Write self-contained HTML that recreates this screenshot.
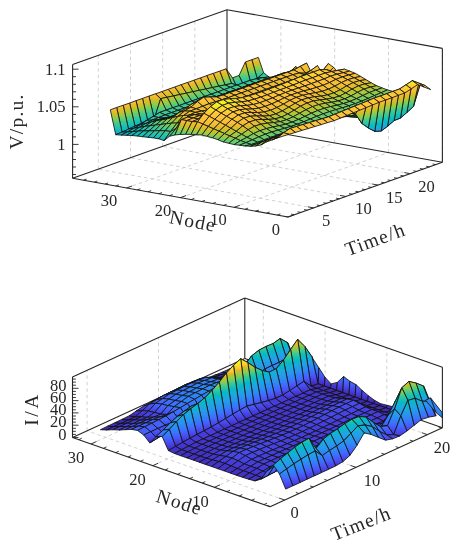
<!DOCTYPE html>
<html><head><meta charset="utf-8"><title>Surface plots</title>
<style>
html,body{margin:0;padding:0;background:#fff}
svg{display:block}
.b{stroke:#262626;stroke-width:1.1;fill:none}
.t{stroke:#262626;stroke-width:.9;fill:none}
.g{stroke:#cdcdcd;stroke-width:.9;stroke-dasharray:3.5 3;fill:none}
.s path{stroke:#111;stroke-width:.85;stroke-linejoin:round;stroke-opacity:1}
text{font-family:"Liberation Serif","Times New Roman",serif;fill:#262626}
.k{font-size:16.5px}
.l{font-size:19.5px;letter-spacing:1.2px}
</style></head><body>
<svg width="459" height="550" viewBox="0 0 459 550">
<rect width="459" height="550" fill="#fff"/>
<path class="g" d="M126.5 188L280.9 133.3"/>
<path class="g" d="M280.9 133.3L280.9 19.4"/>
<path class="g" d="M180.3 197.7L334.7 143"/>
<path class="g" d="M334.7 143L334.7 29.1"/>
<path class="g" d="M234.2 207.3L388.5 152.6"/>
<path class="g" d="M388.5 152.6L388.5 38.7"/>
<path class="g" d="M288 217L442.4 162.3"/>
<path class="g" d="M442.4 162.3L442.4 48.4"/>
<path class="g" d="M313.7 207.9L98.3 169.2"/>
<path class="g" d="M98.3 169.2L98.3 55.3"/>
<path class="g" d="M345.9 196.5L130.5 157.8"/>
<path class="g" d="M130.5 157.8L130.5 43.9"/>
<path class="g" d="M378.1 185.1L162.7 146.4"/>
<path class="g" d="M162.7 146.4L162.7 32.5"/>
<path class="g" d="M410.2 173.7L194.8 135"/>
<path class="g" d="M194.8 135L194.8 21.1"/>
<path class="b" d="M72.6 178.3L227 123.6"/>
<path class="b" d="M227 123.6L442.4 162.3"/>
<path class="b" d="M227 123.6L227 9.7"/>
<path class="b" d="M72.6 64.4L227 9.7"/>
<path class="b" d="M227 9.7L442.4 48.4"/>
<path class="b" d="M442.4 162.3L442.4 48.4"/>
<path class="b" d="M72.6 178.3L72.6 64.4"/>
<path class="b" d="M72.6 178.3L288 217"/>
<path class="b" d="M288 217L442.4 162.3"/>
<g class="s">
<defs><linearGradient id="gt" gradientUnits="userSpaceOnUse" x1="0" y1="-26.3" x2="0" y2="-90.3"><stop offset="0.0000" stop-color="#3e26a8"/><stop offset="0.0553" stop-color="#4537d5"/><stop offset="0.1107" stop-color="#484cf0"/><stop offset="0.1261" stop-color="#4852f4"/><stop offset="0.1661" stop-color="#4562fc"/><stop offset="0.1765" stop-color="#4267fd"/><stop offset="0.2020" stop-color="#3b73ff"/><stop offset="0.2180" stop-color="#337afd"/><stop offset="0.2463" stop-color="#2e87f7"/><stop offset="0.2691" stop-color="#2c90f0"/><stop offset="0.2824" stop-color="#2895ec"/><stop offset="0.2854" stop-color="#2797eb"/><stop offset="0.3279" stop-color="#1fa4e2"/><stop offset="0.3723" stop-color="#12b1d6"/><stop offset="0.3918" stop-color="#0bb6cd"/><stop offset="0.4136" stop-color="#05bac4"/><stop offset="0.4463" stop-color="#12beb9"/><stop offset="0.4900" stop-color="#29c4a6"/><stop offset="0.5243" stop-color="#37c897"/><stop offset="0.5664" stop-color="#57cb7a"/><stop offset="0.5882" stop-color="#69cc6c"/><stop offset="0.6041" stop-color="#7acc5e"/><stop offset="0.6279" stop-color="#94ca4b"/><stop offset="0.6552" stop-color="#abc739"/><stop offset="0.6835" stop-color="#c7c22a"/><stop offset="0.7121" stop-color="#dcbd29"/><stop offset="0.7391" stop-color="#f0ba30"/><stop offset="0.7471" stop-color="#f4bd33"/><stop offset="0.8308" stop-color="#fec338"/><stop offset="0.8706" stop-color="#fdc836"/><stop offset="0.8926" stop-color="#fbd430"/><stop offset="0.9221" stop-color="#f5e426"/><stop offset="0.9294" stop-color="#f5e823"/><stop offset="0.9576" stop-color="#f5f01d"/><stop offset="1.0000" stop-color="#f9fb15"/></linearGradient></defs>
<path transform="translate(0 134.3)" d="M257.2 -55.8L263.6 -61.6L258.3 -76.9L251.8 -74.6Z" fill="url(#gt)"/>
<path transform="translate(0 136.6)" d="M250.8 -53.2L257.2 -58.1L251.8 -76.9L245.4 -74.6Z" fill="url(#gt)"/>
<path transform="translate(0 138.8)" d="M244.3 -51.8L250.8 -55.5L245.4 -76.9L239 -63.3Z" fill="url(#gt)"/>
<path transform="translate(0 141.1)" d="M237.9 -51.8L244.3 -54.1L239 -65.6L232.5 -63.3Z" fill="url(#gt)"/>
<path transform="translate(0 143.4)" d="M231.5 -59.9L237.9 -54.1L232.5 -65.6L226.1 -74.6Z" fill="url(#gt)"/>
<path transform="translate(0 145.7)" d="M225 -60.8L231.5 -62.2L226.1 -76.9L219.7 -74.6Z" fill="url(#gt)"/>
<path transform="translate(0 148)" d="M218.6 -61.7L225 -63.1L219.7 -76.9L213.2 -74.6Z" fill="url(#gt)"/>
<path transform="translate(0 150.2)" d="M212.2 -62.6L218.6 -64L213.2 -76.9L206.8 -74.6Z" fill="url(#gt)"/>
<path transform="translate(0 152.5)" d="M205.7 -63.5L212.2 -64.9L206.8 -76.9L200.4 -74.6Z" fill="url(#gt)"/>
<path transform="translate(0 154.8)" d="M199.3 -64.4L205.7 -65.8L200.4 -76.9L193.9 -74.6Z" fill="url(#gt)"/>
<path transform="translate(0 157.1)" d="M192.9 -65.3L199.3 -66.7L193.9 -76.9L187.5 -74.6Z" fill="url(#gt)"/>
<path transform="translate(0 159.3)" d="M186.4 -66.2L192.9 -67.6L187.5 -76.9L181.1 -74.6Z" fill="url(#gt)"/>
<path transform="translate(0 161.6)" d="M180 -67.1L186.4 -68.5L181.1 -76.9L174.6 -74.6Z" fill="url(#gt)"/>
<path transform="translate(0 163.9)" d="M173.6 -68L180 -69.4L174.6 -76.9L168.2 -74.6Z" fill="url(#gt)"/>
<path transform="translate(0 166.2)" d="M167.1 -68.9L173.6 -70.3L168.2 -76.9L161.8 -74.6Z" fill="url(#gt)"/>
<path transform="translate(0 168.5)" d="M160.7 -69.8L167.1 -71.2L161.8 -76.9L155.3 -74.6Z" fill="url(#gt)"/>
<path transform="translate(0 170.7)" d="M154.3 -51.8L160.7 -72.1L155.3 -76.9L148.9 -74.6Z" fill="url(#gt)"/>
<path transform="translate(0 173)" d="M147.8 -51.8L154.3 -54.1L148.9 -76.9L142.5 -74.6Z" fill="url(#gt)"/>
<path transform="translate(0 175.3)" d="M141.4 -51.8L147.8 -54.1L142.5 -76.9L136 -74.6Z" fill="url(#gt)"/>
<path transform="translate(0 177.6)" d="M135 -51.4L141.4 -54.1L136 -76.9L129.6 -74.6Z" fill="url(#gt)"/>
<path transform="translate(0 179.9)" d="M128.5 -50.7L135 -53.7L129.6 -76.9L123.2 -74.6Z" fill="url(#gt)"/>
<path transform="translate(0 182.1)" d="M122.1 -50L128.5 -53L123.2 -76.9L116.7 -74.6Z" fill="url(#gt)"/>
<path transform="translate(0 184.4)" d="M115.7 -49.8L122.1 -52.3L116.7 -76.9L110.3 -74.6Z" fill="url(#gt)"/>
<path d="M262.6 77.7L269 77L263.6 72.7L257.2 78.5Z" fill="#30c69e"/>
<path transform="translate(0 137.5)" d="M256.2 -58.7L262.6 -59.8L257.2 -59.1L250.8 -54.1Z" fill="url(#gt)"/>
<path transform="translate(0 139.8)" d="M249.7 -59.3L256.2 -61L250.8 -56.4L244.3 -52.8Z" fill="url(#gt)"/>
<path transform="translate(0 142.1)" d="M243.3 -59.3L249.7 -61.6L244.3 -55L237.9 -52.8Z" fill="url(#gt)"/>
<path transform="translate(0 144.4)" d="M236.9 -59.3L243.3 -61.6L237.9 -55L231.5 -60.9Z" fill="url(#gt)"/>
<path d="M230.4 87.3L236.9 85L231.5 83.5L225 84.9Z" fill="#4aca86"/>
<path d="M224 89.6L230.4 87.3L225 84.9L218.6 86.2Z" fill="#4fcb81"/>
<path d="M217.6 91.9L224 89.6L218.6 86.2L212.2 87.6Z" fill="#55cb7c"/>
<path transform="translate(0 153.5)" d="M211.1 -59.3L217.6 -61.6L212.2 -65.9L205.7 -64.5Z" fill="url(#gt)"/>
<path transform="translate(0 155.8)" d="M204.7 -59.3L211.1 -61.6L205.7 -66.8L199.3 -65.4Z" fill="url(#gt)"/>
<path transform="translate(0 158)" d="M198.3 -59.3L204.7 -61.6L199.3 -67.7L192.9 -66.3Z" fill="url(#gt)"/>
<path transform="translate(0 160.3)" d="M191.8 -59.3L198.3 -61.6L192.9 -68.6L186.4 -67.2Z" fill="url(#gt)"/>
<path transform="translate(0 162.6)" d="M185.4 -59.3L191.8 -61.6L186.4 -69.5L180 -68.1Z" fill="url(#gt)"/>
<path transform="translate(0 164.9)" d="M179 -59.3L185.4 -61.6L180 -70.4L173.6 -69Z" fill="url(#gt)"/>
<path transform="translate(0 167.2)" d="M172.5 -59.3L179 -61.6L173.6 -71.3L167.1 -69.9Z" fill="url(#gt)"/>
<path transform="translate(0 169.4)" d="M166.1 -59.3L172.5 -61.6L167.1 -72.2L160.7 -70.8Z" fill="url(#gt)"/>
<path transform="translate(0 171.7)" d="M159.7 -59.3L166.1 -61.6L160.7 -73.1L154.3 -52.8Z" fill="url(#gt)"/>
<path transform="translate(0 174)" d="M153.2 -57.6L159.7 -61.6L154.3 -55L147.8 -52.8Z" fill="url(#gt)"/>
<path transform="translate(0 176.3)" d="M146.8 -56L153.2 -59.9L147.8 -55L141.4 -52.8Z" fill="url(#gt)"/>
<path transform="translate(0 178.5)" d="M140.4 -53.7L146.8 -58.2L141.4 -55L135 -52.4Z" fill="url(#gt)"/>
<path d="M133.9 128.3L140.4 124.8L135 126.1L128.5 129.1Z" fill="#0bbcbf"/>
<path d="M127.5 131.9L133.9 128.3L128.5 129.1L122.1 132.1Z" fill="#05bac5"/>
<path d="M121.1 135.1L127.5 131.9L122.1 132.1L115.7 134.7Z" fill="#09b8ca"/>
<path d="M268 79.1L274.4 77.5L269 77L262.6 77.7Z" fill="#2dc5a1"/>
<path d="M261.6 80.9L268 79.1L262.6 77.7L256.2 78.8Z" fill="#34c79b"/>
<path d="M255.1 83L261.6 80.9L256.2 78.8L249.7 80.5Z" fill="#38c896"/>
<path d="M248.7 85.2L255.1 83L249.7 80.5L243.3 82.8Z" fill="#3bc894"/>
<path d="M242.2 87.5L248.7 85.2L243.3 82.8L236.9 85Z" fill="#3bc894"/>
<path d="M235.8 89.8L242.2 87.5L236.9 85L230.4 87.3Z" fill="#3bc894"/>
<path d="M229.4 92.1L235.8 89.8L230.4 87.3L224 89.6Z" fill="#3bc894"/>
<path d="M222.9 94.4L229.4 92.1L224 89.6L217.6 91.9Z" fill="#3bc894"/>
<path d="M216.5 96.6L222.9 94.4L217.6 91.9L211.1 94.2Z" fill="#3bc894"/>
<path d="M210.1 98.9L216.5 96.6L211.1 94.2L204.7 96.4Z" fill="#3bc894"/>
<path d="M203.7 101.2L210.1 98.9L204.7 96.4L198.3 98.7Z" fill="#3bc894"/>
<path d="M197.2 103.5L203.7 101.2L198.3 98.7L191.8 101Z" fill="#3bc894"/>
<path d="M190.8 105.8L197.2 103.5L191.8 101L185.4 103.3Z" fill="#3bc894"/>
<path d="M184.4 108L190.8 105.8L185.4 103.3L179 105.6Z" fill="#3bc894"/>
<path d="M177.9 110.3L184.4 108L179 105.6L172.5 107.8Z" fill="#3bc894"/>
<path d="M171.5 112.6L177.9 110.3L172.5 107.8L166.1 110.1Z" fill="#3bc894"/>
<path d="M165.1 114.9L171.5 112.6L166.1 110.1L159.7 112.4Z" fill="#3bc894"/>
<path d="M158.6 117.5L165.1 114.9L159.7 112.4L153.2 116.4Z" fill="#36c898"/>
<path d="M152.2 120.1L158.6 117.5L153.2 116.4L146.8 120.3Z" fill="#2fc69f"/>
<path d="M145.8 123.5L152.2 120.1L146.8 120.3L140.4 124.8Z" fill="#26c3a8"/>
<path d="M139.3 127.4L145.8 123.5L140.4 124.8L133.9 128.3Z" fill="#19c0b3"/>
<path d="M132.9 131.5L139.3 127.4L133.9 128.3L127.5 131.9Z" fill="#0ebdbc"/>
<path d="M126.5 135.3L132.9 131.5L127.5 131.9L121.1 135.1Z" fill="#06bac4"/>
<path d="M273.4 80.2L279.8 78L274.4 77.5L268 79.1Z" fill="#2ec5a0"/>
<path d="M266.9 82.4L273.4 80.2L268 79.1L261.6 80.9Z" fill="#30c69e"/>
<path d="M260.5 84.7L266.9 82.4L261.6 80.9L255.1 83Z" fill="#31c69d"/>
<path d="M254.1 87L260.5 84.7L255.1 83L248.7 85.2Z" fill="#32c69c"/>
<path d="M247.6 89.2L254.1 87L248.7 85.2L242.2 87.5Z" fill="#32c69c"/>
<path d="M241.2 91.5L247.6 89.2L242.2 87.5L235.8 89.8Z" fill="#32c69c"/>
<path d="M234.8 93.8L241.2 91.5L235.8 89.8L229.4 92.1Z" fill="#32c69c"/>
<path d="M228.3 96.1L234.8 93.8L229.4 92.1L222.9 94.4Z" fill="#32c69c"/>
<path d="M221.9 98.4L228.3 96.1L222.9 94.4L216.5 96.6Z" fill="#32c69c"/>
<path d="M215.5 100.6L221.9 98.4L216.5 96.6L210.1 98.9Z" fill="#32c69c"/>
<path d="M209 102.9L215.5 100.6L210.1 98.9L203.7 101.2Z" fill="#32c69c"/>
<path d="M202.6 105.2L209 102.9L203.7 101.2L197.2 103.5Z" fill="#32c69c"/>
<path d="M196.2 107.5L202.6 105.2L197.2 103.5L190.8 105.8Z" fill="#32c69c"/>
<path d="M189.7 109.7L196.2 107.5L190.8 105.8L184.4 108Z" fill="#32c69c"/>
<path d="M183.3 112L189.7 109.7L184.4 108L177.9 110.3Z" fill="#32c69c"/>
<path d="M176.9 114.3L183.3 112L177.9 110.3L171.5 112.6Z" fill="#32c69c"/>
<path d="M170.4 116.6L176.9 114.3L171.5 112.6L165.1 114.9Z" fill="#32c69c"/>
<path d="M164 118.1L170.4 116.6L165.1 114.9L158.6 117.5Z" fill="#32c79c"/>
<path d="M157.6 119.7L164 118.1L158.6 117.5L152.2 120.1Z" fill="#34c79b"/>
<path d="M151.1 122.1L157.6 119.7L152.2 120.1L145.8 123.5Z" fill="#32c79c"/>
<path transform="translate(0 182.8)" d="M144.7 -56.3L151.1 -60.6L145.8 -59.3L139.3 -55.4Z" fill="url(#gt)"/>
<path d="M138.3 131.1L144.7 126.5L139.3 127.4L132.9 131.5Z" fill="#1ac0b2"/>
<path d="M131.8 135.5L138.3 131.1L132.9 131.5L126.5 135.3Z" fill="#0cbcbe"/>
<path d="M278.8 80.3L285.2 77.4L279.8 78L273.4 80.2Z" fill="#33c79c"/>
<path d="M272.3 83.1L278.8 80.3L273.4 80.2L266.9 82.4Z" fill="#31c69d"/>
<path d="M265.9 85.6L272.3 83.1L266.9 82.4L260.5 84.7Z" fill="#30c69f"/>
<path d="M259.5 87.9L265.9 85.6L260.5 84.7L254.1 87Z" fill="#2fc69f"/>
<path d="M253 90.2L259.5 87.9L254.1 87L247.6 89.2Z" fill="#2fc69f"/>
<path d="M246.6 92.5L253 90.2L247.6 89.2L241.2 91.5Z" fill="#2fc69f"/>
<path d="M240.2 94.8L246.6 92.5L241.2 91.5L234.8 93.8Z" fill="#2fc69f"/>
<path d="M233.7 97L240.2 94.8L234.8 93.8L228.3 96.1Z" fill="#2fc69f"/>
<path d="M227.3 99.3L233.7 97L228.3 96.1L221.9 98.4Z" fill="#2fc69f"/>
<path d="M220.9 101.6L227.3 99.3L221.9 98.4L215.5 100.6Z" fill="#2fc69f"/>
<path d="M214.4 103.9L220.9 101.6L215.5 100.6L209 102.9Z" fill="#2fc69f"/>
<path d="M208 106.2L214.4 103.9L209 102.9L202.6 105.2Z" fill="#2fc69f"/>
<path d="M201.6 108.4L208 106.2L202.6 105.2L196.2 107.5Z" fill="#2fc69f"/>
<path d="M195.1 110.7L201.6 108.4L196.2 107.5L189.7 109.7Z" fill="#2fc69f"/>
<path d="M188.7 113L195.1 110.7L189.7 109.7L183.3 112Z" fill="#2fc69f"/>
<path d="M182.3 115.3L188.7 113L183.3 112L176.9 114.3Z" fill="#2fc69f"/>
<path d="M175.8 117.6L182.3 115.3L176.9 114.3L170.4 116.6Z" fill="#2fc69f"/>
<path d="M169.4 118.3L175.8 117.6L170.4 116.6L164 118.1Z" fill="#33c79b"/>
<path d="M163 119L169.4 118.3L164 118.1L157.6 119.7Z" fill="#3dc991"/>
<path d="M156.5 120.8L163 119L157.6 119.7L151.1 122.1Z" fill="#45ca8a"/>
<path transform="translate(0 183.7)" d="M150.1 -58.1L156.5 -62.9L151.1 -61.6L144.7 -57.2Z" fill="url(#gt)"/>
<path transform="translate(0 186)" d="M143.7 -55.1L150.1 -60.3L144.7 -59.5L138.3 -54.9Z" fill="url(#gt)"/>
<path d="M137.2 136L143.7 130.9L138.3 131.1L131.8 135.5Z" fill="#12beb9"/>
<path transform="translate(0 139.1)" d="M284.1 -60.7L290.6 -65.4L285.2 -61.8L278.8 -58.8Z" fill="url(#gt)"/>
<path d="M277.7 82.6L284.1 78.4L278.8 80.3L272.3 83.1Z" fill="#3cc992"/>
<path d="M271.3 85.9L277.7 82.6L272.3 83.1L265.9 85.6Z" fill="#34c79a"/>
<path d="M264.8 88.1L271.3 85.9L265.9 85.6L259.5 87.9Z" fill="#32c69c"/>
<path d="M258.4 90.4L264.8 88.1L259.5 87.9L253 90.2Z" fill="#32c69c"/>
<path d="M252 92.7L258.4 90.4L253 90.2L246.6 92.5Z" fill="#32c69c"/>
<path d="M245.5 95L252 92.7L246.6 92.5L240.2 94.8Z" fill="#32c69c"/>
<path d="M239.1 97.3L245.5 95L240.2 94.8L233.7 97Z" fill="#32c69c"/>
<path d="M232.7 99.5L239.1 97.3L233.7 97L227.3 99.3Z" fill="#32c69c"/>
<path d="M226.2 101.8L232.7 99.5L227.3 99.3L220.9 101.6Z" fill="#32c69c"/>
<path d="M219.8 104.1L226.2 101.8L220.9 101.6L214.4 103.9Z" fill="#32c69c"/>
<path d="M213.4 106.4L219.8 104.1L214.4 103.9L208 106.2Z" fill="#32c69c"/>
<path d="M206.9 108.7L213.4 106.4L208 106.2L201.6 108.4Z" fill="#32c69c"/>
<path d="M200.5 110.9L206.9 108.7L201.6 108.4L195.1 110.7Z" fill="#32c69c"/>
<path d="M194.1 113.2L200.5 110.9L195.1 110.7L188.7 113Z" fill="#32c69c"/>
<path d="M187.6 115.5L194.1 113.2L188.7 113L182.3 115.3Z" fill="#32c69c"/>
<path d="M181.2 117.8L187.6 115.5L182.3 115.3L175.8 117.6Z" fill="#32c69c"/>
<path d="M174.8 118L181.2 117.8L175.8 117.6L169.4 118.3Z" fill="#38c896"/>
<path d="M168.3 118.3L174.8 118L169.4 118.3L163 119Z" fill="#4dca83"/>
<path d="M161.9 119.8L168.3 118.3L163 119L156.5 120.8Z" fill="#5bcc77"/>
<path transform="translate(0 184.7)" d="M155.5 -59.6L161.9 -64.9L156.5 -63.9L150.1 -59Z" fill="url(#gt)"/>
<path transform="translate(0 187)" d="M149 -56.1L155.5 -61.9L150.1 -61.3L143.7 -56.1Z" fill="url(#gt)"/>
<path d="M142.6 136.7L149 130.9L143.7 130.9L137.2 136Z" fill="#18c0b4"/>
<path transform="translate(0 140.1)" d="M289.5 -68L296 -73.6L290.6 -66.4L284.1 -61.7Z" fill="url(#gt)"/>
<path transform="translate(0 142.4)" d="M283.1 -65L289.5 -70.2L284.1 -64L277.7 -59.8Z" fill="url(#gt)"/>
<path transform="translate(0 144.6)" d="M276.7 -63.8L283.1 -67.3L277.7 -62.1L271.3 -58.8Z" fill="url(#gt)"/>
<path transform="translate(0 146.9)" d="M270.2 -63.8L276.7 -66.1L271.3 -61.1L264.8 -58.8Z" fill="url(#gt)"/>
<path transform="translate(0 149.2)" d="M263.8 -63.8L270.2 -66.1L264.8 -61.1L258.4 -58.8Z" fill="url(#gt)"/>
<path transform="translate(0 151.5)" d="M257.4 -63.8L263.8 -66.1L258.4 -61.1L252 -58.8Z" fill="url(#gt)"/>
<path transform="translate(0 153.8)" d="M250.9 -63.8L257.4 -66.1L252 -61.1L245.5 -58.8Z" fill="url(#gt)"/>
<path transform="translate(0 156)" d="M244.5 -63.8L250.9 -66.1L245.5 -61.1L239.1 -58.8Z" fill="url(#gt)"/>
<path transform="translate(0 158.3)" d="M238.1 -63.8L244.5 -66.1L239.1 -61.1L232.7 -58.8Z" fill="url(#gt)"/>
<path transform="translate(0 160.6)" d="M231.6 -63.8L238.1 -66.1L232.7 -61.1L226.2 -58.8Z" fill="url(#gt)"/>
<path transform="translate(0 162.9)" d="M225.2 -63.8L231.6 -66.1L226.2 -61.1L219.8 -58.8Z" fill="url(#gt)"/>
<path transform="translate(0 165.2)" d="M218.8 -63.8L225.2 -66.1L219.8 -61.1L213.4 -58.8Z" fill="url(#gt)"/>
<path transform="translate(0 167.4)" d="M212.3 -63.8L218.8 -66.1L213.4 -61.1L206.9 -58.8Z" fill="url(#gt)"/>
<path transform="translate(0 169.7)" d="M205.9 -63.8L212.3 -66.1L206.9 -61.1L200.5 -58.8Z" fill="url(#gt)"/>
<path transform="translate(0 172)" d="M199.5 -63.9L205.9 -66.1L200.5 -61.1L194.1 -58.8Z" fill="url(#gt)"/>
<path transform="translate(0 174.3)" d="M193 -64L199.5 -66.2L194.1 -61.1L187.6 -58.8Z" fill="url(#gt)"/>
<path transform="translate(0 176.5)" d="M186.6 -63.9L193 -66.3L187.6 -61.1L181.2 -58.8Z" fill="url(#gt)"/>
<path transform="translate(0 178.8)" d="M180.2 -64.5L186.6 -66.2L181.2 -61.1L174.8 -60.8Z" fill="url(#gt)"/>
<path transform="translate(0 181.1)" d="M173.7 -65.2L180.2 -66.8L174.8 -63.1L168.3 -62.8Z" fill="url(#gt)"/>
<path d="M167.3 118.8L173.7 115.9L168.3 118.3L161.9 119.8Z" fill="#7ecc5c"/>
<path transform="translate(0 185.7)" d="M160.9 -61.1L167.3 -66.8L161.9 -65.8L155.5 -60.5Z" fill="url(#gt)"/>
<path transform="translate(0 187.9)" d="M154.4 -57.2L160.9 -63.4L155.5 -62.8L149 -57.1Z" fill="url(#gt)"/>
<path transform="translate(0 190.2)" d="M148 -52.9L154.4 -59.4L149 -59.3L142.6 -53.5Z" fill="url(#gt)"/>
<path transform="translate(0 141)" d="M294.9 -68.1L301.3 -66.9L296 -74.5L289.5 -68.9Z" fill="url(#gt)"/>
<path transform="translate(0 143.3)" d="M288.5 -71.1L294.9 -70.4L289.5 -71.2L283.1 -65.9Z" fill="url(#gt)"/>
<path transform="translate(0 145.6)" d="M282 -72.1L288.5 -73.4L283.1 -68.2L276.7 -64.8Z" fill="url(#gt)"/>
<path transform="translate(0 147.9)" d="M275.6 -72.1L282 -74.4L276.7 -67.1L270.2 -64.8Z" fill="url(#gt)"/>
<path transform="translate(0 150.2)" d="M269.2 -72.1L275.6 -74.4L270.2 -67.1L263.8 -64.8Z" fill="url(#gt)"/>
<path transform="translate(0 152.4)" d="M262.7 -72.1L269.2 -74.4L263.8 -67.1L257.4 -64.8Z" fill="url(#gt)"/>
<path transform="translate(0 154.7)" d="M256.3 -72.1L262.7 -74.4L257.4 -67.1L250.9 -64.8Z" fill="url(#gt)"/>
<path transform="translate(0 157)" d="M249.9 -72.1L256.3 -74.4L250.9 -67.1L244.5 -64.8Z" fill="url(#gt)"/>
<path transform="translate(0 159.3)" d="M243.4 -72.1L249.9 -74.4L244.5 -67.1L238.1 -64.8Z" fill="url(#gt)"/>
<path transform="translate(0 161.6)" d="M237 -72.1L243.4 -74.4L238.1 -67.1L231.6 -64.8Z" fill="url(#gt)"/>
<path transform="translate(0 163.8)" d="M230.6 -72.1L237 -74.4L231.6 -67.1L225.2 -64.8Z" fill="url(#gt)"/>
<path transform="translate(0 166.1)" d="M224.1 -72.1L230.6 -74.4L225.2 -67.1L218.8 -64.8Z" fill="url(#gt)"/>
<path transform="translate(0 168.4)" d="M217.7 -72.1L224.1 -74.4L218.8 -67.1L212.3 -64.8Z" fill="url(#gt)"/>
<path transform="translate(0 170.7)" d="M211.3 -72.4L217.7 -74.4L212.3 -67.1L205.9 -64.8Z" fill="url(#gt)"/>
<path transform="translate(0 173)" d="M204.8 -73.7L211.3 -74.7L205.9 -67.1L199.5 -64.9Z" fill="url(#gt)"/>
<path transform="translate(0 175.2)" d="M198.4 -75L204.8 -76L199.5 -67.2L193 -64.9Z" fill="url(#gt)"/>
<path transform="translate(0 177.5)" d="M192 -73.7L198.4 -77.3L193 -67.2L186.6 -64.9Z" fill="url(#gt)"/>
<path transform="translate(0 179.8)" d="M185.5 -71.1L192 -76L186.6 -67.2L180.2 -65.5Z" fill="url(#gt)"/>
<path transform="translate(0 182.1)" d="M179.1 -69.7L185.5 -73.4L180.2 -67.8L173.7 -66.2Z" fill="url(#gt)"/>
<path transform="translate(0 184.4)" d="M172.7 -66.8L179.1 -71.9L173.7 -68.5L167.3 -65.5Z" fill="url(#gt)"/>
<path transform="translate(0 186.6)" d="M166.2 -62.9L172.7 -69.1L167.3 -67.8L160.9 -62.1Z" fill="url(#gt)"/>
<path transform="translate(0 188.9)" d="M159.8 -58.3L166.2 -65.2L160.9 -64.4L154.4 -58.1Z" fill="url(#gt)"/>
<path transform="translate(0 191.2)" d="M153.4 -53.3L159.8 -60.6L154.4 -60.4L148 -53.9Z" fill="url(#gt)"/>
<path transform="translate(0 142)" d="M300.3 -75.7L306.7 -79L301.3 -67.8L294.9 -69.1Z" fill="url(#gt)"/>
<path transform="translate(0 144.3)" d="M293.9 -74.4L300.3 -78L294.9 -71.4L288.5 -72.1Z" fill="url(#gt)"/>
<path d="M287.4 72.2L293.9 69.9L288.5 72.2L282 73.5Z" fill="#f5bd33"/>
<path d="M281 74.5L287.4 72.2L282 73.5L275.6 75.8Z" fill="#f5be33"/>
<path d="M274.6 76.8L281 74.5L275.6 75.8L269.2 78.1Z" fill="#f5be33"/>
<path d="M268.1 79.1L274.6 76.8L269.2 78.1L262.7 80.3Z" fill="#f5be33"/>
<path d="M261.7 81.3L268.1 79.1L262.7 80.3L256.3 82.6Z" fill="#f5be33"/>
<path d="M255.3 83.6L261.7 81.3L256.3 82.6L249.9 84.9Z" fill="#f5be33"/>
<path d="M248.8 85.9L255.3 83.6L249.9 84.9L243.4 87.2Z" fill="#f5be33"/>
<path d="M242.4 88.2L248.8 85.9L243.4 87.2L237 89.5Z" fill="#f5be33"/>
<path d="M236 90.4L242.4 88.2L237 89.5L230.6 91.7Z" fill="#f5be33"/>
<path d="M229.5 92.7L236 90.4L230.6 91.7L224.1 94Z" fill="#f5be33"/>
<path d="M223.1 95L229.5 92.7L224.1 94L217.7 96.3Z" fill="#f5be33"/>
<path d="M216.7 96.8L223.1 95L217.7 96.3L211.3 98.3Z" fill="#f5be33"/>
<path transform="translate(0 173.9)" d="M210.2 -77L216.7 -77.1L211.3 -75.6L204.8 -74.7Z" fill="url(#gt)"/>
<path transform="translate(0 176.2)" d="M203.8 -79.1L210.2 -79.2L204.8 -76.9L198.4 -75.9Z" fill="url(#gt)"/>
<path transform="translate(0 178.5)" d="M197.4 -77L203.8 -81.4L198.4 -78.2L192 -74.7Z" fill="url(#gt)"/>
<path transform="translate(0 180.8)" d="M190.9 -73.6L197.4 -79.2L192 -76.9L185.5 -72.1Z" fill="url(#gt)"/>
<path transform="translate(0 183)" d="M184.5 -72.1L190.9 -75.9L185.5 -74.4L179.1 -70.6Z" fill="url(#gt)"/>
<path transform="translate(0 185.3)" d="M178.1 -69L184.5 -74.4L179.1 -72.9L172.7 -67.8Z" fill="url(#gt)"/>
<path transform="translate(0 187.6)" d="M171.6 -64.5L178.1 -71.3L172.7 -70.1L166.2 -63.8Z" fill="url(#gt)"/>
<path transform="translate(0 189.9)" d="M165.2 -59.1L171.6 -66.8L166.2 -66.1L159.8 -59.2Z" fill="url(#gt)"/>
<path transform="translate(0 192.2)" d="M158.8 -53.3L165.2 -61.4L159.8 -61.5L153.4 -54.3Z" fill="url(#gt)"/>
<path transform="translate(0 143)" d="M305.7 -69.7L312.1 -69.1L306.7 -79.9L300.3 -76.7Z" fill="url(#gt)"/>
<path transform="translate(0 145.3)" d="M299.2 -72.3L305.7 -72L300.3 -79L293.9 -75.3Z" fill="url(#gt)"/>
<path d="M292.8 74.7L299.2 73L293.9 69.9L287.4 72.2Z" fill="#f6be34"/>
<path d="M286.4 77L292.8 74.7L287.4 72.2L281 74.5Z" fill="#f6be34"/>
<path d="M279.9 79.2L286.4 77L281 74.5L274.6 76.8Z" fill="#f6be34"/>
<path d="M273.5 81.5L279.9 79.2L274.6 76.8L268.1 79.1Z" fill="#f6be34"/>
<path d="M267.1 83.8L273.5 81.5L268.1 79.1L261.7 81.3Z" fill="#f6be34"/>
<path d="M260.6 86.1L267.1 83.8L261.7 81.3L255.3 83.6Z" fill="#f6be34"/>
<path d="M254.2 88.4L260.6 86.1L255.3 83.6L248.8 85.9Z" fill="#f6be34"/>
<path d="M247.8 90.6L254.2 88.4L248.8 85.9L242.4 88.2Z" fill="#f6be34"/>
<path d="M241.3 92.9L247.8 90.6L242.4 88.2L236 90.4Z" fill="#f6be34"/>
<path d="M234.9 95.2L241.3 92.9L236 90.4L229.5 92.7Z" fill="#f6be34"/>
<path d="M228.5 97.5L234.9 95.2L229.5 92.7L223.1 95Z" fill="#f6be34"/>
<path d="M222 99.7L228.5 97.5L223.1 95L216.7 96.8Z" fill="#f6be34"/>
<path transform="translate(0 174.9)" d="M215.6 -73.2L222 -75.2L216.7 -78L210.2 -77.9Z" fill="url(#gt)"/>
<path transform="translate(0 177.2)" d="M209.2 -73.5L215.6 -75.5L210.2 -80.2L203.8 -80Z" fill="url(#gt)"/>
<path transform="translate(0 179.4)" d="M202.7 -73.2L209.2 -75.8L203.8 -82.3L197.4 -77.9Z" fill="url(#gt)"/>
<path transform="translate(0 181.7)" d="M196.3 -72.9L202.7 -75.5L197.4 -80.2L190.9 -74.6Z" fill="url(#gt)"/>
<path d="M189.9 111.1L196.3 108.8L190.9 107.1L184.5 111Z" fill="#f4bd33"/>
<path d="M183.4 115.6L189.9 111.1L184.5 111L178.1 116.3Z" fill="#e7bb2d"/>
<path transform="translate(0 188.6)" d="M177 -65.5L183.4 -73L178.1 -72.3L171.6 -65.5Z" fill="url(#gt)"/>
<path transform="translate(0 190.8)" d="M170.6 -59.3L177 -67.8L171.6 -67.7L165.2 -60.1Z" fill="url(#gt)"/>
<path transform="translate(0 193.1)" d="M164.1 -52.5L170.6 -61.6L165.2 -62.4L158.8 -54.3Z" fill="url(#gt)"/>
<path transform="translate(0 144)" d="M311.1 -73.7L317.5 -78.3L312.1 -70.1L305.7 -70.7Z" fill="url(#gt)"/>
<path transform="translate(0 146.2)" d="M304.6 -71.4L311.1 -75.9L305.7 -73L299.2 -73.2Z" fill="url(#gt)"/>
<path d="M298.2 77.9L304.6 74.9L299.2 73L292.8 74.7Z" fill="#edba30"/>
<path d="M291.8 80.2L298.2 77.9L292.8 74.7L286.4 77Z" fill="#edbb2f"/>
<path d="M285.3 82.5L291.8 80.2L286.4 77L279.9 79.2Z" fill="#edbb2f"/>
<path d="M278.9 84.7L285.3 82.5L279.9 79.2L273.5 81.5Z" fill="#edbb2f"/>
<path d="M272.5 87L278.9 84.7L273.5 81.5L267.1 83.8Z" fill="#edbb2f"/>
<path d="M266 89.3L272.5 87L267.1 83.8L260.6 86.1Z" fill="#edbb2f"/>
<path d="M259.6 91.6L266 89.3L260.6 86.1L254.2 88.4Z" fill="#edbb2f"/>
<path d="M253.2 93.9L259.6 91.6L254.2 88.4L247.8 90.6Z" fill="#edbb2f"/>
<path d="M246.7 96.1L253.2 93.9L247.8 90.6L241.3 92.9Z" fill="#edbb2f"/>
<path d="M240.3 98.4L246.7 96.1L241.3 92.9L234.9 95.2Z" fill="#edbb2f"/>
<path d="M233.9 100.7L240.3 98.4L234.9 95.2L228.5 97.5Z" fill="#edbb2f"/>
<path d="M227.4 103L233.9 100.7L228.5 97.5L222 99.7Z" fill="#edbb2f"/>
<path d="M221 105.3L227.4 103L222 99.7L215.6 101.7Z" fill="#eeba30"/>
<path d="M214.6 107.5L221 105.3L215.6 101.7L209.2 103.7Z" fill="#f0ba30"/>
<path d="M208.1 109.8L214.6 107.5L209.2 103.7L202.7 106.2Z" fill="#f0ba30"/>
<path d="M201.7 111.1L208.1 109.8L202.7 106.2L196.3 108.8Z" fill="#f1bb31"/>
<path d="M195.3 112.4L201.7 111.1L196.3 108.8L189.9 111.1Z" fill="#f4bd33"/>
<path d="M188.8 115.3L195.3 112.4L189.9 111.1L183.4 115.6Z" fill="#f0ba31"/>
<path transform="translate(0 189.5)" d="M182.4 -68L188.8 -74.3L183.4 -74L177 -66.5Z" fill="url(#gt)"/>
<path transform="translate(0 191.8)" d="M176 -63.2L182.4 -70.2L177 -68.7L170.6 -60.3Z" fill="url(#gt)"/>
<path transform="translate(0 194.1)" d="M169.5 -57.8L176 -65.5L170.6 -62.6L164.1 -53.5Z" fill="url(#gt)"/>
<path transform="translate(0 144.9)" d="M316.4 -68.5L322.9 -70.6L317.5 -79.3L311.1 -74.6Z" fill="url(#gt)"/>
<path transform="translate(0 147.2)" d="M310 -68.9L316.4 -70.8L311.1 -76.9L304.6 -72.3Z" fill="url(#gt)"/>
<path d="M303.6 81.1L310 78.3L304.6 74.9L298.2 77.9Z" fill="#d7be29"/>
<path d="M297.1 83.4L303.6 81.1L298.2 77.9L291.8 80.2Z" fill="#d3bf29"/>
<path d="M290.7 85.7L297.1 83.4L291.8 80.2L285.3 82.5Z" fill="#d3bf29"/>
<path d="M284.3 88L290.7 85.7L285.3 82.5L278.9 84.7Z" fill="#d3bf29"/>
<path d="M277.8 90.3L284.3 88L278.9 84.7L272.5 87Z" fill="#d3bf29"/>
<path d="M271.4 92.5L277.8 90.3L272.5 87L266 89.3Z" fill="#d3bf29"/>
<path d="M265 94.8L271.4 92.5L266 89.3L259.6 91.6Z" fill="#d3bf29"/>
<path d="M258.5 97.1L265 94.8L259.6 91.6L253.2 93.9Z" fill="#d3bf29"/>
<path d="M252.1 99.4L258.5 97.1L253.2 93.9L246.7 96.1Z" fill="#d3bf29"/>
<path d="M245.7 101.6L252.1 99.4L246.7 96.1L240.3 98.4Z" fill="#d3bf29"/>
<path d="M239.2 103.9L245.7 101.6L240.3 98.4L233.9 100.7Z" fill="#d3bf29"/>
<path d="M232.8 106.2L239.2 103.9L233.9 100.7L227.4 103Z" fill="#d3bf29"/>
<path d="M226.4 108.5L232.8 106.2L227.4 103L221 105.3Z" fill="#d3bf29"/>
<path d="M219.9 110.8L226.4 108.5L221 105.3L214.6 107.5Z" fill="#d3bf29"/>
<path d="M213.5 113L219.9 110.8L214.6 107.5L208.1 109.8Z" fill="#d3bf29"/>
<path d="M207.1 113.6L213.5 113L208.1 109.8L201.7 111.1Z" fill="#dbbd29"/>
<path d="M200.6 114.1L207.1 113.6L201.7 111.1L195.3 112.4Z" fill="#ebbb2f"/>
<path d="M194.2 114.7L200.6 114.1L195.3 112.4L188.8 115.3Z" fill="#f4bd33"/>
<path transform="translate(0 190.5)" d="M187.8 -73.4L194.2 -75.8L188.8 -75.2L182.4 -68.9Z" fill="url(#gt)"/>
<path transform="translate(0 192.8)" d="M181.3 -73.2L187.8 -75.7L182.4 -71.2L176 -64.1Z" fill="url(#gt)"/>
<path transform="translate(0 195.1)" d="M174.9 -60.1L181.3 -75.4L176 -66.4L169.5 -58.8Z" fill="url(#gt)"/>
<path transform="translate(0 145.9)" d="M321.8 -74.2L328.3 -82.4L322.9 -71.6L316.4 -69.4Z" fill="url(#gt)"/>
<path transform="translate(0 148.2)" d="M315.4 -69L321.8 -76.5L316.4 -71.7L310 -69.9Z" fill="url(#gt)"/>
<path d="M309 83.6L315.4 79.2L310 78.3L303.6 81.1Z" fill="#c5c22b"/>
<path d="M302.5 85.9L309 83.6L303.6 81.1L297.1 83.4Z" fill="#bac431"/>
<path d="M296.1 88.2L302.5 85.9L297.1 83.4L290.7 85.7Z" fill="#bac431"/>
<path d="M289.7 90.4L296.1 88.2L290.7 85.7L284.3 88Z" fill="#bac431"/>
<path d="M283.2 92.7L289.7 90.4L284.3 88L277.8 90.3Z" fill="#bac431"/>
<path d="M276.8 95L283.2 92.7L277.8 90.3L271.4 92.5Z" fill="#bac431"/>
<path d="M270.4 97.3L276.8 95L271.4 92.5L265 94.8Z" fill="#bac431"/>
<path d="M263.9 99.6L270.4 97.3L265 94.8L258.5 97.1Z" fill="#bac431"/>
<path d="M257.5 101.8L263.9 99.6L258.5 97.1L252.1 99.4Z" fill="#bac431"/>
<path d="M251.1 104.1L257.5 101.8L252.1 99.4L245.7 101.6Z" fill="#bac431"/>
<path d="M244.6 106.4L251.1 104.1L245.7 101.6L239.2 103.9Z" fill="#bac431"/>
<path d="M238.2 108.7L244.6 106.4L239.2 103.9L232.8 106.2Z" fill="#bac431"/>
<path d="M231.8 111L238.2 108.7L232.8 106.2L226.4 108.5Z" fill="#bac431"/>
<path d="M225.3 113.2L231.8 111L226.4 108.5L219.9 110.8Z" fill="#bac431"/>
<path d="M218.9 115.5L225.3 113.2L219.9 110.8L213.5 113Z" fill="#bac431"/>
<path d="M212.5 115.5L218.9 115.5L213.5 113L207.1 113.6Z" fill="#c9c12a"/>
<path d="M206 115.6L212.5 115.5L207.1 113.6L200.6 114.1Z" fill="#e0bc2a"/>
<path d="M199.6 115.6L206 115.6L200.6 114.1L194.2 114.7Z" fill="#f4bd33"/>
<path d="M193.2 118L199.6 115.6L194.2 114.7L187.8 117.1Z" fill="#f6be34"/>
<path d="M186.7 120.6L193.2 118L187.8 117.1L181.3 119.6Z" fill="#f5be33"/>
<path transform="translate(0 196)" d="M180.3 -61.6L186.7 -75.4L181.3 -76.4L174.9 -61Z" fill="url(#gt)"/>
<path transform="translate(0 146.9)" d="M327.2 -73.2L333.7 -79.5L328.3 -83.3L321.8 -75.1Z" fill="url(#gt)"/>
<path transform="translate(0 149.1)" d="M320.8 -70.1L327.2 -75.5L321.8 -77.4L315.4 -69.9Z" fill="url(#gt)"/>
<path d="M314.4 83.1L320.8 79.1L315.4 79.2L309 83.6Z" fill="#c8c12a"/>
<path d="M307.9 85.4L314.4 83.1L309 83.6L302.5 85.9Z" fill="#bac431"/>
<path d="M301.5 87.7L307.9 85.4L302.5 85.9L296.1 88.2Z" fill="#bac431"/>
<path d="M295.1 89.9L301.5 87.7L296.1 88.2L289.7 90.4Z" fill="#bac431"/>
<path d="M288.6 92.2L295.1 89.9L289.7 90.4L283.2 92.7Z" fill="#bac431"/>
<path d="M282.2 94.5L288.6 92.2L283.2 92.7L276.8 95Z" fill="#bac431"/>
<path d="M275.8 96.7L282.2 94.5L276.8 95L270.4 97.3Z" fill="#bac431"/>
<path d="M269.3 99L275.8 96.7L270.4 97.3L263.9 99.6Z" fill="#bbc431"/>
<path d="M262.9 101.3L269.3 99L263.9 99.6L257.5 101.8Z" fill="#bbc431"/>
<path d="M256.5 103.6L262.9 101.3L257.5 101.8L251.1 104.1Z" fill="#bac431"/>
<path d="M250 105.9L256.5 103.6L251.1 104.1L244.6 106.4Z" fill="#bac431"/>
<path d="M243.6 108.2L250 105.9L244.6 106.4L238.2 108.7Z" fill="#bac431"/>
<path d="M237.2 110.4L243.6 108.2L238.2 108.7L231.8 111Z" fill="#bac431"/>
<path d="M230.7 112.7L237.2 110.4L231.8 111L225.3 113.2Z" fill="#bac431"/>
<path d="M224.3 115L230.7 112.7L225.3 113.2L218.9 115.5Z" fill="#bac431"/>
<path d="M217.9 115.5L224.3 115L218.9 115.5L212.5 115.5Z" fill="#c9c12a"/>
<path d="M211.4 116L217.9 115.5L212.5 115.5L206 115.6Z" fill="#e0bc2a"/>
<path d="M205 116.6L211.4 116L206 115.6L199.6 115.6Z" fill="#f4bd33"/>
<path d="M198.6 119L205 116.6L199.6 115.6L193.2 118Z" fill="#f6be34"/>
<path d="M192.1 121.6L198.6 119L193.2 118L186.7 120.6Z" fill="#f5be33"/>
<path transform="translate(0 197)" d="M185.7 -62.7L192.1 -75.4L186.7 -76.4L180.3 -62.5Z" fill="url(#gt)"/>
<path transform="translate(0 147.8)" d="M332.6 -76.2L339 -73.6L333.7 -80.5L327.2 -74.2Z" fill="url(#gt)"/>
<path transform="translate(0 150.1)" d="M326.2 -80.5L332.6 -78.5L327.2 -76.4L320.8 -71Z" fill="url(#gt)"/>
<path transform="translate(0 152.4)" d="M319.7 -82.6L326.2 -82.8L320.8 -73.3L314.4 -69.3Z" fill="url(#gt)"/>
<path transform="translate(0 154.7)" d="M313.3 -82.6L319.7 -84.9L314.4 -71.6L307.9 -69.3Z" fill="url(#gt)"/>
<path transform="translate(0 156.9)" d="M306.9 -82.5L313.3 -84.9L307.9 -71.6L301.5 -69.3Z" fill="url(#gt)"/>
<path transform="translate(0 159.2)" d="M300.4 -82.6L306.9 -84.8L301.5 -71.6L295.1 -69.3Z" fill="url(#gt)"/>
<path transform="translate(0 161.5)" d="M294 -82.2L300.4 -84.8L295.1 -71.6L288.6 -69.3Z" fill="url(#gt)"/>
<path transform="translate(0 163.8)" d="M287.6 -81.9L294 -84.5L288.6 -71.6L282.2 -69.3Z" fill="url(#gt)"/>
<path transform="translate(0 166.1)" d="M281.1 -81.5L287.6 -84.1L282.2 -71.6L275.8 -69.3Z" fill="url(#gt)"/>
<path transform="translate(0 168.3)" d="M274.7 -81.4L281.1 -83.8L275.8 -71.6L269.3 -69.3Z" fill="url(#gt)"/>
<path transform="translate(0 170.6)" d="M268.3 -81.3L274.7 -83.7L269.3 -71.6L262.9 -69.3Z" fill="url(#gt)"/>
<path transform="translate(0 172.9)" d="M261.8 -81.1L268.3 -83.6L262.9 -71.6L256.5 -69.3Z" fill="url(#gt)"/>
<path transform="translate(0 175.2)" d="M255.4 -81.3L261.8 -83.4L256.5 -71.6L250 -69.3Z" fill="url(#gt)"/>
<path transform="translate(0 177.4)" d="M249 -81.6L255.4 -83.6L250 -71.6L243.6 -69.3Z" fill="url(#gt)"/>
<path transform="translate(0 179.7)" d="M242.5 -82.2L249 -83.9L243.6 -71.6L237.2 -69.3Z" fill="url(#gt)"/>
<path transform="translate(0 182)" d="M236.1 -83.5L242.5 -84.4L237.2 -71.6L230.7 -69.3Z" fill="url(#gt)"/>
<path transform="translate(0 184.3)" d="M229.7 -85.5L236.1 -85.7L230.7 -71.6L224.3 -69.3Z" fill="url(#gt)"/>
<path transform="translate(0 186.6)" d="M223.2 -87L229.7 -87.8L224.3 -71.6L217.9 -71.1Z" fill="url(#gt)"/>
<path transform="translate(0 188.8)" d="M216.8 -87L223.2 -89.3L217.9 -73.4L211.4 -72.8Z" fill="url(#gt)"/>
<path transform="translate(0 191.1)" d="M210.4 -84.5L216.8 -89.3L211.4 -75.1L205 -74.5Z" fill="url(#gt)"/>
<path transform="translate(0 193.4)" d="M203.9 -80.1L210.4 -86.8L205 -76.8L198.6 -74.4Z" fill="url(#gt)"/>
<path transform="translate(0 195.7)" d="M197.5 -74L203.9 -82.4L198.6 -76.7L192.1 -74.1Z" fill="url(#gt)"/>
<path transform="translate(0 198)" d="M191.1 -63.6L197.5 -76.2L192.1 -76.4L185.7 -63.7Z" fill="url(#gt)"/>
<path transform="translate(0 148.8)" d="M338 -78.5L344.4 -79.6L339 -74.6L332.6 -77.1Z" fill="url(#gt)"/>
<path transform="translate(0 151.1)" d="M331.6 -79.4L338 -80.8L332.6 -79.4L326.2 -81.5Z" fill="url(#gt)"/>
<path d="M325.1 73L331.6 71.6L326.2 69.6L319.7 69.7Z" fill="#fdcb34"/>
<path d="M318.7 75.4L325.1 73L319.7 69.7L313.3 72.1Z" fill="#fcd132"/>
<path d="M312.3 77.8L318.7 75.4L313.3 72.1L306.9 74.4Z" fill="#fcd032"/>
<path d="M305.8 80L312.3 77.8L306.9 74.4L300.4 76.7Z" fill="#fcd032"/>
<path d="M299.4 82.5L305.8 80L300.4 76.7L294 79.3Z" fill="#fccf33"/>
<path d="M293 85L299.4 82.5L294 79.3L287.6 81.9Z" fill="#fccd34"/>
<path d="M286.5 87.5L293 85L287.6 81.9L281.1 84.5Z" fill="#fdcb35"/>
<path d="M280.1 89.8L286.5 87.5L281.1 84.5L274.7 86.9Z" fill="#fdc935"/>
<path d="M273.7 92.3L280.1 89.8L274.7 86.9L268.3 89.3Z" fill="#fdc836"/>
<path d="M267.2 94.8L273.7 92.3L268.3 89.3L261.8 91.8Z" fill="#fdc836"/>
<path d="M260.8 97.1L267.2 94.8L261.8 91.8L255.4 93.8Z" fill="#fdc836"/>
<path d="M254.4 99.2L260.8 97.1L255.4 93.8L249 95.8Z" fill="#fdc836"/>
<path d="M247.9 100.9L254.4 99.2L249 95.8L242.5 97.6Z" fill="#fdcb35"/>
<path d="M241.5 101.9L247.9 100.9L242.5 97.6L236.1 98.5Z" fill="#fbd231"/>
<path transform="translate(0 185.3)" d="M235.1 -83L241.5 -83.3L236.1 -86.7L229.7 -86.5Z" fill="url(#gt)"/>
<path transform="translate(0 187.5)" d="M228.6 -84.4L235.1 -85.2L229.7 -88.7L223.2 -88Z" fill="url(#gt)"/>
<path d="M222.2 105.4L228.6 103.2L223.2 99.6L216.8 101.8Z" fill="#f5ef1e"/>
<path transform="translate(0 192.1)" d="M215.8 -82.1L222.2 -86.7L216.8 -90.3L210.4 -85.4Z" fill="url(#gt)"/>
<path transform="translate(0 194.4)" d="M209.3 -78.1L215.8 -84.4L210.4 -87.7L203.9 -81.1Z" fill="url(#gt)"/>
<path transform="translate(0 196.7)" d="M202.9 -72.6L209.3 -80.4L203.9 -83.4L197.5 -74.9Z" fill="url(#gt)"/>
<path transform="translate(0 198.9)" d="M196.5 -64.2L202.9 -74.8L197.5 -77.2L191.1 -64.6Z" fill="url(#gt)"/>
<path d="M343.4 72.7L349.8 71.1L344.4 69.1L338 70.3Z" fill="#fdc338"/>
<path d="M336.9 74.2L343.4 72.7L338 70.3L331.6 71.6Z" fill="#fec438"/>
<path d="M330.5 76.2L336.9 74.2L331.6 71.6L325.1 73Z" fill="#fec537"/>
<path d="M324.1 78.9L330.5 76.2L325.1 73L318.7 75.4Z" fill="#fec637"/>
<path d="M317.6 81.4L324.1 78.9L318.7 75.4L312.3 77.8Z" fill="#fec537"/>
<path d="M311.2 83.6L317.6 81.4L312.3 77.8L305.8 80Z" fill="#fec537"/>
<path d="M304.8 85.9L311.2 83.6L305.8 80L299.4 82.5Z" fill="#fec537"/>
<path d="M298.3 88L304.8 85.9L299.4 82.5L293 85Z" fill="#fec537"/>
<path d="M291.9 90.2L298.3 88L293 85L286.5 87.5Z" fill="#fec537"/>
<path d="M285.5 92.5L291.9 90.2L286.5 87.5L280.1 89.8Z" fill="#fec537"/>
<path d="M279 95.1L285.5 92.5L280.1 89.8L273.7 92.3Z" fill="#fec537"/>
<path d="M272.6 97.9L279 95.1L273.7 92.3L267.2 94.8Z" fill="#fec438"/>
<path d="M266.2 100.4L272.6 97.9L267.2 94.8L260.8 97.1Z" fill="#fec338"/>
<path d="M259.7 102.7L266.2 100.4L260.8 97.1L254.4 99.2Z" fill="#fec438"/>
<path d="M253.3 104.5L259.7 102.7L254.4 99.2L247.9 100.9Z" fill="#fec438"/>
<path d="M246.9 105.4L253.3 104.5L247.9 100.9L241.5 101.9Z" fill="#fec637"/>
<path transform="translate(0 186.2)" d="M240.4 -80.5L246.9 -80.8L241.5 -84.3L235.1 -83.9Z" fill="url(#gt)"/>
<path transform="translate(0 188.5)" d="M234 -81.9L240.4 -82.8L235.1 -86.2L228.6 -85.3Z" fill="url(#gt)"/>
<path d="M227.6 108.8L234 106.6L228.6 103.2L222.2 105.4Z" fill="#f7e029"/>
<path transform="translate(0 193.1)" d="M221.1 -79.8L227.6 -84.3L222.2 -87.6L215.8 -83.1Z" fill="url(#gt)"/>
<path transform="translate(0 195.3)" d="M214.7 -76L221.1 -82.1L215.8 -85.3L209.3 -79Z" fill="url(#gt)"/>
<path transform="translate(0 197.6)" d="M208.3 -71.2L214.7 -78.3L209.3 -81.3L202.9 -73.5Z" fill="url(#gt)"/>
<path transform="translate(0 199.9)" d="M201.8 -64.9L208.3 -73.4L202.9 -75.8L196.5 -65.2Z" fill="url(#gt)"/>
<path d="M348.8 75L355.2 73.3L349.8 71.1L343.4 72.7Z" fill="#fbc136"/>
<path d="M342.3 76.9L348.8 75L343.4 72.7L336.9 74.2Z" fill="#fcc237"/>
<path d="M335.9 79.4L342.3 76.9L336.9 74.2L330.5 76.2Z" fill="#fdc237"/>
<path d="M329.5 82.5L335.9 79.4L330.5 76.2L324.1 78.9Z" fill="#fcc237"/>
<path d="M323 85.3L329.5 82.5L324.1 78.9L317.6 81.4Z" fill="#fbc136"/>
<path d="M316.6 87.4L323 85.3L317.6 81.4L311.2 83.6Z" fill="#fbc136"/>
<path d="M310.2 89.3L316.6 87.4L311.2 83.6L304.8 85.9Z" fill="#fbc136"/>
<path d="M303.7 90.9L310.2 89.3L304.8 85.9L298.3 88Z" fill="#fcc237"/>
<path d="M297.3 92.8L303.7 90.9L298.3 88L291.9 90.2Z" fill="#fcc237"/>
<path d="M290.9 95L297.3 92.8L291.9 90.2L285.5 92.5Z" fill="#fdc237"/>
<path d="M284.4 97.8L290.9 95L285.5 92.5L279 95.1Z" fill="#fcc237"/>
<path d="M278 101L284.4 97.8L279 95.1L272.6 97.9Z" fill="#fbc136"/>
<path d="M271.6 103.9L278 101L272.6 97.9L266.2 100.4Z" fill="#fac136"/>
<path d="M265.1 106.4L271.6 103.9L266.2 100.4L259.7 102.7Z" fill="#f9c036"/>
<path d="M258.7 108.2L265.1 106.4L259.7 102.7L253.3 104.5Z" fill="#fac036"/>
<path transform="translate(0 184.9)" d="M252.3 -75.9L258.7 -76.7L253.3 -80.5L246.9 -79.5Z" fill="url(#gt)"/>
<path transform="translate(0 187.2)" d="M245.8 -78.1L252.3 -78.2L246.9 -81.8L240.4 -81.4Z" fill="url(#gt)"/>
<path d="M239.4 109.8L245.8 109.1L240.4 105.7L234 106.6Z" fill="#fdc836"/>
<path d="M233 111.9L239.4 109.8L234 106.6L227.6 108.8Z" fill="#fdcc34"/>
<path transform="translate(0 194)" d="M226.5 -77.7L233 -82.1L227.6 -85.2L221.1 -80.8Z" fill="url(#gt)"/>
<path transform="translate(0 196.3)" d="M220.1 -74L226.5 -80L221.1 -83.1L214.7 -77Z" fill="url(#gt)"/>
<path transform="translate(0 198.6)" d="M213.7 -69.8L220.1 -76.3L214.7 -79.3L208.3 -72.1Z" fill="url(#gt)"/>
<path transform="translate(0 200.9)" d="M207.2 -64.6L213.7 -72L208.3 -74.4L201.8 -65.8Z" fill="url(#gt)"/>
<path d="M354.1 77.8L360.6 76.4L355.2 73.3L348.8 75Z" fill="#f8bf35"/>
<path d="M347.7 79.7L354.1 77.8L348.8 75L342.3 76.9Z" fill="#f9c035"/>
<path d="M341.3 82.6L347.7 79.7L342.3 76.9L335.9 79.4Z" fill="#f9c035"/>
<path d="M334.8 86.2L341.3 82.6L335.9 79.4L329.5 82.5Z" fill="#f7bf34"/>
<path d="M328.4 89.2L334.8 86.2L329.5 82.5L323 85.3Z" fill="#f5be33"/>
<path d="M322 91.3L328.4 89.2L323 85.3L316.6 87.4Z" fill="#f5bd33"/>
<path d="M315.5 92.7L322 91.3L316.6 87.4L310.2 89.3Z" fill="#f6be34"/>
<path d="M309.1 93.8L315.5 92.7L310.2 89.3L303.7 90.9Z" fill="#f7bf34"/>
<path d="M302.7 95.3L309.1 93.8L303.7 90.9L297.3 92.8Z" fill="#f9c035"/>
<path d="M296.2 97.4L302.7 95.3L297.3 92.8L290.9 95Z" fill="#fac036"/>
<path d="M289.8 100.4L296.2 97.4L290.9 95L284.4 97.8Z" fill="#f9c035"/>
<path d="M283.4 104.1L289.8 100.4L284.4 97.8L278 101Z" fill="#f7bf34"/>
<path d="M276.9 107.5L283.4 104.1L278 101L271.6 103.9Z" fill="#f5be33"/>
<path d="M270.5 110.3L276.9 107.5L271.6 103.9L265.1 106.4Z" fill="#f4bd33"/>
<path d="M264.1 112L270.5 110.3L265.1 106.4L258.7 108.2Z" fill="#f4bd33"/>
<path transform="translate(0 185.9)" d="M257.6 -73.3L264.1 -73.8L258.7 -77.7L252.3 -76.9Z" fill="url(#gt)"/>
<path transform="translate(0 188.2)" d="M251.2 -75.7L257.6 -75.6L252.3 -79.2L245.8 -79.1Z" fill="url(#gt)"/>
<path transform="translate(0 190.4)" d="M244.8 -77.5L251.2 -78L245.8 -81.3L239.4 -80.7Z" fill="url(#gt)"/>
<path d="M238.3 114.9L244.8 112.9L239.4 109.8L233 111.9Z" fill="#fec537"/>
<path transform="translate(0 195)" d="M231.9 -75.7L238.3 -80L233 -83.1L226.5 -78.7Z" fill="url(#gt)"/>
<path transform="translate(0 197.3)" d="M225.5 -72L231.9 -78L226.5 -81L220.1 -75Z" fill="url(#gt)"/>
<path transform="translate(0 199.6)" d="M219 -68.4L225.5 -74.3L220.1 -77.3L213.7 -70.7Z" fill="url(#gt)"/>
<path transform="translate(0 201.8)" d="M212.6 -63.9L219 -70.6L213.7 -73L207.2 -65.5Z" fill="url(#gt)"/>
<path d="M359.5 80.7L366 79.6L360.6 76.4L354.1 77.8Z" fill="#f3bc32"/>
<path d="M353.1 82.6L359.5 80.7L354.1 77.8L347.7 79.7Z" fill="#f5bd33"/>
<path d="M346.7 85.9L353.1 82.6L347.7 79.7L341.3 82.6Z" fill="#f4bd33"/>
<path transform="translate(0 159.5)" d="M340.2 -69.7L346.7 -73.6L341.3 -76.9L334.8 -73.3Z" fill="url(#gt)"/>
<path d="M333.8 92.9L340.2 89.8L334.8 86.2L328.4 89.2Z" fill="#e0bc2a"/>
<path d="M327.4 94.9L333.8 92.9L328.4 89.2L322 91.3Z" fill="#ddbd29"/>
<path d="M320.9 96.1L327.4 94.9L322 91.3L315.5 92.7Z" fill="#e4bc2c"/>
<path d="M314.5 96.8L320.9 96.1L315.5 92.7L309.1 93.8Z" fill="#f1bb31"/>
<path d="M308.1 97.9L314.5 96.8L309.1 93.8L302.7 95.3Z" fill="#f5be33"/>
<path d="M301.6 99.9L308.1 97.9L302.7 95.3L296.2 97.4Z" fill="#f6be34"/>
<path d="M295.2 103.2L301.6 99.9L296.2 97.4L289.8 100.4Z" fill="#f6be34"/>
<path d="M288.8 107.1L295.2 103.2L289.8 100.4L283.4 104.1Z" fill="#f3bc32"/>
<path d="M282.3 110.9L288.8 107.1L283.4 104.1L276.9 107.5Z" fill="#e5bc2c"/>
<path d="M275.9 113.9L282.3 110.9L276.9 107.5L270.5 110.3Z" fill="#d9be29"/>
<path d="M269.5 115.7L275.9 113.9L270.5 110.3L264.1 112Z" fill="#d9be29"/>
<path transform="translate(0 186.8)" d="M263 -70.8L269.5 -71.2L264.1 -74.8L257.6 -74.3Z" fill="url(#gt)"/>
<path transform="translate(0 189.1)" d="M256.6 -73.3L263 -73L257.6 -76.5L251.2 -76.7Z" fill="url(#gt)"/>
<path transform="translate(0 191.4)" d="M250.2 -75.2L256.6 -75.6L251.2 -79L244.8 -78.5Z" fill="url(#gt)"/>
<path d="M243.7 118.2L250.2 116.2L244.8 112.9L238.3 114.9Z" fill="#fcc237"/>
<path transform="translate(0 196)" d="M237.3 -73.5L243.7 -77.8L238.3 -81L231.9 -76.7Z" fill="url(#gt)"/>
<path transform="translate(0 198.2)" d="M230.9 -69.9L237.3 -75.8L231.9 -79L225.5 -72.9Z" fill="url(#gt)"/>
<path transform="translate(0 200.5)" d="M224.4 -67L230.9 -72.2L225.5 -75.2L219 -69.3Z" fill="url(#gt)"/>
<path transform="translate(0 202.8)" d="M218 -63.1L224.4 -69.3L219 -71.6L212.6 -64.9Z" fill="url(#gt)"/>
<path d="M364.9 83.9L371.3 82.8L366 79.6L359.5 80.7Z" fill="#dcbd29"/>
<path d="M358.5 85.8L364.9 83.9L359.5 80.7L353.1 82.6Z" fill="#e5bc2c"/>
<path d="M352 89.1L358.5 85.8L353.1 82.6L346.7 85.9Z" fill="#e2bc2b"/>
<path transform="translate(0 160.5)" d="M345.6 -67.4L352 -71.4L346.7 -74.6L340.2 -70.7Z" fill="url(#gt)"/>
<path d="M339.2 96.2L345.6 93L340.2 89.8L333.8 92.9Z" fill="#c3c32c"/>
<path d="M332.7 98.1L339.2 96.2L333.8 92.9L327.4 94.9Z" fill="#bec32f"/>
<path d="M326.3 99.2L332.7 98.1L327.4 94.9L320.9 96.1Z" fill="#c9c12a"/>
<path d="M319.9 99.9L326.3 99.2L320.9 96.1L314.5 96.8Z" fill="#d9be29"/>
<path d="M313.4 101L319.9 99.9L314.5 96.8L308.1 97.9Z" fill="#e8bb2e"/>
<path d="M307 103L313.4 101L308.1 97.9L301.6 99.9Z" fill="#f0ba31"/>
<path d="M300.6 106.2L307 103L301.6 99.9L295.2 103.2Z" fill="#edbb2f"/>
<path d="M294.1 110.2L300.6 106.2L295.2 103.2L288.8 107.1Z" fill="#debd29"/>
<path d="M287.7 114L294.1 110.2L288.8 107.1L282.3 110.9Z" fill="#cbc12a"/>
<path d="M281.3 117.1L287.7 114L282.3 110.9L275.9 113.9Z" fill="#bbc430"/>
<path d="M274.8 118.9L281.3 117.1L275.9 113.9L269.5 115.7Z" fill="#b9c431"/>
<path transform="translate(0 187.8)" d="M268.4 -68.4L274.8 -68.9L269.5 -72.1L263 -71.7Z" fill="url(#gt)"/>
<path transform="translate(0 190.1)" d="M262 -70.7L268.4 -70.7L263 -74L256.6 -74.3Z" fill="url(#gt)"/>
<path transform="translate(0 192.4)" d="M255.5 -72.4L262 -73L256.6 -76.5L250.2 -76.1Z" fill="url(#gt)"/>
<path d="M249.1 122L255.5 120L250.2 116.2L243.7 118.2Z" fill="#f6be34"/>
<path transform="translate(0 196.9)" d="M242.7 -71L249.1 -75L243.7 -78.7L237.3 -74.5Z" fill="url(#gt)"/>
<path transform="translate(0 199.2)" d="M236.2 -67.9L242.7 -73.3L237.3 -76.8L230.9 -70.9Z" fill="url(#gt)"/>
<path transform="translate(0 201.5)" d="M229.8 -65.6L236.2 -70.2L230.9 -73.2L224.4 -67.9Z" fill="url(#gt)"/>
<path transform="translate(0 203.8)" d="M223.4 -61.8L229.8 -67.9L224.4 -70.2L218 -64Z" fill="url(#gt)"/>
<path d="M370.3 87.1L376.7 85.7L371.3 82.8L364.9 83.9Z" fill="#c2c32d"/>
<path d="M363.9 89.1L370.3 87.1L364.9 83.9L358.5 85.8Z" fill="#cbc12a"/>
<path d="M357.4 92.3L363.9 89.1L358.5 85.8L352 89.1Z" fill="#c7c22a"/>
<path d="M351 95.9L357.4 92.3L352 89.1L345.6 93Z" fill="#b5c534"/>
<path d="M344.6 98.9L351 95.9L345.6 93L339.2 96.2Z" fill="#a4c83e"/>
<path d="M338.1 100.9L344.6 98.9L339.2 96.2L332.7 98.1Z" fill="#a1c841"/>
<path d="M331.7 102.3L338.1 100.9L332.7 98.1L326.3 99.2Z" fill="#aac73a"/>
<path d="M325.3 103.2L331.7 102.3L326.3 99.2L319.9 99.9Z" fill="#bdc42f"/>
<path d="M318.8 104.6L325.3 103.2L319.9 99.9L313.4 101Z" fill="#cec02a"/>
<path d="M312.4 106.6L318.8 104.6L313.4 101L307 103Z" fill="#d5be29"/>
<path d="M306 109.7L312.4 106.6L307 103L300.6 106.2Z" fill="#d2bf29"/>
<path d="M299.5 113.3L306 109.7L300.6 106.2L294.1 110.2Z" fill="#c4c22c"/>
<path d="M293.1 116.8L299.5 113.3L294.1 110.2L287.7 114Z" fill="#adc638"/>
<path d="M286.7 119.7L293.1 116.8L287.7 114L281.3 117.1Z" fill="#9fc942"/>
<path d="M280.2 121.6L286.7 119.7L281.3 117.1L274.8 118.9Z" fill="#9dc944"/>
<path d="M273.8 122.6L280.2 121.6L274.8 118.9L268.4 119.4Z" fill="#aac73a"/>
<path transform="translate(0 191.1)" d="M267.4 -67.9L273.8 -68.5L268.4 -71.6L262 -71.6Z" fill="url(#gt)"/>
<path transform="translate(0 193.3)" d="M260.9 -69.1L267.4 -70.2L262 -73.9L255.5 -73.4Z" fill="url(#gt)"/>
<path d="M254.5 126.2L260.9 124.2L255.5 120L249.1 122Z" fill="#e4bc2c"/>
<path transform="translate(0 197.9)" d="M248.1 -68.2L254.5 -71.7L249.1 -75.9L242.7 -72Z" fill="url(#gt)"/>
<path transform="translate(0 200.2)" d="M241.6 -65.9L248.1 -70.5L242.7 -74.3L236.2 -68.9Z" fill="url(#gt)"/>
<path d="M235.2 138.3L241.6 134.3L236.2 131.3L229.8 135.9Z" fill="#a2c840"/>
<path transform="translate(0 204.7)" d="M228.8 -61.4L235.2 -66.5L229.8 -68.8L223.4 -62.8Z" fill="url(#gt)"/>
<path d="M375.7 90.1L382.1 87.9L376.7 85.7L370.3 87.1Z" fill="#a7c73d"/>
<path d="M369.2 92.5L375.7 90.1L370.3 87.1L363.9 89.1Z" fill="#aac73a"/>
<path d="M362.8 95.5L369.2 92.5L363.9 89.1L357.4 92.3Z" fill="#a5c83e"/>
<path d="M356.4 98.7L362.8 95.5L357.4 92.3L351 95.9Z" fill="#98ca48"/>
<path d="M349.9 101.4L356.4 98.7L351 95.9L344.6 98.9Z" fill="#8bcb52"/>
<path d="M343.5 103.5L349.9 101.4L344.6 98.9L338.1 100.9Z" fill="#88cb54"/>
<path d="M337.1 105.2L343.5 103.5L338.1 100.9L331.7 102.3Z" fill="#90ca4e"/>
<path d="M330.6 106.6L337.1 105.2L331.7 102.3L325.3 103.2Z" fill="#9dc944"/>
<path d="M324.2 108.3L330.6 106.6L325.3 103.2L318.8 104.6Z" fill="#aac73a"/>
<path d="M317.8 110.5L324.2 108.3L318.8 104.6L312.4 106.6Z" fill="#b1c636"/>
<path d="M311.4 113.2L317.8 110.5L312.4 106.6L306 109.7Z" fill="#adc638"/>
<path d="M304.9 116.4L311.4 113.2L306 109.7L299.5 113.3Z" fill="#a2c840"/>
<path d="M298.5 119.4L304.9 116.4L299.5 113.3L293.1 116.8Z" fill="#93ca4c"/>
<path d="M292.1 122.1L298.5 119.4L293.1 116.8L286.7 119.7Z" fill="#86cb55"/>
<path d="M285.6 124.2L292.1 122.1L286.7 119.7L280.2 121.6Z" fill="#85cb57"/>
<path d="M279.2 125.7L285.6 124.2L280.2 121.6L273.8 122.6Z" fill="#90cb4f"/>
<path transform="translate(0 192)" d="M272.8 -65L279.2 -66.3L273.8 -69.4L267.4 -68.9Z" fill="url(#gt)"/>
<path transform="translate(0 194.3)" d="M266.3 -65.7L272.8 -67.3L267.4 -71.1L260.9 -70.1Z" fill="url(#gt)"/>
<path d="M259.9 130.7L266.3 128.6L260.9 124.2L254.5 126.2Z" fill="#b9c431"/>
<path transform="translate(0 198.9)" d="M253.4 -65.2L259.9 -68.2L254.5 -72.6L248.1 -69.2Z" fill="url(#gt)"/>
<path transform="translate(0 201.1)" d="M247 -63.8L253.4 -67.5L248.1 -71.4L241.6 -66.8Z" fill="url(#gt)"/>
<path d="M240.6 140.6L247 137.3L241.6 134.3L235.2 138.3Z" fill="#88cb54"/>
<path d="M234.2 144.6L240.6 140.6L235.2 138.3L228.8 143.3Z" fill="#69cc6c"/>
<path d="M381.1 92.7L387.5 89.9L382.1 87.9L375.7 90.1Z" fill="#92ca4c"/>
<path d="M374.6 95.5L381.1 92.7L375.7 90.1L369.2 92.5Z" fill="#8ecb50"/>
<path d="M368.2 98.4L374.6 95.5L369.2 92.5L362.8 95.5Z" fill="#85cb56"/>
<path d="M361.8 101.1L368.2 98.4L362.8 95.5L356.4 98.7Z" fill="#7acc5f"/>
<path d="M355.3 103.6L361.8 101.1L356.4 98.7L349.9 101.4Z" fill="#71cc65"/>
<path d="M348.9 105.8L355.3 103.6L349.9 101.4L343.5 103.5Z" fill="#70cc67"/>
<path d="M342.5 107.8L348.9 105.8L343.5 103.5L337.1 105.2Z" fill="#75cc63"/>
<path d="M336 109.6L342.5 107.8L337.1 105.2L330.6 106.6Z" fill="#7ecc5c"/>
<path d="M329.6 111.6L336 109.6L330.6 106.6L324.2 108.3Z" fill="#87cb55"/>
<path d="M323.2 113.8L329.6 111.6L324.2 108.3L317.8 110.5Z" fill="#8ccb51"/>
<path d="M316.7 116.3L323.2 113.8L317.8 110.5L311.4 113.2Z" fill="#8acb53"/>
<path d="M310.3 119L316.7 116.3L311.4 113.2L304.9 116.4Z" fill="#81cc59"/>
<path d="M303.9 121.7L310.3 119L304.9 116.4L298.5 119.4Z" fill="#76cc61"/>
<path d="M297.4 124.2L303.9 121.7L298.5 119.4L292.1 122.1Z" fill="#6ecc68"/>
<path d="M291 126.4L297.4 124.2L292.1 122.1L285.6 124.2Z" fill="#6dcc69"/>
<path d="M284.6 128.3L291 126.4L285.6 124.2L279.2 125.7Z" fill="#74cc64"/>
<path d="M278.1 130.1L284.6 128.3L279.2 125.7L272.8 127Z" fill="#7fcc5b"/>
<path d="M271.7 132L278.1 130.1L272.8 127L266.3 128.6Z" fill="#89cb53"/>
<path d="M265.3 134.2L271.7 132L266.3 128.6L259.9 130.7Z" fill="#8fcb4f"/>
<path d="M258.8 136.8L265.3 134.2L259.9 130.7L253.4 133.6Z" fill="#8ccb51"/>
<path d="M252.4 139.8L258.8 136.8L253.4 133.6L247 137.3Z" fill="#7fcc5b"/>
<path d="M246 142.6L252.4 139.8L247 137.3L240.6 140.6Z" fill="#6fcc67"/>
<path d="M239.5 145.2L246 142.6L240.6 140.6L234.2 144.6Z" fill="#62cc72"/>
<path d="M386.5 96.4L392.9 91.4L387.5 89.9L381.1 92.7Z" fill="#79cc5f"/>
<path transform="translate(0 159.8)" d="M380 -58.9L386.5 -63.4L381.1 -67.1L374.6 -64.3Z" fill="url(#gt)"/>
<path transform="translate(0 162.1)" d="M373.6 -57.8L380 -61.2L374.6 -66.6L368.2 -63.7Z" fill="url(#gt)"/>
<path transform="translate(0 164.3)" d="M367.2 -57.4L373.6 -60.1L368.2 -65.9L361.8 -63.2Z" fill="url(#gt)"/>
<path transform="translate(0 166.6)" d="M360.7 -57.1L367.2 -59.6L361.8 -65.5L355.3 -63Z" fill="url(#gt)"/>
<path transform="translate(0 168.9)" d="M354.3 -56.9L360.7 -59.3L355.3 -65.3L348.9 -63.1Z" fill="url(#gt)"/>
<path transform="translate(0 171.2)" d="M347.9 -57.6L354.3 -59.2L348.9 -65.4L342.5 -63.4Z" fill="url(#gt)"/>
<path transform="translate(0 173.4)" d="M341.4 -58.7L347.9 -59.9L342.5 -65.7L336 -63.8Z" fill="url(#gt)"/>
<path transform="translate(0 175.7)" d="M335 -59.7L341.4 -61L336 -66.1L329.6 -64.1Z" fill="url(#gt)"/>
<path d="M328.6 117.4L335 116L329.6 111.6L323.2 113.8Z" fill="#60cc73"/>
<path d="M322.1 119.3L328.6 117.4L323.2 113.8L316.7 116.3Z" fill="#64cc70"/>
<path d="M315.7 121.7L322.1 119.3L316.7 116.3L310.3 119Z" fill="#62cc71"/>
<path d="M309.3 124.2L315.7 121.7L310.3 119L303.9 121.7Z" fill="#5ecc74"/>
<path d="M302.8 126.6L309.3 124.2L303.9 121.7L297.4 124.2Z" fill="#5ccc77"/>
<path d="M296.4 128.8L302.8 126.6L297.4 124.2L291 126.4Z" fill="#5bcc77"/>
<path d="M290 131L296.4 128.8L291 126.4L284.6 128.3Z" fill="#5dcc75"/>
<path d="M283.5 133L290 131L284.6 128.3L278.1 130.1Z" fill="#61cc72"/>
<path d="M277.1 135.2L283.5 133L278.1 130.1L271.7 132Z" fill="#65cc6f"/>
<path d="M270.7 137.4L277.1 135.2L271.7 132L265.3 134.2Z" fill="#67cc6e"/>
<path d="M264.2 139.8L270.7 137.4L265.3 134.2L258.8 136.8Z" fill="#66cc6e"/>
<path d="M257.8 142.3L264.2 139.8L258.8 136.8L252.4 139.8Z" fill="#62cc72"/>
<path d="M251.4 144.5L257.8 142.3L252.4 139.8L246 142.6Z" fill="#5dcc75"/>
<path d="M244.9 145.9L251.4 144.5L246 142.6L239.5 145.2Z" fill="#5dcc75"/>
<path transform="translate(0 158.5)" d="M391.8 -59.9L398.3 -65.4L392.9 -67L386.5 -62.1Z" fill="url(#gt)"/>
<path d="M385.4 103.5L391.8 98.6L386.5 96.4L380 100.9Z" fill="#44c98c"/>
<path d="M379 106.7L385.4 103.5L380 100.9L373.6 104.3Z" fill="#33c79c"/>
<path d="M372.5 109.6L379 106.7L373.6 104.3L367.2 107Z" fill="#2ec5a1"/>
<path d="M366.1 112.3L372.5 109.6L367.2 107L360.7 109.6Z" fill="#2bc4a4"/>
<path d="M359.7 115L366.1 112.3L360.7 109.6L354.3 112Z" fill="#29c4a6"/>
<path d="M353.2 116.1L359.7 115L354.3 112L347.9 113.6Z" fill="#2bc4a4"/>
<path d="M346.8 116.5L353.2 116.1L347.9 113.6L341.4 114.8Z" fill="#33c79c"/>
<path d="M340.4 117L346.8 116.5L341.4 114.8L335 116Z" fill="#40c98f"/>
<path d="M333.9 117.5L340.4 117L335 116L328.6 117.4Z" fill="#50cb80"/>
<path d="M327.5 118.9L333.9 117.5L328.6 117.4L322.1 119.3Z" fill="#5dcc76"/>
<path d="M321.1 121.2L327.5 118.9L322.1 119.3L315.7 121.7Z" fill="#60cc73"/>
<path d="M314.6 123.5L321.1 121.2L315.7 121.7L309.3 124.2Z" fill="#5ecc75"/>
<path d="M308.2 125.9L314.6 123.5L309.3 124.2L302.8 126.6Z" fill="#5dcc75"/>
<path d="M301.8 128.1L308.2 125.9L302.8 126.6L296.4 128.8Z" fill="#5dcc76"/>
<path d="M295.3 130.4L301.8 128.1L296.4 128.8L290 131Z" fill="#5ecc75"/>
<path d="M288.9 132.6L295.3 130.4L290 131L283.5 133Z" fill="#5fcc74"/>
<path d="M282.5 134.8L288.9 132.6L283.5 133L277.1 135.2Z" fill="#60cc73"/>
<path d="M276 137.1L282.5 134.8L277.1 135.2L270.7 137.4Z" fill="#61cc72"/>
<path d="M269.6 139.4L276 137.1L270.7 137.4L264.2 139.8Z" fill="#61cc72"/>
<path d="M263.2 141.7L269.6 139.4L264.2 139.8L257.8 142.3Z" fill="#60cc73"/>
<path d="M256.7 144L263.2 141.7L257.8 142.3L251.4 144.5Z" fill="#5fcc74"/>
<path d="M250.3 146.3L256.7 144L251.4 144.5L244.9 145.9Z" fill="#62cc72"/>
<path d="M397.2 99.7L403.7 94.2L398.3 93.1L391.8 98.6Z" fill="#5dcc75"/>
<path d="M390.8 104.7L397.2 99.7L391.8 98.6L385.4 103.5Z" fill="#3ac895"/>
<path d="M384.4 107.7L390.8 104.7L385.4 103.5L379 106.7Z" fill="#2dc5a1"/>
<path d="M377.9 110.8L384.4 107.7L379 106.7L372.5 109.6Z" fill="#28c4a6"/>
<path d="M371.5 113.7L377.9 110.8L372.5 109.6L366.1 112.3Z" fill="#23c2ab"/>
<path d="M365.1 116.6L371.5 113.7L366.1 112.3L359.7 115Z" fill="#1fc1ae"/>
<path d="M358.6 117.2L365.1 116.6L359.7 115L353.2 116.1Z" fill="#22c2ab"/>
<path d="M352.2 116.8L358.6 117.2L353.2 116.1L346.8 116.5Z" fill="#30c69f"/>
<path d="M345.8 116.3L352.2 116.8L346.8 116.5L340.4 117Z" fill="#45c98b"/>
<path transform="translate(0 179.9)" d="M339.3 -64L345.8 -63.6L340.4 -63L333.9 -62.5Z" fill="url(#gt)"/>
<path d="M332.9 116.9L339.3 115.9L333.9 117.5L327.5 118.9Z" fill="#7acc5f"/>
<path d="M326.5 119.2L332.9 116.9L327.5 118.9L321.1 121.2Z" fill="#83cb58"/>
<path d="M320 121.5L326.5 119.2L321.1 121.2L314.6 123.5Z" fill="#82cb58"/>
<path d="M313.6 123.8L320 121.5L314.6 123.5L308.2 125.9Z" fill="#82cb59"/>
<path d="M307.2 126L313.6 123.8L308.2 125.9L301.8 128.1Z" fill="#82cb59"/>
<path d="M300.7 128.3L307.2 126L301.8 128.1L295.3 130.4Z" fill="#82cb59"/>
<path d="M294.3 130.6L300.7 128.3L295.3 130.4L288.9 132.6Z" fill="#83cb58"/>
<path d="M287.9 132.8L294.3 130.6L288.9 132.6L282.5 134.8Z" fill="#83cb58"/>
<path d="M281.4 135.1L287.9 132.8L282.5 134.8L276 137.1Z" fill="#83cb58"/>
<path d="M275 137.4L281.4 135.1L276 137.1L269.6 139.4Z" fill="#83cb58"/>
<path d="M268.6 139.7L275 137.4L269.6 139.4L263.2 141.7Z" fill="#83cb58"/>
<path d="M262.1 142L268.6 139.7L263.2 141.7L256.7 144Z" fill="#83cb58"/>
<path d="M255.7 146L262.1 142L256.7 144L250.3 146.3Z" fill="#7bcc5e"/>
<path transform="translate(0 160.4)" d="M402.6 -62.8L409 -71.2L403.7 -66.2L397.2 -60.7Z" fill="url(#gt)"/>
<path transform="translate(0 162.7)" d="M396.2 -57.9L402.6 -65.1L397.2 -62.9L390.8 -58Z" fill="url(#gt)"/>
<path d="M389.7 108.7L396.2 104.7L390.8 104.7L384.4 107.7Z" fill="#2ec5a0"/>
<path d="M383.3 112L389.7 108.7L384.4 107.7L377.9 110.8Z" fill="#27c3a7"/>
<path d="M376.9 115.1L383.3 112L377.9 110.8L371.5 113.7Z" fill="#20c2ad"/>
<path d="M370.4 118.3L376.9 115.1L371.5 113.7L365.1 116.6Z" fill="#1ac0b2"/>
<path d="M364 118.3L370.4 118.3L365.1 116.6L358.6 117.2Z" fill="#1fc1ae"/>
<path d="M357.6 117L364 118.3L358.6 117.2L352.2 116.8Z" fill="#32c69c"/>
<path transform="translate(0 178.6)" d="M351.1 -63L357.6 -61.7L352.2 -61.9L345.8 -62.3Z" fill="url(#gt)"/>
<path transform="translate(0 180.9)" d="M344.7 -66.6L351.1 -65.3L345.8 -64.6L339.3 -65Z" fill="url(#gt)"/>
<path transform="translate(0 183.2)" d="M338.3 -68.3L344.7 -68.8L339.3 -67.3L332.9 -66.3Z" fill="url(#gt)"/>
<path d="M331.8 117.1L338.3 114.8L332.9 116.9L326.5 119.2Z" fill="#afc637"/>
<path d="M325.4 119.4L331.8 117.1L326.5 119.2L320 121.5Z" fill="#afc637"/>
<path d="M319 121.7L325.4 119.4L320 121.5L313.6 123.8Z" fill="#afc637"/>
<path d="M312.5 124L319 121.7L313.6 123.8L307.2 126Z" fill="#afc637"/>
<path d="M306.1 126.2L312.5 124L307.2 126L300.7 128.3Z" fill="#afc637"/>
<path d="M299.7 128.5L306.1 126.2L300.7 128.3L294.3 130.6Z" fill="#afc637"/>
<path d="M293.2 130.8L299.7 128.5L294.3 130.6L287.9 132.8Z" fill="#afc637"/>
<path d="M286.8 133.1L293.2 130.8L287.9 132.8L281.4 135.1Z" fill="#afc637"/>
<path d="M280.4 135.4L286.8 133.1L281.4 135.1L275 137.4Z" fill="#afc637"/>
<path d="M273.9 137.6L280.4 135.4L275 137.4L268.6 139.7Z" fill="#afc637"/>
<path d="M267.5 139.9L273.9 137.6L268.6 139.7L262.1 142Z" fill="#afc637"/>
<path transform="translate(0 210.5)" d="M261.1 -65.6L267.5 -70.6L262.1 -68.6L255.7 -64.6Z" fill="url(#gt)"/>
<path transform="translate(0 161.4)" d="M408 -65.1L414.4 -75.5L409 -72.1L402.6 -63.8Z" fill="url(#gt)"/>
<path transform="translate(0 163.6)" d="M401.6 -58.6L408 -67.4L402.6 -66.1L396.2 -58.9Z" fill="url(#gt)"/>
<path d="M395.1 109.7L401.6 105.1L396.2 104.7L389.7 108.7Z" fill="#31c69e"/>
<path d="M388.7 113.3L395.1 109.7L389.7 108.7L383.3 112Z" fill="#26c3a8"/>
<path d="M382.3 116.6L388.7 113.3L383.3 112L376.9 115.1Z" fill="#1dc1b0"/>
<path d="M375.8 119.9L382.3 116.6L376.9 115.1L370.4 118.3Z" fill="#15bfb6"/>
<path d="M369.4 119.4L375.8 119.9L370.4 118.3L364 118.3Z" fill="#1cc1b1"/>
<path transform="translate(0 177.3)" d="M363 -60.2L369.4 -58L364 -59L357.6 -60.4Z" fill="url(#gt)"/>
<path transform="translate(0 179.6)" d="M356.5 -64.6L363 -62.4L357.6 -62.6L351.1 -63.9Z" fill="url(#gt)"/>
<path transform="translate(0 181.9)" d="M350.1 -69.1L356.5 -66.9L351.1 -66.2L344.7 -67.5Z" fill="url(#gt)"/>
<path transform="translate(0 184.2)" d="M343.7 -71.4L350.1 -71.4L344.7 -69.8L338.3 -69.3Z" fill="url(#gt)"/>
<path d="M337.2 115.1L343.7 112.8L338.3 114.8L331.8 117.1Z" fill="#d8be29"/>
<path d="M330.8 117.4L337.2 115.1L331.8 117.1L325.4 119.4Z" fill="#d8be29"/>
<path d="M324.4 119.6L330.8 117.4L325.4 119.4L319 121.7Z" fill="#d8be29"/>
<path d="M317.9 121.9L324.4 119.6L319 121.7L312.5 124Z" fill="#d7be29"/>
<path d="M311.5 124.2L317.9 121.9L312.5 124L306.1 126.2Z" fill="#d8be29"/>
<path d="M305.1 126.5L311.5 124.2L306.1 126.2L299.7 128.5Z" fill="#d8be29"/>
<path d="M298.6 128.8L305.1 126.5L299.7 128.5L293.2 130.8Z" fill="#d8be29"/>
<path d="M292.2 131L298.6 128.8L293.2 130.8L286.8 133.1Z" fill="#d8be29"/>
<path d="M285.8 133.3L292.2 131L286.8 133.1L280.4 135.4Z" fill="#d8be29"/>
<path d="M279.3 135.6L285.8 133.3L280.4 135.4L273.9 137.6Z" fill="#d8be29"/>
<path d="M272.9 137.9L279.3 135.6L273.9 137.6L267.5 139.9Z" fill="#d8be29"/>
<path transform="translate(0 211.5)" d="M266.5 -69.6L272.9 -73.6L267.5 -71.6L261.1 -66.6Z" fill="url(#gt)"/>
<path transform="translate(0 162.3)" d="M413.4 -55.8L419.8 -76.8L414.4 -76.5L408 -66.1Z" fill="url(#gt)"/>
<path transform="translate(0 164.6)" d="M406.9 -52.2L413.4 -58.1L408 -68.3L401.6 -59.6Z" fill="url(#gt)"/>
<path transform="translate(0 166.9)" d="M400.5 -48.9L406.9 -54.5L401.6 -61.8L395.1 -57.2Z" fill="url(#gt)"/>
<path transform="translate(0 169.2)" d="M394.1 -48.6L400.5 -51.1L395.1 -59.5L388.7 -55.9Z" fill="url(#gt)"/>
<path transform="translate(0 171.4)" d="M387.6 -45.2L394.1 -50.9L388.7 -58.2L382.3 -54.9Z" fill="url(#gt)"/>
<path transform="translate(0 173.7)" d="M381.2 -42.7L387.6 -47.5L382.3 -57.1L375.8 -53.8Z" fill="url(#gt)"/>
<path transform="translate(0 176)" d="M374.8 -44.7L381.2 -45L375.8 -56.1L369.4 -56.6Z" fill="url(#gt)"/>
<path transform="translate(0 178.3)" d="M368.3 -50.3L374.8 -47L369.4 -58.9L363 -61.1Z" fill="url(#gt)"/>
<path transform="translate(0 180.6)" d="M361.9 -57.1L368.3 -52.6L363 -63.4L356.5 -65.6Z" fill="url(#gt)"/>
<path transform="translate(0 182.8)" d="M355.5 -68.9L361.9 -59.4L356.5 -67.9L350.1 -70.1Z" fill="url(#gt)"/>
<path transform="translate(0 185.1)" d="M349 -75.8L355.5 -71.2L350.1 -72.4L343.7 -72.3Z" fill="url(#gt)"/>
<path transform="translate(0 187.4)" d="M342.6 -75.6L349 -78.1L343.7 -74.6L337.2 -72.3Z" fill="url(#gt)"/>
<path transform="translate(0 189.7)" d="M336.2 -75.4L342.6 -77.9L337.2 -74.6L330.8 -72.3Z" fill="url(#gt)"/>
<path transform="translate(0 192)" d="M329.7 -75.2L336.2 -77.7L330.8 -74.6L324.4 -72.3Z" fill="url(#gt)"/>
<path transform="translate(0 194.2)" d="M323.3 -75.1L329.7 -77.5L324.4 -74.6L317.9 -72.3Z" fill="url(#gt)"/>
<path d="M316.9 121.6L323.3 119.2L317.9 121.9L311.5 124.2Z" fill="#f5bd33"/>
<path d="M310.4 124.1L316.9 121.6L311.5 124.2L305.1 126.5Z" fill="#f5bd33"/>
<path d="M304 126.5L310.4 124.1L305.1 126.5L298.6 128.8Z" fill="#f5bd33"/>
<path d="M297.6 129L304 126.5L298.6 128.8L292.2 131Z" fill="#f4bd33"/>
<path d="M291.1 131.7L297.6 129L292.2 131L285.8 133.3Z" fill="#f4bd33"/>
<path d="M284.7 134.5L291.1 131.7L285.8 133.3L279.3 135.6Z" fill="#f4bd33"/>
<path d="M278.3 137.2L284.7 134.5L279.3 135.6L272.9 137.9Z" fill="#f2bc32"/>
<path d="M271.8 140L278.3 137.2L272.9 137.9L266.5 141.9Z" fill="#ebbb2f"/>
<path transform="translate(0 163.3)" d="M418.8 -80.2L425.2 -77.8L419.8 -77.8L413.4 -56.8Z" fill="url(#gt)"/>
<path transform="translate(0 165.6)" d="M412.3 -84.9L418.8 -82.5L413.4 -59.1L406.9 -53.2Z" fill="url(#gt)"/>
<path transform="translate(0 167.9)" d="M405.9 -83L412.3 -87.2L406.9 -55.4L400.5 -49.8Z" fill="url(#gt)"/>
<path transform="translate(0 170.1)" d="M399.5 -81.1L405.9 -85.3L400.5 -52.1L394.1 -49.6Z" fill="url(#gt)"/>
<path transform="translate(0 172.4)" d="M393 -81.1L399.5 -83.4L394.1 -51.8L387.6 -46.1Z" fill="url(#gt)"/>
<path transform="translate(0 174.7)" d="M386.6 -81L393 -83.4L387.6 -48.4L381.2 -43.7Z" fill="url(#gt)"/>
<path transform="translate(0 177)" d="M380.2 -81L386.6 -83.3L381.2 -45.9L374.8 -45.7Z" fill="url(#gt)"/>
<path transform="translate(0 179.3)" d="M373.7 -80.9L380.2 -83.2L374.8 -48L368.3 -51.3Z" fill="url(#gt)"/>
<path transform="translate(0 181.5)" d="M367.3 -80.6L373.7 -83.2L368.3 -53.6L361.9 -58.1Z" fill="url(#gt)"/>
<path transform="translate(0 183.8)" d="M360.9 -80.2L367.3 -82.8L361.9 -60.4L355.5 -69.9Z" fill="url(#gt)"/>
<path transform="translate(0 186.1)" d="M354.4 -79.9L360.9 -82.5L355.5 -72.2L349 -76.7Z" fill="url(#gt)"/>
<path transform="translate(0 188.4)" d="M348 -79.5L354.4 -82.2L349 -79L342.6 -76.6Z" fill="url(#gt)"/>
<path transform="translate(0 190.7)" d="M341.6 -79.2L348 -81.8L342.6 -78.8L336.2 -76.4Z" fill="url(#gt)"/>
<path transform="translate(0 192.9)" d="M335.1 -78.8L341.6 -81.5L336.2 -78.7L329.7 -76.2Z" fill="url(#gt)"/>
<path d="M328.7 116.7L335.1 114.1L329.7 116.7L323.3 119.2Z" fill="#fcc237"/>
<path transform="translate(0 197.5)" d="M322.3 -78.8L328.7 -80.8L323.3 -78.3L316.9 -75.9Z" fill="url(#gt)"/>
<path transform="translate(0 199.8)" d="M315.8 -79.2L322.3 -81.1L316.9 -78.1L310.4 -75.7Z" fill="url(#gt)"/>
<path transform="translate(0 202)" d="M309.4 -79.5L315.8 -81.4L310.4 -78L304 -75.5Z" fill="url(#gt)"/>
<path transform="translate(0 204.3)" d="M303 -79.8L309.4 -81.8L304 -77.8L297.6 -75.3Z" fill="url(#gt)"/>
<path transform="translate(0 206.6)" d="M296.5 -80.1L303 -82.1L297.6 -77.6L291.1 -74.9Z" fill="url(#gt)"/>
<path transform="translate(0 208.9)" d="M290.1 -80.5L296.5 -82.4L291.1 -77.1L284.7 -74.4Z" fill="url(#gt)"/>
<path transform="translate(0 211.2)" d="M283.7 -78.5L290.1 -82.8L284.7 -76.7L278.3 -73.9Z" fill="url(#gt)"/>
<path transform="translate(0 213.4)" d="M277.2 -75.5L283.7 -80.8L278.3 -76.2L271.8 -73.4Z" fill="url(#gt)"/>
<path transform="translate(0 164.3)" d="M424.1 -77.2L430.6 -74.8L425.2 -78.7L418.8 -81.2Z" fill="url(#gt)"/>
<path transform="translate(0 166.5)" d="M417.7 -81.9L424.1 -79.5L418.8 -83.4L412.3 -85.9Z" fill="url(#gt)"/>
<path transform="translate(0 168.8)" d="M411.3 -80L417.7 -84.2L412.3 -88.1L405.9 -84Z" fill="url(#gt)"/>
<path transform="translate(0 171.1)" d="M404.8 -78.1L411.3 -82.3L405.9 -86.3L399.5 -82.1Z" fill="url(#gt)"/>
<path d="M398.4 95.3L404.8 93L399.5 89L393 91.3Z" fill="#fec736"/>
<path d="M392 97.7L398.4 95.3L393 91.3L386.6 93.7Z" fill="#fec737"/>
<path d="M385.5 100L392 97.7L386.6 93.7L380.2 96Z" fill="#fec637"/>
<path d="M379.1 102.3L385.5 100L380.2 96L373.7 98.3Z" fill="#fec637"/>
<path d="M372.7 104.9L379.1 102.3L373.7 98.3L367.3 101Z" fill="#fec637"/>
<path d="M366.2 107.6L372.7 104.9L367.3 101L360.9 103.6Z" fill="#fec537"/>
<path d="M359.8 110.2L366.2 107.6L360.9 103.6L354.4 106.2Z" fill="#fec537"/>
<path d="M353.4 112.8L359.8 110.2L354.4 106.2L348 108.8Z" fill="#fec438"/>
<path d="M346.9 115.4L353.4 112.8L348 108.8L341.6 111.5Z" fill="#fec338"/>
<path d="M340.5 118.1L346.9 115.4L341.6 111.5L335.1 114.1Z" fill="#fec338"/>
<path d="M334.1 120.7L340.5 118.1L335.1 114.1L328.7 116.7Z" fill="#fdc237"/>
<path d="M327.6 122.6L334.1 120.7L328.7 116.7L322.3 118.7Z" fill="#fdc237"/>
<path d="M321.2 124.6L327.6 122.6L322.3 118.7L315.8 120.6Z" fill="#fec338"/>
<path d="M314.8 126.5L321.2 124.6L315.8 120.6L309.4 122.6Z" fill="#fec338"/>
<path d="M308.3 128.5L314.8 126.5L309.4 122.6L303 124.5Z" fill="#fec438"/>
<path d="M301.9 130.4L308.3 128.5L303 124.5L296.5 126.5Z" fill="#fec537"/>
<path d="M295.5 132.4L301.9 130.4L296.5 126.5L290.1 128.4Z" fill="#fec537"/>
<path d="M289 134.3L295.5 132.4L290.1 128.4L283.7 132.7Z" fill="#fec537"/>
<path d="M282.6 136.3L289 134.3L283.7 132.7L277.2 138Z" fill="#fec338"/>
</g>
<path class="t" d="M126.5 188L132.1 186"/>
<path class="t" d="M180.3 197.7L186 195.6"/>
<path class="t" d="M234.2 207.3L239.8 205.3"/>
<path class="t" d="M288 217L293.7 215"/>
<path class="t" d="M277.2 215.1L280.4 213.9"/>
<path class="t" d="M266.5 213.1L269.7 212"/>
<path class="t" d="M255.7 211.2L258.9 210.1"/>
<path class="t" d="M244.9 209.3L248.1 208.1"/>
<path class="t" d="M223.4 205.4L226.6 204.3"/>
<path class="t" d="M212.6 203.5L215.8 202.3"/>
<path class="t" d="M201.8 201.5L205 200.4"/>
<path class="t" d="M191.1 199.6L194.3 198.4"/>
<path class="t" d="M169.5 195.7L172.7 194.6"/>
<path class="t" d="M158.8 193.8L162 192.6"/>
<path class="t" d="M148 191.8L151.2 190.7"/>
<path class="t" d="M137.2 189.9L140.4 188.8"/>
<path class="t" d="M115.7 186L118.9 184.9"/>
<path class="t" d="M104.9 184.1L108.1 183"/>
<path class="t" d="M94.1 182.2L97.3 181"/>
<path class="t" d="M83.4 180.2L86.6 179.1"/>
<path class="t" d="M313.7 207.9L307.8 206.8"/>
<path class="t" d="M345.9 196.5L340 195.4"/>
<path class="t" d="M378.1 185.1L372.2 184"/>
<path class="t" d="M410.2 173.7L404.3 172.6"/>
<path class="t" d="M288 217L284.7 216.4"/>
<path class="t" d="M294.4 214.7L291.1 214.1"/>
<path class="t" d="M300.9 212.4L297.5 211.8"/>
<path class="t" d="M307.3 210.2L304 209.6"/>
<path class="t" d="M320.2 205.6L316.8 205"/>
<path class="t" d="M326.6 203.3L323.3 202.7"/>
<path class="t" d="M333 201L329.7 200.4"/>
<path class="t" d="M339.5 198.8L336.1 198.2"/>
<path class="t" d="M352.3 194.2L349 193.6"/>
<path class="t" d="M358.8 191.9L355.4 191.3"/>
<path class="t" d="M365.2 189.7L361.9 189"/>
<path class="t" d="M371.6 187.4L368.3 186.8"/>
<path class="t" d="M384.5 182.8L381.2 182.2"/>
<path class="t" d="M390.9 180.5L387.6 179.9"/>
<path class="t" d="M397.4 178.3L394 177.7"/>
<path class="t" d="M403.8 176L400.5 175.4"/>
<path class="t" d="M416.7 171.4L413.3 170.8"/>
<path class="t" d="M423.1 169.1L419.8 168.5"/>
<path class="t" d="M429.5 166.9L426.2 166.3"/>
<path class="t" d="M436 164.6L432.6 164"/>
<path class="t" d="M72.6 144.4L78.6 144.4"/>
<path class="t" d="M72.6 106.8L78.6 106.8"/>
<path class="t" d="M72.6 69.2L78.6 69.2"/>
<path class="t" d="M72.6 174.5L76 174.5"/>
<path class="t" d="M72.6 167L76 167"/>
<path class="t" d="M72.6 159.5L76 159.5"/>
<path class="t" d="M72.6 152L76 152"/>
<path class="t" d="M72.6 136.9L76 136.9"/>
<path class="t" d="M72.6 129.4L76 129.4"/>
<path class="t" d="M72.6 121.9L76 121.9"/>
<path class="t" d="M72.6 114.4L76 114.4"/>
<path class="t" d="M72.6 99.3L76 99.3"/>
<path class="t" d="M72.6 91.8L76 91.8"/>
<path class="t" d="M72.6 84.3L76 84.3"/>
<path class="t" d="M72.6 76.7L76 76.7"/>
<path class="g" d="M91 444L263.3 365"/>
<path class="g" d="M263.3 365L263.3 304.4"/>
<path class="g" d="M152.8 465.7L325.1 386.7"/>
<path class="g" d="M325.1 386.7L325.1 326.1"/>
<path class="g" d="M214.5 487.3L386.8 408.3"/>
<path class="g" d="M386.8 408.3L386.8 347.7"/>
<path class="g" d="M284.7 500.1L87.1 430.8"/>
<path class="g" d="M87.1 430.8L87.1 370.2"/>
<path class="g" d="M356.1 467.4L158.5 398.1"/>
<path class="g" d="M158.5 398.1L158.5 337.5"/>
<path class="g" d="M427.4 434.7L229.8 365.4"/>
<path class="g" d="M229.8 365.4L229.8 304.8"/>
<path class="b" d="M72.5 437.5L244.8 358.5"/>
<path class="b" d="M244.8 358.5L442.4 427.8"/>
<path class="b" d="M244.8 358.5L244.8 297.9"/>
<path class="b" d="M72.5 376.9L244.8 297.9"/>
<path class="b" d="M244.8 297.9L442.4 367.2"/>
<path class="b" d="M442.4 427.8L442.4 367.2"/>
<path class="b" d="M72.5 437.5L72.5 376.9"/>
<path class="b" d="M72.5 437.5L270.1 506.8"/>
<path class="b" d="M270.1 506.8L442.4 427.8"/>
<g class="s">
<defs><linearGradient id="gb" gradientUnits="userSpaceOnUse" x1="0" y1="0" x2="0" y2="-56.6"><stop offset="0.0000" stop-color="#3e26a8"/><stop offset="0.0707" stop-color="#4537d5"/><stop offset="0.1415" stop-color="#484cf0"/><stop offset="0.1611" stop-color="#4852f4"/><stop offset="0.2121" stop-color="#4562fc"/><stop offset="0.2608" stop-color="#3b73ff"/><stop offset="0.2829" stop-color="#337afd"/><stop offset="0.3043" stop-color="#3081f9"/><stop offset="0.3257" stop-color="#2e87f7"/><stop offset="0.3637" stop-color="#2c90f0"/><stop offset="0.3904" stop-color="#2797eb"/><stop offset="0.4538" stop-color="#1fa4e2"/><stop offset="0.5198" stop-color="#12b1d6"/><stop offset="0.5217" stop-color="#11b1d5"/><stop offset="0.5652" stop-color="#05bac4"/><stop offset="0.5978" stop-color="#12beb9"/><stop offset="0.6196" stop-color="#1dc1af"/><stop offset="0.6377" stop-color="#29c4a6"/><stop offset="0.6661" stop-color="#37c897"/><stop offset="0.6739" stop-color="#3ec991"/><stop offset="0.7008" stop-color="#57cb7a"/><stop offset="0.7366" stop-color="#7acc5e"/><stop offset="0.7634" stop-color="#94ca4b"/><stop offset="0.7941" stop-color="#abc739"/><stop offset="0.8261" stop-color="#c7c22a"/><stop offset="0.8424" stop-color="#dcbd29"/><stop offset="0.8578" stop-color="#f0ba30"/><stop offset="0.8746" stop-color="#fec338"/><stop offset="0.8804" stop-color="#fdc836"/><stop offset="0.9080" stop-color="#fbd430"/><stop offset="0.9448" stop-color="#f5e426"/><stop offset="0.9724" stop-color="#f5f01d"/><stop offset="1.0000" stop-color="#f9fb15"/></linearGradient></defs>
<path d="M256.4 360.2L257.1 359.9L251 359.3L250.3 359.6Z" fill="#422fc1"/>
<path d="M249.3 363.3L256.4 360.2L250.3 359.6L243.1 362.8Z" fill="#422fc1"/>
<path d="M242.2 366.4L249.3 363.3L243.1 362.8L236 366Z" fill="#4230c3"/>
<path d="M235 369.5L242.2 366.4L236 366L228.9 369.2Z" fill="#4230c4"/>
<path d="M227.9 372.6L235 369.5L228.9 369.2L221.7 372.4Z" fill="#4331c6"/>
<path d="M220.8 374.9L227.9 372.6L221.7 372.4L214.6 375.2Z" fill="#4333ca"/>
<path d="M213.6 377.2L220.8 374.9L214.6 375.2L207.5 378Z" fill="#4435d2"/>
<path transform="translate(0 383.3)" d="M206.5 -5.2L213.6 -6.1L207.5 -5.3L200.3 -3.2Z" fill="url(#gb)"/>
<path transform="translate(0 386.6)" d="M199.4 -7.6L206.5 -8.5L200.3 -6.4L193.2 -4.3Z" fill="url(#gb)"/>
<path transform="translate(0 389.9)" d="M192.2 -8L199.4 -10.9L193.2 -7.5L186.1 -4.4Z" fill="url(#gb)"/>
<path transform="translate(0 393.2)" d="M185.1 -8.4L192.2 -11.3L186.1 -7.7L178.9 -4.6Z" fill="url(#gb)"/>
<path transform="translate(0 396.4)" d="M178 -8.1L185.1 -11.6L178.9 -7.9L171.8 -4.5Z" fill="url(#gb)"/>
<path transform="translate(0 399.7)" d="M170.8 -7.9L178 -11.4L171.8 -7.8L164.6 -4.4Z" fill="url(#gb)"/>
<path transform="translate(0 403)" d="M163.7 -7.6L170.8 -11.1L164.6 -7.7L157.5 -4.3Z" fill="url(#gb)"/>
<path transform="translate(0 406.2)" d="M156.6 -6.5L163.7 -10.9L157.5 -7.5L150.4 -3.8Z" fill="url(#gb)"/>
<path transform="translate(0 409.5)" d="M149.4 -5.4L156.6 -9.8L150.4 -7L143.2 -3.2Z" fill="url(#gb)"/>
<path transform="translate(0 412.8)" d="M142.3 -2.1L149.4 -8.7L143.2 -6.5L136.1 -1.7Z" fill="url(#gb)"/>
<path transform="translate(0 416.1)" d="M135.1 1L142.3 -5.4L136.1 -5L129 -0.1Z" fill="url(#gb)"/>
<path d="M128 420.2L135.1 417L129 415.9L121.8 419.4Z" fill="#402bb6"/>
<path d="M120.9 423.5L128 420.2L121.8 419.4L114.7 422.8Z" fill="#402bb5"/>
<path d="M113.7 426.7L120.9 423.5L114.7 422.8L107.6 426.2Z" fill="#402bb4"/>
<path d="M106.6 430L113.7 426.7L107.6 426.2L100.4 429.7Z" fill="#3f2ab3"/>
<path d="M262.6 361.3L263.3 361L257.1 359.9L256.4 360.2Z" fill="#4435cf"/>
<path d="M255.5 364.3L262.6 361.3L256.4 360.2L249.3 363.3Z" fill="#4435d1"/>
<path d="M248.3 367.3L255.5 364.3L249.3 363.3L242.2 366.4Z" fill="#4536d3"/>
<path d="M241.2 370.3L248.3 367.3L242.2 366.4L235 369.5Z" fill="#4537d5"/>
<path d="M234.1 373.4L241.2 370.3L235 369.5L227.9 372.6Z" fill="#4538d7"/>
<path d="M226.9 375.4L234.1 373.4L227.9 372.6L220.8 374.9Z" fill="#463bdb"/>
<path d="M219.8 377.4L226.9 375.4L220.8 374.9L213.6 377.2Z" fill="#4641e2"/>
<path transform="translate(0 385.5)" d="M212.7 -8.1L219.8 -8.1L213.6 -8.3L206.5 -7.4Z" fill="url(#gb)"/>
<path transform="translate(0 388.8)" d="M205.5 -11.4L212.7 -11.4L206.5 -10.7L199.4 -9.8Z" fill="url(#gb)"/>
<path transform="translate(0 392)" d="M198.4 -11.9L205.5 -14.7L199.4 -13.1L192.2 -10.2Z" fill="url(#gb)"/>
<path transform="translate(0 395.3)" d="M191.3 -12.4L198.4 -15.2L192.2 -13.4L185.1 -10.5Z" fill="url(#gb)"/>
<path transform="translate(0 398.6)" d="M184.1 -12.1L191.3 -15.7L185.1 -13.8L178 -10.3Z" fill="url(#gb)"/>
<path transform="translate(0 401.9)" d="M177 -11.7L184.1 -15.4L178 -13.5L170.8 -10Z" fill="url(#gb)"/>
<path transform="translate(0 405.1)" d="M169.9 -11.4L177 -15L170.8 -13.3L163.7 -9.8Z" fill="url(#gb)"/>
<path transform="translate(0 408.4)" d="M162.7 -9.9L169.9 -14.7L163.7 -13.1L156.6 -8.7Z" fill="url(#gb)"/>
<path transform="translate(0 411.7)" d="M155.6 -8.4L162.7 -13.2L156.6 -11.9L149.4 -7.6Z" fill="url(#gb)"/>
<path transform="translate(0 414.9)" d="M148.5 -3.8L155.6 -11.7L149.4 -10.8L142.3 -4.2Z" fill="url(#gb)"/>
<path transform="translate(0 418.2)" d="M141.3 -1.3L148.5 -7.1L142.3 -7.5L135.1 -1.2Z" fill="url(#gb)"/>
<path d="M134.2 419.9L141.3 416.9L135.1 417L128 420.2Z" fill="#4332ca"/>
<path d="M127.1 423.2L134.2 419.9L128 420.2L120.9 423.5Z" fill="#4333cb"/>
<path d="M119.9 426.4L127.1 423.2L120.9 423.5L113.7 426.7Z" fill="#4333cb"/>
<path d="M112.8 429.7L119.9 426.4L113.7 426.7L106.6 430Z" fill="#4333cb"/>
<path d="M268.8 362.9L269.5 362.6L263.3 361L262.6 361.3Z" fill="#4538d7"/>
<path d="M261.7 365.9L268.8 362.9L262.6 361.3L255.5 364.3Z" fill="#4539d8"/>
<path d="M254.5 368.9L261.7 365.9L255.5 364.3L248.3 367.3Z" fill="#453ada"/>
<path d="M247.4 371.9L254.5 368.9L248.3 367.3L241.2 370.3Z" fill="#463cdb"/>
<path d="M240.2 374.9L247.4 371.9L241.2 370.3L234.1 373.4Z" fill="#463ddd"/>
<path d="M233.1 376.8L240.2 374.9L234.1 373.4L226.9 375.4Z" fill="#4641e2"/>
<path d="M226 378.6L233.1 376.8L226.9 375.4L219.8 377.4Z" fill="#4749eb"/>
<path transform="translate(0 387.7)" d="M218.8 -9.5L226 -9L219.8 -10.3L212.7 -10.3Z" fill="url(#gb)"/>
<path transform="translate(0 390.9)" d="M211.7 -13.1L218.8 -12.7L212.7 -13.6L205.5 -13.6Z" fill="url(#gb)"/>
<path d="M204.6 380.5L211.7 377.8L205.5 377.4L198.4 380.1Z" fill="#3876fe"/>
<path d="M197.4 383.2L204.6 380.5L198.4 380.1L191.3 382.9Z" fill="#3579fd"/>
<path d="M190.3 386.9L197.4 383.2L191.3 382.9L184.1 386.5Z" fill="#347afd"/>
<path d="M183.2 390.5L190.3 386.9L184.1 386.5L177 390.1Z" fill="#3677fd"/>
<path d="M176 394.2L183.2 390.5L177 390.1L169.9 393.7Z" fill="#3875fe"/>
<path d="M168.9 399.1L176 394.2L169.9 393.7L162.7 398.5Z" fill="#3d6ffe"/>
<path d="M161.8 404.1L168.9 399.1L162.7 398.5L155.6 403.3Z" fill="#4366fd"/>
<path transform="translate(0 417.1)" d="M154.6 -4.6L161.8 -13L155.6 -13.8L148.5 -6Z" fill="url(#gb)"/>
<path d="M147.5 417.3L154.6 412.5L148.5 411.1L141.3 416.9Z" fill="#4641e2"/>
<path d="M140.4 420.2L147.5 417.3L141.3 416.9L134.2 419.9Z" fill="#463cdc"/>
<path d="M133.2 423.5L140.4 420.2L134.2 419.9L127.1 423.2Z" fill="#463ddd"/>
<path d="M126.1 426.8L133.2 423.5L127.1 423.2L119.9 426.4Z" fill="#463ddd"/>
<path d="M119 430L126.1 426.8L119.9 426.4L112.8 429.7Z" fill="#463ddd"/>
<path transform="translate(0 368.4)" d="M275 -8.2L275.7 -8.3L269.5 -5.8L268.8 -5.5Z" fill="url(#gb)"/>
<path transform="translate(0 370.2)" d="M267.8 -8.9L275 -10L268.8 -7.3L261.7 -4.3Z" fill="url(#gb)"/>
<path transform="translate(0 373.5)" d="M260.7 -8.4L267.8 -12.2L261.7 -7.6L254.5 -4.6Z" fill="url(#gb)"/>
<path transform="translate(0 376.8)" d="M253.6 -8.5L260.7 -11.6L254.5 -7.8L247.4 -4.8Z" fill="url(#gb)"/>
<path transform="translate(0 380)" d="M246.4 -8.3L253.6 -11.7L247.4 -8.1L240.2 -5.1Z" fill="url(#gb)"/>
<path transform="translate(0 383.3)" d="M239.3 -7.6L246.4 -11.6L240.2 -8.4L233.1 -6.5Z" fill="url(#gb)"/>
<path d="M232.2 380.3L239.3 375.7L233.1 376.8L226 378.6Z" fill="#4850f3"/>
<path transform="translate(0 389.8)" d="M225 -10.1L232.2 -9.5L226 -11.2L218.8 -11.6Z" fill="url(#gb)"/>
<path transform="translate(0 393.1)" d="M217.9 -14L225 -13.4L218.8 -14.9L211.7 -15.3Z" fill="url(#gb)"/>
<path d="M210.8 381.8L217.9 379.1L211.7 377.8L204.6 380.5Z" fill="#327efb"/>
<path d="M203.6 384.5L210.8 381.8L204.6 380.5L197.4 383.2Z" fill="#3081fa"/>
<path d="M196.5 388.1L203.6 384.5L197.4 383.2L190.3 386.9Z" fill="#3081f9"/>
<path d="M189.3 391.8L196.5 388.1L190.3 386.9L183.2 390.5Z" fill="#317ffa"/>
<path d="M182.2 395.5L189.3 391.8L183.2 390.5L176 394.2Z" fill="#327dfb"/>
<path d="M175.1 400.5L182.2 395.5L176 394.2L168.9 399.1Z" fill="#3777fe"/>
<path d="M167.9 405.6L175.1 400.5L168.9 399.1L161.8 404.1Z" fill="#3f6cfe"/>
<path transform="translate(0 419.3)" d="M160.8 -5L167.9 -13.7L161.8 -15.2L154.6 -6.8Z" fill="url(#gb)"/>
<path d="M153.7 417.1L160.8 414.2L154.6 412.5L147.5 417.3Z" fill="#4748eb"/>
<path d="M146.5 419.9L153.7 417.1L147.5 417.3L140.4 420.2Z" fill="#4748ea"/>
<path d="M139.4 423.2L146.5 419.9L140.4 420.2L133.2 423.5Z" fill="#4749eb"/>
<path d="M132.3 426.5L139.4 423.2L133.2 423.5L126.1 426.8Z" fill="#4749eb"/>
<path d="M125.1 429.7L132.3 426.5L126.1 426.8L119 430Z" fill="#4749eb"/>
<path transform="translate(0 370.6)" d="M281.1 -18.3L281.8 -18.2L275.7 -10.5L275 -10.4Z" fill="url(#gb)"/>
<path transform="translate(0 372.4)" d="M274 -21.3L281.1 -20.1L275 -12.2L267.8 -11.1Z" fill="url(#gb)"/>
<path transform="translate(0 375.6)" d="M266.9 -20.2L274 -24.6L267.8 -14.3L260.7 -10.5Z" fill="url(#gb)"/>
<path transform="translate(0 378.9)" d="M259.7 -20.4L266.9 -23.4L260.7 -13.8L253.6 -10.6Z" fill="url(#gb)"/>
<path transform="translate(0 382.2)" d="M252.6 -20.1L259.7 -23.7L253.6 -13.9L246.4 -10.5Z" fill="url(#gb)"/>
<path transform="translate(0 385.5)" d="M245.5 -18.6L252.6 -23.4L246.4 -13.8L239.3 -9.8Z" fill="url(#gb)"/>
<path transform="translate(0 388.7)" d="M238.3 -14.8L245.5 -21.9L239.3 -13.1L232.2 -8.4Z" fill="url(#gb)"/>
<path transform="translate(0 392)" d="M231.2 -12.5L238.3 -18.1L232.2 -11.7L225 -12.3Z" fill="url(#gb)"/>
<path transform="translate(0 395.3)" d="M224.1 -15.4L231.2 -15.8L225 -15.5L217.9 -16.2Z" fill="url(#gb)"/>
<path d="M216.9 382.5L224.1 379.9L217.9 379.1L210.8 381.8Z" fill="#2f84f8"/>
<path d="M209.8 385.2L216.9 382.5L210.8 381.8L203.6 384.5Z" fill="#2e86f7"/>
<path d="M202.7 388.9L209.8 385.2L203.6 384.5L196.5 388.1Z" fill="#2e87f7"/>
<path d="M195.5 392.6L202.7 388.9L196.5 388.1L189.3 391.8Z" fill="#2e85f8"/>
<path d="M188.4 396.3L195.5 392.6L189.3 391.8L182.2 395.5Z" fill="#2f83f9"/>
<path d="M181.3 401.5L188.4 396.3L182.2 395.5L175.1 400.5Z" fill="#327dfb"/>
<path d="M174.1 406.7L181.3 401.5L175.1 400.5L167.9 405.6Z" fill="#3c72ff"/>
<path transform="translate(0 421.4)" d="M167 -6.9L174.1 -14.8L167.9 -15.8L160.8 -7.2Z" fill="url(#gb)"/>
<path d="M159.8 417L167 414.5L160.8 414.2L153.7 417.1Z" fill="#4852f4"/>
<path d="M152.7 419.6L159.8 417L153.7 417.1L146.5 419.9Z" fill="#4755f6"/>
<path d="M145.6 422.9L152.7 419.6L146.5 419.9L139.4 423.2Z" fill="#4756f6"/>
<path d="M138.4 426.2L145.6 422.9L139.4 423.2L132.3 426.5Z" fill="#4756f6"/>
<path d="M131.3 429.4L138.4 426.2L132.3 426.5L125.1 429.7Z" fill="#4756f6"/>
<path transform="translate(0 372.7)" d="M287.3 -30.2L288 -29.8L281.8 -20.3L281.1 -20.4Z" fill="url(#gb)"/>
<path transform="translate(0 374.5)" d="M280.2 -36L287.3 -32L281.1 -22.2L274 -23.5Z" fill="url(#gb)"/>
<path transform="translate(0 377.8)" d="M273 -34.2L280.2 -39.3L274 -26.7L266.9 -22.3Z" fill="url(#gb)"/>
<path transform="translate(0 381.1)" d="M265.9 -34.6L273 -37.5L266.9 -25.6L259.7 -22.6Z" fill="url(#gb)"/>
<path transform="translate(0 384.4)" d="M258.8 -34.1L265.9 -37.8L259.7 -25.8L252.6 -22.3Z" fill="url(#gb)"/>
<path transform="translate(0 387.6)" d="M251.6 -31.7L258.8 -37.4L252.6 -25.5L245.5 -20.8Z" fill="url(#gb)"/>
<path transform="translate(0 390.9)" d="M244.5 -25.6L251.6 -35L245.5 -24.1L238.3 -17Z" fill="url(#gb)"/>
<path transform="translate(0 394.2)" d="M237.4 -21.9L244.5 -28.9L238.3 -20.3L231.2 -14.7Z" fill="url(#gb)"/>
<path transform="translate(0 397.4)" d="M230.2 -18.2L237.4 -25.2L231.2 -18L224.1 -17.5Z" fill="url(#gb)"/>
<path d="M223.1 383.1L230.2 379.2L224.1 379.9L216.9 382.5Z" fill="#2d8cf3"/>
<path d="M216 387L223.1 383.1L216.9 382.5L209.8 385.2Z" fill="#2d8cf3"/>
<path d="M208.8 391.1L216 387L209.8 385.2L202.7 388.9Z" fill="#2d8af4"/>
<path d="M201.7 395.2L208.8 391.1L202.7 388.9L195.5 392.6Z" fill="#2d88f6"/>
<path d="M194.6 399.3L201.7 395.2L195.5 392.6L188.4 396.3Z" fill="#2f85f8"/>
<path d="M187.4 403.5L194.6 399.3L188.4 396.3L181.3 401.5Z" fill="#3180fa"/>
<path d="M180.3 407.7L187.4 403.5L181.3 401.5L174.1 406.7Z" fill="#3677fe"/>
<path transform="translate(0 423.6)" d="M173.2 -11.7L180.3 -15.9L174.1 -16.9L167 -9.1Z" fill="url(#gb)"/>
<path transform="translate(0 426.9)" d="M166 -10.8L173.2 -15L167 -12.4L159.8 -9.9Z" fill="url(#gb)"/>
<path d="M158.9 419.6L166 416.1L159.8 417L152.7 419.6Z" fill="#4563fc"/>
<path d="M151.8 423.2L158.9 419.6L152.7 419.6L145.6 422.9Z" fill="#4563fc"/>
<path d="M144.6 426.8L151.8 423.2L145.6 422.9L138.4 426.2Z" fill="#4562fc"/>
<path d="M137.5 430.4L144.6 426.8L138.4 426.2L131.3 429.4Z" fill="#4561fc"/>
<path transform="translate(0 374.9)" d="M293.5 -16.1L294.2 -16L288 -32L287.3 -32.4Z" fill="url(#gb)"/>
<path transform="translate(0 376.7)" d="M286.4 -18.6L293.5 -17.9L287.3 -34.2L280.2 -38.2Z" fill="url(#gb)"/>
<path transform="translate(0 380)" d="M279.2 -17.6L286.4 -21.9L280.2 -41.5L273 -36.4Z" fill="url(#gb)"/>
<path transform="translate(0 383.2)" d="M272.1 -17.8L279.2 -20.9L273 -39.6L265.9 -36.7Z" fill="url(#gb)"/>
<path transform="translate(0 386.5)" d="M264.9 -17.5L272.1 -21.1L265.9 -40L258.8 -36.3Z" fill="url(#gb)"/>
<path transform="translate(0 389.8)" d="M257.8 -16.2L264.9 -20.8L258.8 -39.5L251.6 -33.9Z" fill="url(#gb)"/>
<path transform="translate(0 393.1)" d="M250.7 -12.8L257.8 -19.5L251.6 -37.2L244.5 -27.7Z" fill="url(#gb)"/>
<path transform="translate(0 396.3)" d="M243.5 -10.8L250.7 -16.1L244.5 -31L237.4 -24.1Z" fill="url(#gb)"/>
<path transform="translate(0 399.6)" d="M236.4 -8.8L243.5 -14.1L237.4 -27.3L230.2 -20.4Z" fill="url(#gb)"/>
<path transform="translate(0 402.9)" d="M229.3 -8.4L236.4 -12.1L230.2 -23.6L223.1 -19.7Z" fill="url(#gb)"/>
<path transform="translate(0 406.1)" d="M222.1 -8.1L229.3 -11.7L223.1 -23L216 -19.1Z" fill="url(#gb)"/>
<path transform="translate(0 409.4)" d="M215 -7.7L222.1 -11.4L216 -22.4L208.8 -18.3Z" fill="url(#gb)"/>
<path transform="translate(0 412.7)" d="M207.9 -7.2L215 -10.9L208.8 -21.6L201.7 -17.5Z" fill="url(#gb)"/>
<path transform="translate(0 416)" d="M200.7 -6.8L207.9 -10.5L201.7 -20.8L194.6 -16.7Z" fill="url(#gb)"/>
<path transform="translate(0 419.2)" d="M193.6 -6.2L200.7 -10L194.6 -19.9L187.4 -15.8Z" fill="url(#gb)"/>
<path transform="translate(0 422.5)" d="M186.5 -5.7L193.6 -9.5L187.4 -19L180.3 -14.8Z" fill="url(#gb)"/>
<path transform="translate(0 425.8)" d="M179.3 -5.9L186.5 -9L180.3 -18.1L173.2 -13.9Z" fill="url(#gb)"/>
<path transform="translate(0 429)" d="M172.2 -6.6L179.3 -9.1L173.2 -17.2L166 -13Z" fill="url(#gb)"/>
<path transform="translate(0 432.3)" d="M165.1 -7.1L172.2 -9.8L166 -16.3L158.9 -12.7Z" fill="url(#gb)"/>
<path d="M157.9 428.5L165.1 425.2L158.9 419.6L151.8 423.2Z" fill="#465ffb"/>
<path d="M150.8 431.7L157.9 428.5L151.8 423.2L144.6 426.8Z" fill="#465ffa"/>
<path d="M143.7 435L150.8 431.7L144.6 426.8L137.5 430.4Z" fill="#465efa"/>
<path transform="translate(0 377.1)" d="M299.7 -6L300.4 -5.8L294.2 -18.2L293.5 -18.2Z" fill="url(#gb)"/>
<path transform="translate(0 378.9)" d="M292.5 -8.3L299.7 -7.8L293.5 -20L286.4 -20.8Z" fill="url(#gb)"/>
<path transform="translate(0 382.1)" d="M285.4 -11.2L292.5 -11.6L286.4 -24L279.2 -19.7Z" fill="url(#gb)"/>
<path transform="translate(0 385.4)" d="M278.3 -9.3L285.4 -14.5L279.2 -23L272.1 -19.9Z" fill="url(#gb)"/>
<path transform="translate(0 388.7)" d="M271.1 -7.3L278.3 -12.6L272.1 -23.2L264.9 -19.7Z" fill="url(#gb)"/>
<path transform="translate(0 392)" d="M264 -5.8L271.1 -10.5L264.9 -23L257.8 -18.4Z" fill="url(#gb)"/>
<path transform="translate(0 395.2)" d="M256.9 -5.7L264 -9.1L257.8 -21.7L250.7 -15Z" fill="url(#gb)"/>
<path transform="translate(0 398.5)" d="M249.7 -7.1L256.9 -9L250.7 -18.3L243.5 -13Z" fill="url(#gb)"/>
<path transform="translate(0 401.8)" d="M242.6 -8.9L249.7 -10.4L243.5 -16.3L236.4 -11Z" fill="url(#gb)"/>
<path d="M235.5 393.9L242.6 392.8L236.4 390.8L229.3 394.4Z" fill="#4563fc"/>
<path transform="translate(0 408.3)" d="M228.3 -13.1L235.5 -14.4L229.3 -13.9L222.1 -10.3Z" fill="url(#gb)"/>
<path transform="translate(0 411.6)" d="M221.2 -12.2L228.3 -16.4L222.1 -13.5L215 -9.8Z" fill="url(#gb)"/>
<path transform="translate(0 414.9)" d="M214 -11L221.2 -15.5L215 -13.1L207.9 -9.4Z" fill="url(#gb)"/>
<path transform="translate(0 418.1)" d="M206.9 -9.4L214 -14.2L207.9 -12.6L200.7 -8.9Z" fill="url(#gb)"/>
<path d="M199.8 413.4L206.9 408.7L200.7 409.2L193.6 413Z" fill="#4759f8"/>
<path d="M192.6 417.9L199.8 413.4L193.6 413L186.5 416.8Z" fill="#4754f5"/>
<path d="M185.5 421.8L192.6 417.9L186.5 416.8L179.3 419.9Z" fill="#4851f3"/>
<path d="M178.4 425.7L185.5 421.8L179.3 419.9L172.2 422.5Z" fill="#4850f3"/>
<path d="M171.2 429.6L178.4 425.7L172.2 422.5L165.1 425.2Z" fill="#4850f3"/>
<path d="M164.1 433.9L171.2 429.6L165.1 425.2L157.9 428.5Z" fill="#484ff1"/>
<path transform="translate(0 441)" d="M157 -2.5L164.1 -7.1L157.9 -12.6L150.8 -9.3Z" fill="url(#gb)"/>
<path transform="translate(0 444.3)" d="M149.8 -1.4L157 -5.8L150.8 -12.6L143.7 -9.3Z" fill="url(#gb)"/>
<path transform="translate(0 379.2)" d="M305.8 -11.7L306.5 -11.1L300.4 -8L299.7 -8.2Z" fill="url(#gb)"/>
<path transform="translate(0 381)" d="M298.7 -17L305.8 -13.5L299.7 -10L292.5 -10.5Z" fill="url(#gb)"/>
<path transform="translate(0 384.3)" d="M291.6 -22.2L298.7 -20.2L292.5 -13.7L285.4 -13.4Z" fill="url(#gb)"/>
<path transform="translate(0 387.6)" d="M284.4 -18.8L291.6 -25.5L285.4 -16.7L278.3 -11.5Z" fill="url(#gb)"/>
<path transform="translate(0 390.8)" d="M277.3 -15.1L284.4 -22.1L278.3 -14.8L271.1 -9.4Z" fill="url(#gb)"/>
<path transform="translate(0 394.1)" d="M270.2 -12.5L277.3 -18.4L271.1 -12.7L264 -7.9Z" fill="url(#gb)"/>
<path transform="translate(0 397.4)" d="M263 -12.4L270.2 -15.7L264 -11.2L256.9 -7.9Z" fill="url(#gb)"/>
<path transform="translate(0 400.7)" d="M255.9 -14.8L263 -15.6L256.9 -11.2L249.7 -9.3Z" fill="url(#gb)"/>
<path transform="translate(0 403.9)" d="M248.8 -18.1L255.9 -18.1L249.7 -12.5L242.6 -11.1Z" fill="url(#gb)"/>
<path transform="translate(0 407.2)" d="M241.6 -22.1L248.8 -21.4L242.6 -14.4L235.5 -13.3Z" fill="url(#gb)"/>
<path transform="translate(0 410.5)" d="M234.5 -25.6L241.6 -25.3L235.5 -16.6L228.3 -15.3Z" fill="url(#gb)"/>
<path transform="translate(0 413.7)" d="M227.4 -24L234.5 -28.9L228.3 -18.6L221.2 -14.4Z" fill="url(#gb)"/>
<path transform="translate(0 417)" d="M220.2 -21.7L227.4 -27.3L221.2 -17.7L214 -13.1Z" fill="url(#gb)"/>
<path transform="translate(0 420.3)" d="M213.1 -18.9L220.2 -25L214 -16.4L206.9 -11.5Z" fill="url(#gb)"/>
<path transform="translate(0 423.6)" d="M206 -20.8L213.1 -22.2L206.9 -14.8L199.8 -10.1Z" fill="url(#gb)"/>
<path transform="translate(0 426.8)" d="M198.8 -22.2L206 -24.1L199.8 -13.4L192.6 -9Z" fill="url(#gb)"/>
<path transform="translate(0 430.1)" d="M191.7 -24.1L198.8 -25.5L192.6 -12.3L185.5 -8.3Z" fill="url(#gb)"/>
<path transform="translate(0 433.4)" d="M184.5 -22.4L191.7 -27.4L185.5 -11.6L178.4 -7.7Z" fill="url(#gb)"/>
<path transform="translate(0 436.6)" d="M177.4 -20.3L184.5 -25.7L178.4 -11L171.2 -7Z" fill="url(#gb)"/>
<path transform="translate(0 439.9)" d="M170.3 -17.1L177.4 -23.6L171.2 -10.3L164.1 -6Z" fill="url(#gb)"/>
<path transform="translate(0 443.2)" d="M163.1 -13.2L170.3 -20.4L164.1 -9.2L157 -4.7Z" fill="url(#gb)"/>
<path transform="translate(0 446.5)" d="M156 -9.8L163.1 -16.5L157 -8L149.8 -3.6Z" fill="url(#gb)"/>
<path transform="translate(0 381.4)" d="M312 -24.6L312.7 -23.1L306.5 -13.2L305.8 -13.8Z" fill="url(#gb)"/>
<path transform="translate(0 383.2)" d="M304.9 -36.7L312 -26.4L305.8 -15.6L298.7 -19.1Z" fill="url(#gb)"/>
<path transform="translate(0 386.5)" d="M297.7 -47.1L304.9 -39.9L298.7 -22.4L291.6 -24.4Z" fill="url(#gb)"/>
<path transform="translate(0 389.7)" d="M290.6 -40.3L297.7 -50.4L291.6 -27.6L284.4 -21Z" fill="url(#gb)"/>
<path transform="translate(0 393)" d="M283.5 -33L290.6 -43.6L284.4 -24.3L277.3 -17.3Z" fill="url(#gb)"/>
<path transform="translate(0 396.3)" d="M276.3 -27.6L283.5 -36.2L277.3 -20.6L270.2 -14.6Z" fill="url(#gb)"/>
<path transform="translate(0 399.6)" d="M269.2 -27.4L276.3 -30.9L270.2 -17.9L263 -14.5Z" fill="url(#gb)"/>
<path transform="translate(0 402.8)" d="M262.1 -32.3L269.2 -30.7L263 -17.8L255.9 -17Z" fill="url(#gb)"/>
<path transform="translate(0 406.1)" d="M254.9 -38.9L262.1 -35.6L255.9 -20.3L248.8 -20.2Z" fill="url(#gb)"/>
<path transform="translate(0 409.4)" d="M247.8 -46.8L254.9 -42.2L248.8 -23.5L241.6 -24.2Z" fill="url(#gb)"/>
<path transform="translate(0 412.6)" d="M240.7 -53.9L247.8 -50.1L241.6 -27.5L234.5 -27.7Z" fill="url(#gb)"/>
<path transform="translate(0 415.9)" d="M233.5 -50.7L240.7 -57.2L234.5 -31L227.4 -26.2Z" fill="url(#gb)"/>
<path transform="translate(0 419.2)" d="M226.4 -46.1L233.5 -54L227.4 -29.4L220.2 -23.9Z" fill="url(#gb)"/>
<path transform="translate(0 422.5)" d="M219.3 -40.5L226.4 -49.4L220.2 -27.1L213.1 -21Z" fill="url(#gb)"/>
<path transform="translate(0 425.7)" d="M212.1 -35.4L219.3 -43.7L213.1 -24.3L206 -23Z" fill="url(#gb)"/>
<path transform="translate(0 429)" d="M205 -31.3L212.1 -38.7L206 -26.2L198.8 -24.4Z" fill="url(#gb)"/>
<path transform="translate(0 432.3)" d="M197.9 -28.9L205 -34.6L198.8 -27.7L191.7 -26.3Z" fill="url(#gb)"/>
<path transform="translate(0 435.5)" d="M190.7 -26.8L197.9 -32.1L191.7 -29.6L184.5 -24.5Z" fill="url(#gb)"/>
<path transform="translate(0 438.8)" d="M183.6 -24.4L190.7 -30.1L184.5 -27.8L177.4 -22.5Z" fill="url(#gb)"/>
<path transform="translate(0 442.1)" d="M176.5 -20.6L183.6 -27.6L177.4 -25.7L170.3 -19.3Z" fill="url(#gb)"/>
<path transform="translate(0 445.4)" d="M169.3 -16L176.5 -23.9L170.3 -22.5L163.1 -15.4Z" fill="url(#gb)"/>
<path transform="translate(0 448.6)" d="M162.2 -12L169.3 -19.3L163.1 -18.6L156 -12Z" fill="url(#gb)"/>
<path transform="translate(0 383.6)" d="M318.2 0.2L318.9 -15.7L312.7 -25.2L312 -26.8Z" fill="url(#gb)"/>
<path transform="translate(0 385.4)" d="M311.1 0.9L318.2 -1.6L312 -28.6L304.9 -38.8Z" fill="url(#gb)"/>
<path transform="translate(0 388.6)" d="M303.9 -7.2L311.1 -2.4L304.9 -42.1L297.7 -49.3Z" fill="url(#gb)"/>
<path transform="translate(0 391.9)" d="M296.8 -5.9L303.9 -10.5L297.7 -52.6L290.6 -42.5Z" fill="url(#gb)"/>
<path transform="translate(0 395.2)" d="M289.6 -4.4L296.8 -9.2L290.6 -45.8L283.5 -35.1Z" fill="url(#gb)"/>
<path transform="translate(0 398.5)" d="M282.5 -3.4L289.6 -7.7L283.5 -38.4L276.3 -29.8Z" fill="url(#gb)"/>
<path transform="translate(0 401.7)" d="M275.4 -3.3L282.5 -6.6L276.3 -33.1L269.2 -29.6Z" fill="url(#gb)"/>
<path transform="translate(0 405)" d="M268.2 -4.3L275.4 -6.6L269.2 -32.9L262.1 -34.5Z" fill="url(#gb)"/>
<path transform="translate(0 408.3)" d="M261.1 -5.6L268.2 -7.6L262.1 -37.8L254.9 -41.1Z" fill="url(#gb)"/>
<path transform="translate(0 411.5)" d="M254 -7.2L261.1 -8.9L254.9 -44.3L247.8 -49Z" fill="url(#gb)"/>
<path transform="translate(0 414.8)" d="M246.8 -8.6L254 -10.5L247.8 -52.3L240.7 -56Z" fill="url(#gb)"/>
<path transform="translate(0 418.1)" d="M239.7 -8L246.8 -11.9L240.7 -59.3L233.5 -52.9Z" fill="url(#gb)"/>
<path transform="translate(0 421.4)" d="M232.6 -7.1L239.7 -11.2L233.5 -56.1L226.4 -48.3Z" fill="url(#gb)"/>
<path transform="translate(0 424.6)" d="M225.4 -5.9L232.6 -10.3L226.4 -51.6L219.3 -42.6Z" fill="url(#gb)"/>
<path transform="translate(0 427.9)" d="M218.3 -4.9L225.4 -9.2L219.3 -45.9L212.1 -37.6Z" fill="url(#gb)"/>
<path transform="translate(0 431.2)" d="M211.2 -4.1L218.3 -8.2L212.1 -40.9L205 -33.5Z" fill="url(#gb)"/>
<path transform="translate(0 434.4)" d="M204 -3.6L211.2 -7.4L205 -36.8L197.9 -31Z" fill="url(#gb)"/>
<path transform="translate(0 437.7)" d="M196.9 -3.2L204 -6.9L197.9 -34.3L190.7 -29Z" fill="url(#gb)"/>
<path transform="translate(0 441)" d="M189.8 -2.7L196.9 -6.5L190.7 -32.2L183.6 -26.5Z" fill="url(#gb)"/>
<path transform="translate(0 444.2)" d="M182.6 -1.9L189.8 -6L183.6 -29.8L176.5 -22.8Z" fill="url(#gb)"/>
<path transform="translate(0 447.5)" d="M175.5 -1L182.6 -5.2L176.5 -26L169.3 -18.2Z" fill="url(#gb)"/>
<path transform="translate(0 450.8)" d="M168.4 -0.2L175.5 -4.3L169.3 -21.4L162.2 -14.2Z" fill="url(#gb)"/>
<path transform="translate(0 385.7)" d="M324.4 0.3L325.1 -8.3L318.9 -17.9L318.2 -2Z" fill="url(#gb)"/>
<path d="M317.2 388.4L324.4 386L318.2 383.8L311.1 386.2Z" fill="#402cb8"/>
<path transform="translate(0 390.8)" d="M310.1 -1L317.2 -2.4L311.1 -4.6L303.9 -9.4Z" fill="url(#gb)"/>
<path transform="translate(0 394.1)" d="M303 -1L310.1 -4.2L303.9 -12.7L296.8 -8.1Z" fill="url(#gb)"/>
<path transform="translate(0 397.3)" d="M295.8 -1L303 -4.2L296.8 -11.3L289.6 -6.6Z" fill="url(#gb)"/>
<path transform="translate(0 400.6)" d="M288.7 -1L295.8 -4.2L289.6 -9.9L282.5 -5.5Z" fill="url(#gb)"/>
<path d="M281.6 402.9L288.7 399.6L282.5 395.1L275.4 398.4Z" fill="#463bdb"/>
<path d="M274.4 406.2L281.6 402.9L275.4 398.4L268.2 400.7Z" fill="#463cdc"/>
<path transform="translate(0 410.4)" d="M267.3 -1L274.4 -4.2L268.2 -9.7L261.1 -7.8Z" fill="url(#gb)"/>
<path transform="translate(0 413.7)" d="M260.2 -1L267.3 -4.2L261.1 -11L254 -9.4Z" fill="url(#gb)"/>
<path transform="translate(0 417)" d="M253 -1L260.2 -4.2L254 -12.6L246.8 -10.8Z" fill="url(#gb)"/>
<path transform="translate(0 420.2)" d="M245.9 -1L253 -4.2L246.8 -14L239.7 -10.1Z" fill="url(#gb)"/>
<path transform="translate(0 423.5)" d="M238.7 -1L245.9 -4.2L239.7 -13.4L232.6 -9.2Z" fill="url(#gb)"/>
<path transform="translate(0 426.8)" d="M231.6 -1L238.7 -4.2L232.6 -12.5L225.4 -8.1Z" fill="url(#gb)"/>
<path transform="translate(0 430.1)" d="M224.5 -1L231.6 -4.2L225.4 -11.4L218.3 -7.1Z" fill="url(#gb)"/>
<path transform="translate(0 433.3)" d="M217.3 -1L224.5 -4.2L218.3 -10.3L211.2 -6.3Z" fill="url(#gb)"/>
<path d="M210.2 435.6L217.3 432.4L211.2 427.1L204 430.8Z" fill="#463ddc"/>
<path d="M203.1 438.9L210.2 435.6L204 430.8L196.9 434.5Z" fill="#463bdb"/>
<path d="M195.9 442.2L203.1 438.9L196.9 434.5L189.8 438.3Z" fill="#453ad9"/>
<path d="M188.8 446L195.9 442.2L189.8 438.3L182.6 442.3Z" fill="#4538d6"/>
<path d="M181.7 449.7L188.8 446L182.6 442.3L175.5 446.5Z" fill="#4435d0"/>
<path d="M174.5 453.5L181.7 449.7L175.5 446.5L168.4 450.6Z" fill="#4332c8"/>
<path transform="translate(0 387.9)" d="M330.5 0.3L331.2 -4L325.1 -10.5L324.4 -1.9Z" fill="url(#gb)"/>
<path d="M323.4 390.6L330.5 388.2L324.4 386L317.2 388.4Z" fill="#402cb8"/>
<path d="M316.3 392L323.4 390.6L317.2 388.4L310.1 389.8Z" fill="#4332c7"/>
<path d="M309.1 395.3L316.3 392L310.1 389.8L303 393.1Z" fill="#4435d1"/>
<path d="M302 398.5L309.1 395.3L303 393.1L295.8 396.4Z" fill="#4435d1"/>
<path d="M294.9 401.8L302 398.5L295.8 396.4L288.7 399.6Z" fill="#4435d1"/>
<path d="M287.7 405.1L294.9 401.8L288.7 399.6L281.6 402.9Z" fill="#4435d1"/>
<path d="M280.6 408.4L287.7 405.1L281.6 402.9L274.4 406.2Z" fill="#4435d1"/>
<path d="M273.5 411.6L280.6 408.4L274.4 406.2L267.3 409.5Z" fill="#4435d1"/>
<path d="M266.3 414.9L273.5 411.6L267.3 409.5L260.2 412.7Z" fill="#4435d1"/>
<path d="M259.2 418.2L266.3 414.9L260.2 412.7L253 416Z" fill="#4435d1"/>
<path d="M252.1 421.4L259.2 418.2L253 416L245.9 419.3Z" fill="#4435d1"/>
<path d="M244.9 424.7L252.1 421.4L245.9 419.3L238.7 422.5Z" fill="#4435d1"/>
<path d="M237.8 428L244.9 424.7L238.7 422.5L231.6 425.8Z" fill="#4435d1"/>
<path d="M230.7 431.2L237.8 428L231.6 425.8L224.5 429.1Z" fill="#4435d1"/>
<path d="M223.5 434.5L230.7 431.2L224.5 429.1L217.3 432.4Z" fill="#4435d1"/>
<path d="M216.4 437.8L223.5 434.5L217.3 432.4L210.2 435.6Z" fill="#4435d1"/>
<path d="M209.2 441.1L216.4 437.8L210.2 435.6L203.1 438.9Z" fill="#4435d1"/>
<path d="M202.1 444.3L209.2 441.1L203.1 438.9L195.9 442.2Z" fill="#4435d1"/>
<path d="M195 448.1L202.1 444.3L195.9 442.2L188.8 446Z" fill="#4434cf"/>
<path d="M187.8 451.9L195 448.1L188.8 446L181.7 449.7Z" fill="#4332c9"/>
<path d="M180.7 455.7L187.8 451.9L181.7 449.7L174.5 453.5Z" fill="#4230c3"/>
<path transform="translate(0 390.1)" d="M336.7 0.4L337.4 -7.7L331.2 -6.2L330.5 -1.8Z" fill="url(#gb)"/>
<path d="M329.6 392.7L336.7 390.5L330.5 388.2L323.4 390.6Z" fill="#402cb8"/>
<path d="M322.4 394.1L329.6 392.7L323.4 390.6L316.3 392Z" fill="#4332c7"/>
<path d="M315.3 397.4L322.4 394.1L316.3 392L309.1 395.3Z" fill="#4435d2"/>
<path d="M308.2 400.7L315.3 397.4L309.1 395.3L302 398.5Z" fill="#4435d2"/>
<path d="M301 404L308.2 400.7L302 398.5L294.9 401.8Z" fill="#4435d2"/>
<path d="M293.9 407.2L301 404L294.9 401.8L287.7 405.1Z" fill="#4435d2"/>
<path d="M286.8 410.5L293.9 407.2L287.7 405.1L280.6 408.4Z" fill="#4435d2"/>
<path d="M279.6 413.8L286.8 410.5L280.6 408.4L273.5 411.6Z" fill="#4435d1"/>
<path d="M272.5 417L279.6 413.8L273.5 411.6L266.3 414.9Z" fill="#4435d1"/>
<path d="M265.4 420.3L272.5 417L266.3 414.9L259.2 418.2Z" fill="#4435d1"/>
<path d="M258.2 423.6L265.4 420.3L259.2 418.2L252.1 421.4Z" fill="#4435d1"/>
<path d="M251.1 426.9L258.2 423.6L252.1 421.4L244.9 424.7Z" fill="#4435d1"/>
<path d="M244 430.1L251.1 426.9L244.9 424.7L237.8 428Z" fill="#4435d1"/>
<path d="M236.8 433.4L244 430.1L237.8 428L230.7 431.2Z" fill="#4435d1"/>
<path d="M229.7 436.7L236.8 433.4L230.7 431.2L223.5 434.5Z" fill="#4435d2"/>
<path d="M222.6 439.9L229.7 436.7L223.5 434.5L216.4 437.8Z" fill="#4435d2"/>
<path d="M215.4 443.2L222.6 439.9L216.4 437.8L209.2 441.1Z" fill="#4435d2"/>
<path d="M208.3 446.5L215.4 443.2L209.2 441.1L202.1 444.3Z" fill="#4435d2"/>
<path d="M201.2 450.3L208.3 446.5L202.1 444.3L195 448.1Z" fill="#4434cf"/>
<path d="M194 454.1L201.2 450.3L195 448.1L187.8 451.9Z" fill="#4332c9"/>
<path d="M186.9 457.9L194 454.1L187.8 451.9L180.7 455.7Z" fill="#4230c3"/>
<path transform="translate(0 392.2)" d="M342.9 0.4L343.6 -15.7L337.4 -9.9L336.7 -1.8Z" fill="url(#gb)"/>
<path d="M335.8 394.9L342.9 392.7L336.7 390.5L329.6 392.7Z" fill="#402cb7"/>
<path d="M328.6 396.2L335.8 394.9L329.6 392.7L322.4 394.1Z" fill="#4332c8"/>
<path d="M321.5 399.4L328.6 396.2L322.4 394.1L315.3 397.4Z" fill="#4536d2"/>
<path d="M314.3 402.7L321.5 399.4L315.3 397.4L308.2 400.7Z" fill="#4536d2"/>
<path d="M307.2 406L314.3 402.7L308.2 400.7L301 404Z" fill="#4536d2"/>
<path d="M300.1 409.3L307.2 406L301 404L293.9 407.2Z" fill="#4536d2"/>
<path d="M292.9 412.6L300.1 409.3L293.9 407.2L286.8 410.5Z" fill="#4536d2"/>
<path d="M285.8 415.9L292.9 412.6L286.8 410.5L279.6 413.8Z" fill="#4536d2"/>
<path d="M278.7 419.1L285.8 415.9L279.6 413.8L272.5 417Z" fill="#4435d2"/>
<path d="M271.5 422.4L278.7 419.1L272.5 417L265.4 420.3Z" fill="#4435d2"/>
<path d="M264.4 425.7L271.5 422.4L265.4 420.3L258.2 423.6Z" fill="#4435d2"/>
<path d="M257.3 428.9L264.4 425.7L258.2 423.6L251.1 426.9Z" fill="#4435d2"/>
<path d="M250.1 432.2L257.3 428.9L251.1 426.9L244 430.1Z" fill="#4435d2"/>
<path d="M243 435.5L250.1 432.2L244 430.1L236.8 433.4Z" fill="#4536d2"/>
<path d="M235.9 438.7L243 435.5L236.8 433.4L229.7 436.7Z" fill="#4536d2"/>
<path d="M228.7 442L235.9 438.7L229.7 436.7L222.6 439.9Z" fill="#4536d2"/>
<path d="M221.6 445.2L228.7 442L222.6 439.9L215.4 443.2Z" fill="#4536d2"/>
<path d="M214.5 448.5L221.6 445.2L215.4 443.2L208.3 446.5Z" fill="#4536d2"/>
<path d="M207.3 452.3L214.5 448.5L208.3 446.5L201.2 450.3Z" fill="#4435cf"/>
<path d="M200.2 456.2L207.3 452.3L201.2 450.3L194 454.1Z" fill="#4332c9"/>
<path d="M193.1 460L200.2 456.2L194 454.1L186.9 457.9Z" fill="#4230c3"/>
<path transform="translate(0 394.4)" d="M349.1 0.5L349.8 -13.2L343.6 -17.9L342.9 -1.7Z" fill="url(#gb)"/>
<path d="M341.9 397.1L349.1 394.9L342.9 392.7L335.8 394.9Z" fill="#402cb7"/>
<path d="M334.8 397.8L341.9 397.1L335.8 394.9L328.6 396.2Z" fill="#4332ca"/>
<path d="M327.7 401L334.8 397.8L328.6 396.2L321.5 399.4Z" fill="#4537d6"/>
<path d="M320.5 404.3L327.7 401L321.5 399.4L314.3 402.7Z" fill="#4537d6"/>
<path d="M313.4 407.7L320.5 404.3L314.3 402.7L307.2 406Z" fill="#4537d6"/>
<path d="M306.3 411L313.4 407.7L307.2 406L300.1 409.3Z" fill="#4537d5"/>
<path d="M299.1 414.4L306.3 411L300.1 409.3L292.9 412.6Z" fill="#4537d5"/>
<path d="M292 417.7L299.1 414.4L292.9 412.6L285.8 415.9Z" fill="#4536d4"/>
<path d="M284.9 421L292 417.7L285.8 415.9L278.7 419.1Z" fill="#4536d4"/>
<path d="M277.7 424.3L284.9 421L278.7 419.1L271.5 422.4Z" fill="#4536d4"/>
<path d="M270.6 427.6L277.7 424.3L271.5 422.4L264.4 425.7Z" fill="#4536d4"/>
<path d="M263.4 430.8L270.6 427.6L264.4 425.7L257.3 428.9Z" fill="#4536d4"/>
<path d="M256.3 434L263.4 430.8L257.3 428.9L250.1 432.2Z" fill="#4536d4"/>
<path d="M249.2 437.2L256.3 434L250.1 432.2L243 435.5Z" fill="#4536d5"/>
<path d="M242 440.4L249.2 437.2L243 435.5L235.9 438.7Z" fill="#4537d5"/>
<path d="M234.9 443.6L242 440.4L235.9 438.7L228.7 442Z" fill="#4537d5"/>
<path d="M227.8 446.8L234.9 443.6L228.7 442L221.6 445.2Z" fill="#4537d6"/>
<path d="M220.6 450.1L227.8 446.8L221.6 445.2L214.5 448.5Z" fill="#4537d6"/>
<path d="M213.5 454.1L220.6 450.1L214.5 448.5L207.3 452.3Z" fill="#4536d3"/>
<path d="M206.4 458.2L213.5 454.1L207.3 452.3L200.2 456.2Z" fill="#4333cb"/>
<path d="M199.2 462.2L206.4 458.2L200.2 456.2L193.1 460Z" fill="#4230c4"/>
<path transform="translate(0 396.6)" d="M355.2 0.6L355.9 -12L349.8 -15.4L349.1 -1.7Z" fill="url(#gb)"/>
<path d="M348.1 399.2L355.2 397.1L349.1 394.9L341.9 397.1Z" fill="#402cb7"/>
<path transform="translate(0 401.6)" d="M341 -3L348.1 -2.4L341.9 -4.6L334.8 -3.9Z" fill="url(#gb)"/>
<path d="M333.8 401.9L341 398.6L334.8 397.8L327.7 401Z" fill="#463cdc"/>
<path d="M326.7 405.2L333.8 401.9L327.7 401L320.5 404.3Z" fill="#463cdc"/>
<path d="M319.6 408.7L326.7 405.2L320.5 404.3L313.4 407.7Z" fill="#463cdb"/>
<path d="M312.4 412.2L319.6 408.7L313.4 407.7L306.3 411Z" fill="#463bda"/>
<path d="M305.3 415.7L312.4 412.2L306.3 411L299.1 414.4Z" fill="#453ad9"/>
<path d="M298.2 419.1L305.3 415.7L299.1 414.4L292 417.7Z" fill="#4539d8"/>
<path d="M291 422.5L298.2 419.1L292 417.7L284.9 421Z" fill="#4539d8"/>
<path d="M283.9 425.9L291 422.5L284.9 421L277.7 424.3Z" fill="#4538d7"/>
<path d="M276.8 429.1L283.9 425.9L277.7 424.3L270.6 427.6Z" fill="#4538d7"/>
<path d="M269.6 432.3L276.8 429.1L270.6 427.6L263.4 430.8Z" fill="#4539d7"/>
<path d="M262.5 435.4L269.6 432.3L263.4 430.8L256.3 434Z" fill="#4539d8"/>
<path d="M255.4 438.4L262.5 435.4L256.3 434L249.2 437.2Z" fill="#453ad9"/>
<path d="M248.2 441.5L255.4 438.4L249.2 437.2L242 440.4Z" fill="#453bda"/>
<path d="M241.1 444.6L248.2 441.5L242 440.4L234.9 443.6Z" fill="#463bdb"/>
<path d="M233.9 447.7L241.1 444.6L234.9 443.6L227.8 446.8Z" fill="#463cdc"/>
<path d="M226.8 450.9L233.9 447.7L227.8 446.8L220.6 450.1Z" fill="#463cdc"/>
<path d="M219.7 455.4L226.8 450.9L220.6 450.1L213.5 454.1Z" fill="#453ad9"/>
<path d="M212.5 459.9L219.7 455.4L213.5 454.1L206.4 458.2Z" fill="#4435d0"/>
<path d="M205.4 464.4L212.5 459.9L206.4 458.2L199.2 462.2Z" fill="#4231c6"/>
<path transform="translate(0 398.7)" d="M361.4 0.6L362.1 -8.3L355.9 -14.2L355.2 -1.6Z" fill="url(#gb)"/>
<path d="M354.3 401.4L361.4 399.4L355.2 397.1L348.1 399.2Z" fill="#402bb6"/>
<path transform="translate(0 403.8)" d="M347.1 -4.8L354.3 -2.4L348.1 -4.6L341 -5.2Z" fill="url(#gb)"/>
<path d="M340 402.3L347.1 399L341 398.6L333.8 401.9Z" fill="#4745e6"/>
<path d="M332.9 405.7L340 402.3L333.8 401.9L326.7 405.2Z" fill="#4744e6"/>
<path d="M325.7 409.3L332.9 405.7L326.7 405.2L319.6 408.7Z" fill="#4743e5"/>
<path d="M318.6 413L325.7 409.3L319.6 408.7L312.4 412.2Z" fill="#4642e3"/>
<path d="M311.5 416.7L318.6 413L312.4 412.2L305.3 415.7Z" fill="#4640e1"/>
<path d="M304.3 420.3L311.5 416.7L305.3 415.7L298.2 419.1Z" fill="#463edf"/>
<path d="M297.2 423.8L304.3 420.3L298.2 419.1L291 422.5Z" fill="#463ddd"/>
<path d="M290.1 427.2L297.2 423.8L291 422.5L283.9 425.9Z" fill="#463cdc"/>
<path d="M282.9 430.5L290.1 427.2L283.9 425.9L276.8 429.1Z" fill="#463cdc"/>
<path d="M275.8 433.5L282.9 430.5L276.8 429.1L269.6 432.3Z" fill="#463ddd"/>
<path d="M268.7 436.5L275.8 433.5L269.6 432.3L262.5 435.4Z" fill="#463ede"/>
<path d="M261.5 439.3L268.7 436.5L262.5 435.4L255.4 438.4Z" fill="#463fe0"/>
<path d="M254.4 442.2L261.5 439.3L255.4 438.4L248.2 441.5Z" fill="#4641e2"/>
<path d="M247.3 445.1L254.4 442.2L248.2 441.5L241.1 444.6Z" fill="#4743e4"/>
<path d="M240.1 448.1L247.3 445.1L241.1 444.6L233.9 447.7Z" fill="#4744e5"/>
<path d="M233 451.3L240.1 448.1L233.9 447.7L226.8 450.9Z" fill="#4745e6"/>
<path d="M225.9 456.4L233 451.3L226.8 450.9L219.7 455.4Z" fill="#4641e1"/>
<path d="M218.7 461.5L225.9 456.4L219.7 455.4L212.5 459.9Z" fill="#4538d7"/>
<path d="M211.6 466.5L218.7 461.5L212.5 459.9L205.4 464.4Z" fill="#4332c8"/>
<path transform="translate(0 400.9)" d="M367.6 0.6L368.3 -5.2L362.1 -10.5L361.4 -1.5Z" fill="url(#gb)"/>
<path d="M360.5 403.6L367.6 401.5L361.4 399.4L354.3 401.4Z" fill="#402bb6"/>
<path transform="translate(0 406)" d="M353.3 -5.7L360.5 -2.4L354.3 -4.6L347.1 -7Z" fill="url(#gb)"/>
<path d="M346.2 403.6L353.3 400.3L347.1 399L340 402.3Z" fill="#484cef"/>
<path d="M339 407.1L346.2 403.6L340 402.3L332.9 405.7Z" fill="#484bef"/>
<path d="M331.9 410.7L339 407.1L332.9 405.7L325.7 409.3Z" fill="#474aed"/>
<path d="M324.8 414.5L331.9 410.7L325.7 409.3L318.6 413Z" fill="#4748ea"/>
<path d="M317.6 418.3L324.8 414.5L318.6 413L311.5 416.7Z" fill="#4745e7"/>
<path d="M310.5 422L317.6 418.3L311.5 416.7L304.3 420.3Z" fill="#4743e4"/>
<path d="M303.4 425.6L310.5 422L304.3 420.3L297.2 423.8Z" fill="#4641e2"/>
<path d="M296.2 429L303.4 425.6L297.2 423.8L290.1 427.2Z" fill="#4640e0"/>
<path d="M289.1 432.2L296.2 429L290.1 427.2L282.9 430.5Z" fill="#4640e0"/>
<path d="M282 435.2L289.1 432.2L282.9 430.5L275.8 433.5Z" fill="#4640e1"/>
<path d="M274.8 438.1L282 435.2L275.8 433.5L268.7 436.5Z" fill="#4642e3"/>
<path d="M267.7 440.9L274.8 438.1L268.7 436.5L261.5 439.3Z" fill="#4744e6"/>
<path d="M260.6 443.6L267.7 440.9L261.5 439.3L254.4 442.2Z" fill="#4747e9"/>
<path d="M253.4 446.5L260.6 443.6L254.4 442.2L247.3 445.1Z" fill="#4749ec"/>
<path d="M246.3 449.4L253.4 446.5L247.3 445.1L240.1 448.1Z" fill="#484bee"/>
<path d="M239.2 452.6L246.3 449.4L240.1 448.1L233 451.3Z" fill="#484cef"/>
<path d="M232 458L239.2 452.6L233 451.3L225.9 456.4Z" fill="#4747e9"/>
<path d="M224.9 463.4L232 458L225.9 456.4L218.7 461.5Z" fill="#463cdb"/>
<path d="M217.8 468.7L224.9 463.4L218.7 461.5L211.6 466.5Z" fill="#4333ca"/>
<path transform="translate(0 403.1)" d="M373.8 0.5L374.5 -2.8L368.3 -7.4L367.6 -1.6Z" fill="url(#gb)"/>
<path d="M366.6 405.7L373.8 403.6L367.6 401.5L360.5 403.6Z" fill="#402cb7"/>
<path transform="translate(0 408.1)" d="M359.5 -4.8L366.6 -2.4L360.5 -4.6L353.3 -7.9Z" fill="url(#gb)"/>
<path d="M352.4 406.6L359.5 403.3L353.3 400.3L346.2 403.6Z" fill="#484cef"/>
<path d="M345.2 410L352.4 406.6L346.2 403.6L339 407.1Z" fill="#484bef"/>
<path d="M338.1 413.6L345.2 410L339 407.1L331.9 410.7Z" fill="#474aed"/>
<path d="M331 417.3L338.1 413.6L331.9 410.7L324.8 414.5Z" fill="#4748ea"/>
<path d="M323.8 421L331 417.3L324.8 414.5L317.6 418.3Z" fill="#4745e7"/>
<path d="M316.7 424.6L323.8 421L317.6 418.3L310.5 422Z" fill="#4743e4"/>
<path d="M309.6 428.1L316.7 424.6L310.5 422L303.4 425.6Z" fill="#4641e2"/>
<path d="M302.4 431.5L309.6 428.1L303.4 425.6L296.2 429Z" fill="#4640e0"/>
<path d="M295.3 434.8L302.4 431.5L296.2 429L289.1 432.2Z" fill="#4640e0"/>
<path d="M288.1 437.8L295.3 434.8L289.1 432.2L282 435.2Z" fill="#4640e1"/>
<path d="M281 440.8L288.1 437.8L282 435.2L274.8 438.1Z" fill="#4642e3"/>
<path d="M273.9 443.6L281 440.8L274.8 438.1L267.7 440.9Z" fill="#4744e6"/>
<path d="M266.7 446.5L273.9 443.6L267.7 440.9L260.6 443.6Z" fill="#4747e9"/>
<path d="M259.6 449.4L266.7 446.5L260.6 443.6L253.4 446.5Z" fill="#4749ec"/>
<path d="M252.5 452.4L259.6 449.4L253.4 446.5L246.3 449.4Z" fill="#484bee"/>
<path d="M245.3 455.6L252.5 452.4L246.3 449.4L239.2 452.6Z" fill="#484cef"/>
<path d="M238.2 460.7L245.3 455.6L239.2 452.6L232 458Z" fill="#4747e9"/>
<path d="M231.1 465.9L238.2 460.7L232 458L224.9 463.4Z" fill="#463cdb"/>
<path d="M223.9 470.8L231.1 465.9L224.9 463.4L217.8 468.7Z" fill="#4333cb"/>
<path d="M379.9 405.7L380.6 403.7L374.5 400.3L373.8 403.6Z" fill="#412ebe"/>
<path d="M372.8 407.9L379.9 405.7L373.8 403.6L366.6 405.7Z" fill="#402cb7"/>
<path transform="translate(0 410.3)" d="M365.7 -3.4L372.8 -2.4L366.6 -4.6L359.5 -7Z" fill="url(#gb)"/>
<path d="M358.5 410.2L365.7 406.9L359.5 403.3L352.4 406.6Z" fill="#4746e8"/>
<path d="M351.4 413.6L358.5 410.2L352.4 406.6L345.2 410Z" fill="#4745e7"/>
<path d="M344.3 417L351.4 413.6L345.2 410L338.1 413.6Z" fill="#4744e6"/>
<path d="M337.1 420.5L344.3 417L338.1 413.6L331 417.3Z" fill="#4743e4"/>
<path d="M330 424L337.1 420.5L331 417.3L323.8 421Z" fill="#4641e2"/>
<path d="M322.9 427.5L330 424L323.8 421L316.7 424.6Z" fill="#463fe0"/>
<path d="M315.7 430.9L322.9 427.5L316.7 424.6L309.6 428.1Z" fill="#463ede"/>
<path d="M308.6 434.2L315.7 430.9L309.6 428.1L302.4 431.5Z" fill="#463ddd"/>
<path d="M301.5 437.5L308.6 434.2L302.4 431.5L295.3 434.8Z" fill="#463ddd"/>
<path d="M294.3 440.6L301.5 437.5L295.3 434.8L288.1 437.8Z" fill="#463ede"/>
<path d="M287.2 443.7L294.3 440.6L288.1 437.8L281 440.8Z" fill="#463fdf"/>
<path d="M280.1 446.8L287.2 443.7L281 440.8L273.9 443.6Z" fill="#4640e1"/>
<path d="M272.9 449.8L280.1 446.8L273.9 443.6L266.7 446.5Z" fill="#4642e3"/>
<path d="M265.8 452.9L272.9 449.8L266.7 446.5L259.6 449.4Z" fill="#4744e5"/>
<path d="M258.6 456.1L265.8 452.9L259.6 449.4L252.5 452.4Z" fill="#4745e7"/>
<path d="M251.5 459.3L258.6 456.1L252.5 452.4L245.3 455.6Z" fill="#4746e7"/>
<path d="M244.4 463.9L251.5 459.3L245.3 455.6L238.2 460.7Z" fill="#4641e2"/>
<path d="M237.2 468.5L244.4 463.9L238.2 460.7L231.1 465.9Z" fill="#4539d8"/>
<path d="M230.1 473L237.2 468.5L231.1 465.9L223.9 470.8Z" fill="#4332c9"/>
<path d="M386.1 407.8L386.8 405.2L380.6 403.7L379.9 405.7Z" fill="#412ebc"/>
<path d="M379 410.1L386.1 407.8L379.9 405.7L372.8 407.9Z" fill="#402cb7"/>
<path transform="translate(0 412.5)" d="M371.8 -2.9L379 -2.4L372.8 -4.6L365.7 -5.5Z" fill="url(#gb)"/>
<path d="M364.7 412.8L371.8 409.6L365.7 406.9L358.5 410.2Z" fill="#4640e1"/>
<path d="M357.6 416.2L364.7 412.8L358.5 410.2L351.4 413.6Z" fill="#4640e1"/>
<path d="M350.4 419.5L357.6 416.2L351.4 413.6L344.3 417Z" fill="#4640e0"/>
<path d="M343.3 422.8L350.4 419.5L344.3 417L337.1 420.5Z" fill="#463fdf"/>
<path d="M336.2 426.2L343.3 422.8L337.1 420.5L330 424Z" fill="#463ede"/>
<path d="M329 429.5L336.2 426.2L330 424L322.9 427.5Z" fill="#463ddd"/>
<path d="M321.9 432.8L329 429.5L322.9 427.5L315.7 430.9Z" fill="#463ddd"/>
<path d="M314.8 436.1L321.9 432.8L315.7 430.9L308.6 434.2Z" fill="#463cdc"/>
<path d="M307.6 439.4L314.8 436.1L308.6 434.2L301.5 437.5Z" fill="#463cdc"/>
<path d="M300.5 442.6L307.6 439.4L301.5 437.5L294.3 440.6Z" fill="#463ddc"/>
<path d="M293.4 445.8L300.5 442.6L294.3 440.6L287.2 443.7Z" fill="#463ddd"/>
<path d="M286.2 449L293.4 445.8L287.2 443.7L280.1 446.8Z" fill="#463ede"/>
<path d="M279.1 452.2L286.2 449L280.1 446.8L272.9 449.8Z" fill="#463fdf"/>
<path d="M272 455.4L279.1 452.2L272.9 449.8L265.8 452.9Z" fill="#463fe0"/>
<path d="M264.8 458.7L272 455.4L265.8 452.9L258.6 456.1Z" fill="#4640e1"/>
<path d="M257.7 461.9L264.8 458.7L258.6 456.1L251.5 459.3Z" fill="#4640e1"/>
<path d="M250.6 466.3L257.7 461.9L251.5 459.3L244.4 463.9Z" fill="#463ddd"/>
<path d="M243.4 470.8L250.6 466.3L244.4 463.9L237.2 468.5Z" fill="#4536d5"/>
<path d="M236.3 475.2L243.4 470.8L237.2 468.5L230.1 473Z" fill="#4331c7"/>
<path d="M392.3 409.9L393 406.8L386.8 405.2L386.1 407.8Z" fill="#422fc0"/>
<path d="M385.2 412.2L392.3 409.9L386.1 407.8L379 410.1Z" fill="#402cb8"/>
<path transform="translate(0 414.6)" d="M378 -3L385.2 -2.4L379 -4.6L371.8 -5.1Z" fill="url(#gb)"/>
<path d="M370.9 414.9L378 411.6L371.8 409.6L364.7 412.8Z" fill="#463fe0"/>
<path d="M363.7 418.2L370.9 414.9L364.7 412.8L357.6 416.2Z" fill="#463fe0"/>
<path d="M356.6 421.5L363.7 418.2L357.6 416.2L350.4 419.5Z" fill="#463fe0"/>
<path d="M349.5 424.8L356.6 421.5L350.4 419.5L343.3 422.8Z" fill="#463fdf"/>
<path d="M342.3 428.1L349.5 424.8L343.3 422.8L336.2 426.2Z" fill="#463fdf"/>
<path d="M335.2 431.3L342.3 428.1L336.2 426.2L329 429.5Z" fill="#463edf"/>
<path d="M328.1 434.6L335.2 431.3L329 429.5L321.9 432.8Z" fill="#463ede"/>
<path d="M320.9 437.9L328.1 434.6L321.9 432.8L314.8 436.1Z" fill="#463ede"/>
<path d="M313.8 441.2L320.9 437.9L314.8 436.1L307.6 439.4Z" fill="#463ede"/>
<path d="M306.7 444.4L313.8 441.2L307.6 439.4L300.5 442.6Z" fill="#463ede"/>
<path d="M299.5 447.7L306.7 444.4L300.5 442.6L293.4 445.8Z" fill="#463edf"/>
<path d="M292.4 450.9L299.5 447.7L293.4 445.8L286.2 449Z" fill="#463fdf"/>
<path d="M285.3 454.2L292.4 450.9L286.2 449L279.1 452.2Z" fill="#463fdf"/>
<path d="M278.1 457.4L285.3 454.2L279.1 452.2L272 455.4Z" fill="#463fe0"/>
<path d="M271 460.7L278.1 457.4L272 455.4L264.8 458.7Z" fill="#463fe0"/>
<path d="M263.9 464L271 460.7L264.8 458.7L257.7 461.9Z" fill="#463fe0"/>
<path d="M256.7 468.4L263.9 464L257.7 461.9L250.6 466.3Z" fill="#463cdc"/>
<path d="M249.6 472.9L256.7 468.4L250.6 466.3L243.4 470.8Z" fill="#4536d4"/>
<path d="M242.5 477.3L249.6 472.9L243.4 470.8L236.3 475.2Z" fill="#4331c7"/>
<path transform="translate(0 411.7)" d="M398.5 0.3L399.2 -4L393 -4.9L392.3 -1.8Z" fill="url(#gb)"/>
<path d="M391.3 414.4L398.5 412L392.3 409.9L385.2 412.2Z" fill="#402cb8"/>
<path transform="translate(0 416.8)" d="M384.2 -2.2L391.3 -2.4L385.2 -4.6L378 -5.2Z" fill="url(#gb)"/>
<path d="M377.1 417.9L384.2 414.6L378 411.6L370.9 414.9Z" fill="#463ede"/>
<path d="M369.9 421.2L377.1 417.9L370.9 414.9L363.7 418.2Z" fill="#463ede"/>
<path d="M362.8 424.4L369.9 421.2L363.7 418.2L356.6 421.5Z" fill="#463edd"/>
<path d="M355.7 427.7L362.8 424.4L356.6 421.5L349.5 424.8Z" fill="#463ddd"/>
<path d="M348.5 431L355.7 427.7L349.5 424.8L342.3 428.1Z" fill="#463ddd"/>
<path d="M341.4 434.2L348.5 431L342.3 428.1L335.2 431.3Z" fill="#463ddd"/>
<path d="M334.3 437.5L341.4 434.2L335.2 431.3L328.1 434.6Z" fill="#463ddd"/>
<path d="M327.1 440.8L334.3 437.5L328.1 434.6L320.9 437.9Z" fill="#463ddd"/>
<path d="M320 444.1L327.1 440.8L320.9 437.9L313.8 441.2Z" fill="#463ddd"/>
<path d="M312.8 447.3L320 444.1L313.8 441.2L306.7 444.4Z" fill="#463ddd"/>
<path d="M305.7 450.6L312.8 447.3L306.7 444.4L299.5 447.7Z" fill="#463ddd"/>
<path d="M298.6 453.9L305.7 450.6L299.5 447.7L292.4 450.9Z" fill="#463ddd"/>
<path d="M291.4 457.1L298.6 453.9L292.4 450.9L285.3 454.2Z" fill="#463ddd"/>
<path d="M284.3 460.4L291.4 457.1L285.3 454.2L278.1 457.4Z" fill="#463ddd"/>
<path d="M277.2 463.7L284.3 460.4L278.1 457.4L271 460.7Z" fill="#463ede"/>
<path d="M270 466.9L277.2 463.7L271 460.7L263.9 464Z" fill="#463ede"/>
<path d="M262.9 471.1L270 466.9L263.9 464L256.7 468.4Z" fill="#453bda"/>
<path d="M255.8 475.3L262.9 471.1L256.7 468.4L249.6 472.9Z" fill="#4435d2"/>
<path d="M248.6 479.2L255.8 475.3L249.6 472.9L242.5 477.3Z" fill="#4331c7"/>
<path transform="translate(0 413.9)" d="M404.6 -2.8L405.3 -3.1L399.2 -6.2L398.5 -1.9Z" fill="url(#gb)"/>
<path d="M397.5 414.4L404.6 411.1L398.5 412L391.3 414.4Z" fill="#4331c6"/>
<path d="M390.4 417.7L397.5 414.4L391.3 414.4L384.2 414.6Z" fill="#4435d1"/>
<path d="M383.2 420.9L390.4 417.7L384.2 414.6L377.1 417.9Z" fill="#4539d8"/>
<path d="M376.1 424.2L383.2 420.9L377.1 417.9L369.9 421.2Z" fill="#4539d8"/>
<path d="M369 427.5L376.1 424.2L369.9 421.2L362.8 424.4Z" fill="#4539d8"/>
<path d="M361.8 430.8L369 427.5L362.8 424.4L355.7 427.7Z" fill="#4539d8"/>
<path d="M354.7 434L361.8 430.8L355.7 427.7L348.5 431Z" fill="#4539d8"/>
<path d="M347.6 437.3L354.7 434L348.5 431L341.4 434.2Z" fill="#4539d8"/>
<path d="M340.4 440.6L347.6 437.3L341.4 434.2L334.3 437.5Z" fill="#4539d8"/>
<path d="M333.3 443.8L340.4 440.6L334.3 437.5L327.1 440.8Z" fill="#4539d8"/>
<path d="M326.2 447.1L333.3 443.8L327.1 440.8L320 444.1Z" fill="#4539d8"/>
<path d="M319 450.4L326.2 447.1L320 444.1L312.8 447.3Z" fill="#4539d8"/>
<path d="M311.9 453.7L319 450.4L312.8 447.3L305.7 450.6Z" fill="#4539d8"/>
<path d="M304.8 456.9L311.9 453.7L305.7 450.6L298.6 453.9Z" fill="#4539d8"/>
<path d="M297.6 460.2L304.8 456.9L298.6 453.9L291.4 457.1Z" fill="#4539d8"/>
<path d="M290.5 463.5L297.6 460.2L291.4 457.1L284.3 460.4Z" fill="#4539d8"/>
<path d="M283.3 466.7L290.5 463.5L284.3 460.4L277.2 463.7Z" fill="#4539d8"/>
<path d="M276.2 470L283.3 466.7L277.2 463.7L270 466.9Z" fill="#4539d8"/>
<path d="M269.1 473.9L276.2 470L270 466.9L262.9 471.1Z" fill="#4537d5"/>
<path d="M261.9 477.6L269.1 473.9L262.9 471.1L255.8 475.3Z" fill="#4434ce"/>
<path d="M254.8 480.9L261.9 477.6L255.8 475.3L248.6 479.2Z" fill="#4332c8"/>
<path transform="translate(0 416.1)" d="M410.8 -7.4L411.5 -7.6L405.3 -5.3L404.6 -4.9Z" fill="url(#gb)"/>
<path transform="translate(0 417.9)" d="M403.7 -6.9L410.8 -9.2L404.6 -6.7L397.5 -3.5Z" fill="url(#gb)"/>
<path transform="translate(0 421.1)" d="M396.5 -7.8L403.7 -10.2L397.5 -6.7L390.4 -3.5Z" fill="url(#gb)"/>
<path transform="translate(0 424.4)" d="M389.4 -7.3L396.5 -11.1L390.4 -6.7L383.2 -3.5Z" fill="url(#gb)"/>
<path transform="translate(0 427.7)" d="M382.3 -4.2L389.4 -10.5L383.2 -6.7L376.1 -3.5Z" fill="url(#gb)"/>
<path d="M375.1 429L382.3 423.4L376.1 424.2L369 427.5Z" fill="#463bdb"/>
<path d="M368 431.9L375.1 429L369 427.5L361.8 430.8Z" fill="#4539d8"/>
<path d="M360.9 433.9L368 431.9L361.8 430.8L354.7 434Z" fill="#463bda"/>
<path transform="translate(0 440.8)" d="M353.7 -5.1L360.9 -6.9L354.7 -6.7L347.6 -3.5Z" fill="url(#gb)"/>
<path transform="translate(0 444)" d="M346.6 -5.7L353.7 -8.3L347.6 -6.7L340.4 -3.5Z" fill="url(#gb)"/>
<path transform="translate(0 447.3)" d="M339.5 -5.8L346.6 -9L340.4 -6.7L333.3 -3.5Z" fill="url(#gb)"/>
<path transform="translate(0 450.6)" d="M332.3 -5.6L339.5 -9.1L333.3 -6.7L326.2 -3.5Z" fill="url(#gb)"/>
<path transform="translate(0 453.8)" d="M325.2 -5.3L332.3 -8.9L326.2 -6.7L319 -3.5Z" fill="url(#gb)"/>
<path transform="translate(0 457.1)" d="M318.1 -5.1L325.2 -8.5L319 -6.7L311.9 -3.5Z" fill="url(#gb)"/>
<path transform="translate(0 460.4)" d="M310.9 -4.6L318.1 -8.3L311.9 -6.7L304.8 -3.5Z" fill="url(#gb)"/>
<path d="M303.8 460L310.9 455.7L304.8 456.9L297.6 460.2Z" fill="#463ede"/>
<path transform="translate(0 466.9)" d="M296.7 -5.9L303.8 -6.9L297.6 -6.7L290.5 -3.5Z" fill="url(#gb)"/>
<path transform="translate(0 470.2)" d="M289.5 -5.8L296.7 -9.2L290.5 -6.7L283.3 -3.5Z" fill="url(#gb)"/>
<path transform="translate(0 473.5)" d="M282.4 -5.5L289.5 -9.1L283.3 -6.7L276.2 -3.5Z" fill="url(#gb)"/>
<path transform="translate(0 476.7)" d="M275.3 -5.1L282.4 -8.8L276.2 -6.7L269.1 -2.8Z" fill="url(#gb)"/>
<path transform="translate(0 480)" d="M268.1 -4.6L275.3 -8.3L269.1 -6.1L261.9 -2.4Z" fill="url(#gb)"/>
<path transform="translate(0 483.3)" d="M261 -4.1L268.1 -7.9L261.9 -5.7L254.8 -2.4Z" fill="url(#gb)"/>
<path transform="translate(0 418.2)" d="M417 -22.5L417.7 -22.5L411.5 -9.8L410.8 -9.5Z" fill="url(#gb)"/>
<path transform="translate(0 420)" d="M409.9 -24.9L417 -24.3L410.8 -11.3L403.7 -9.1Z" fill="url(#gb)"/>
<path transform="translate(0 423.3)" d="M402.7 -27.9L409.9 -28.1L403.7 -12.4L396.5 -9.9Z" fill="url(#gb)"/>
<path transform="translate(0 426.6)" d="M395.6 -26L402.7 -31.2L396.5 -13.2L389.4 -9.4Z" fill="url(#gb)"/>
<path transform="translate(0 429.8)" d="M388.4 -14.9L395.6 -29.3L389.4 -12.7L382.3 -6.4Z" fill="url(#gb)"/>
<path transform="translate(0 433.1)" d="M381.3 -6.5L388.4 -18.2L382.3 -9.7L375.1 -4.1Z" fill="url(#gb)"/>
<path transform="translate(0 436.4)" d="M374.2 -8.1L381.3 -9.8L375.1 -7.4L368 -4.5Z" fill="url(#gb)"/>
<path transform="translate(0 439.6)" d="M367 -12.6L374.2 -11.3L368 -7.8L360.9 -5.8Z" fill="url(#gb)"/>
<path transform="translate(0 442.9)" d="M359.9 -18L367 -15.9L360.9 -9L353.7 -7.2Z" fill="url(#gb)"/>
<path transform="translate(0 446.2)" d="M352.8 -20.3L359.9 -21.3L353.7 -10.5L346.6 -7.9Z" fill="url(#gb)"/>
<path transform="translate(0 449.5)" d="M345.6 -20.7L352.8 -23.6L346.6 -11.1L339.5 -8Z" fill="url(#gb)"/>
<path transform="translate(0 452.7)" d="M338.5 -19.9L345.6 -23.9L339.5 -11.2L332.3 -7.8Z" fill="url(#gb)"/>
<path transform="translate(0 456)" d="M331.4 -18.8L338.5 -23.2L332.3 -11L325.2 -7.4Z" fill="url(#gb)"/>
<path transform="translate(0 459.3)" d="M324.2 -18L331.4 -22L325.2 -10.7L318.1 -7.2Z" fill="url(#gb)"/>
<path transform="translate(0 462.5)" d="M317.1 -16.5L324.2 -21.3L318.1 -10.5L310.9 -6.8Z" fill="url(#gb)"/>
<path transform="translate(0 465.8)" d="M310 -12.6L317.1 -19.7L310.9 -10.1L303.8 -5.8Z" fill="url(#gb)"/>
<path transform="translate(0 469.1)" d="M302.8 -21L310 -15.9L303.8 -9L296.7 -8.1Z" fill="url(#gb)"/>
<path transform="translate(0 472.4)" d="M295.7 -20.7L302.8 -24.3L296.7 -11.3L289.5 -8Z" fill="url(#gb)"/>
<path transform="translate(0 475.6)" d="M288.6 -19.5L295.7 -23.9L289.5 -11.2L282.4 -7.6Z" fill="url(#gb)"/>
<path transform="translate(0 478.9)" d="M281.4 -18L288.6 -22.8L282.4 -10.9L275.3 -7.2Z" fill="url(#gb)"/>
<path transform="translate(0 482.2)" d="M274.3 -16.5L281.4 -21.3L275.3 -10.5L268.1 -6.8Z" fill="url(#gb)"/>
<path transform="translate(0 485.4)" d="M267.2 -14.6L274.3 -19.7L268.1 -10.1L261 -6.3Z" fill="url(#gb)"/>
<path transform="translate(0 420.4)" d="M423.2 -34.4L423.9 -34.1L417.7 -24.6L417 -24.7Z" fill="url(#gb)"/>
<path transform="translate(0 422.2)" d="M416 -39.1L423.2 -36.2L417 -26.5L409.9 -27Z" fill="url(#gb)"/>
<path transform="translate(0 425.5)" d="M408.9 -44L416 -42.4L409.9 -30.3L402.7 -30.1Z" fill="url(#gb)"/>
<path transform="translate(0 428.7)" d="M401.8 -41L408.9 -47.3L402.7 -33.3L395.6 -28.2Z" fill="url(#gb)"/>
<path transform="translate(0 432)" d="M394.6 -23.1L401.8 -44.2L395.6 -31.4L388.4 -17.1Z" fill="url(#gb)"/>
<path transform="translate(0 435.3)" d="M387.5 -9.6L394.6 -26.4L388.4 -20.4L381.3 -8.7Z" fill="url(#gb)"/>
<path transform="translate(0 438.5)" d="M380.4 -12L387.5 -12.9L381.3 -12L374.2 -10.2Z" fill="url(#gb)"/>
<path transform="translate(0 441.8)" d="M373.2 -19.4L380.4 -15.3L374.2 -13.5L367 -14.8Z" fill="url(#gb)"/>
<path transform="translate(0 445.1)" d="M366.1 -28L373.2 -22.7L367 -18.1L359.9 -20.2Z" fill="url(#gb)"/>
<path transform="translate(0 448.4)" d="M359 -31.7L366.1 -31.3L359.9 -23.4L352.8 -22.4Z" fill="url(#gb)"/>
<path transform="translate(0 451.6)" d="M351.8 -32.3L359 -35L352.8 -25.7L345.6 -22.8Z" fill="url(#gb)"/>
<path transform="translate(0 454.9)" d="M344.7 -31.1L351.8 -35.6L345.6 -26.1L338.5 -22.1Z" fill="url(#gb)"/>
<path transform="translate(0 458.2)" d="M337.5 -29.3L344.7 -34.4L338.5 -25.3L331.4 -20.9Z" fill="url(#gb)"/>
<path transform="translate(0 461.4)" d="M330.4 -28L337.5 -32.5L331.4 -24.2L324.2 -20.2Z" fill="url(#gb)"/>
<path transform="translate(0 464.7)" d="M323.3 -25.6L330.4 -31.3L324.2 -23.4L317.1 -18.6Z" fill="url(#gb)"/>
<path transform="translate(0 468)" d="M316.1 -19.4L323.3 -28.9L317.1 -21.9L310 -14.8Z" fill="url(#gb)"/>
<path transform="translate(0 471.3)" d="M309 -33L316.1 -22.7L310 -18.1L302.8 -23.2Z" fill="url(#gb)"/>
<path transform="translate(0 474.5)" d="M301.9 -32.3L309 -36.2L302.8 -26.5L295.7 -22.8Z" fill="url(#gb)"/>
<path transform="translate(0 477.8)" d="M294.7 -30.5L301.9 -35.6L295.7 -26.1L288.6 -21.7Z" fill="url(#gb)"/>
<path transform="translate(0 481.1)" d="M287.6 -28L294.7 -33.8L288.6 -25L281.4 -20.2Z" fill="url(#gb)"/>
<path transform="translate(0 484.3)" d="M280.5 -25.6L287.6 -31.3L281.4 -23.4L274.3 -18.6Z" fill="url(#gb)"/>
<path transform="translate(0 487.6)" d="M273.3 -22.5L280.5 -28.9L274.3 -21.9L267.2 -16.7Z" fill="url(#gb)"/>
<path transform="translate(0 422.5)" d="M429.3 -21.2L430 -21.2L423.9 -36.3L423.2 -36.6Z" fill="url(#gb)"/>
<path transform="translate(0 424.3)" d="M422.2 -23.1L429.3 -23L423.2 -38.4L416 -41.3Z" fill="url(#gb)"/>
<path transform="translate(0 427.6)" d="M415.1 -29.3L422.2 -26.4L416 -44.6L408.9 -46.2Z" fill="url(#gb)"/>
<path transform="translate(0 430.9)" d="M407.9 -30.5L415.1 -32.5L408.9 -49.5L401.8 -43.1Z" fill="url(#gb)"/>
<path transform="translate(0 434.2)" d="M400.8 -18.2L407.9 -33.8L401.8 -46.4L394.6 -25.3Z" fill="url(#gb)"/>
<path transform="translate(0 437.4)" d="M393.7 -2.8L400.8 -21.5L394.6 -28.6L387.5 -11.8Z" fill="url(#gb)"/>
<path transform="translate(0 440.7)" d="M386.5 -5.9L393.7 -6.1L387.5 -15L380.4 -14.2Z" fill="url(#gb)"/>
<path transform="translate(0 444)" d="M379.4 -12.7L386.5 -9.2L380.4 -17.5L373.2 -21.6Z" fill="url(#gb)"/>
<path transform="translate(0 447.2)" d="M372.3 -20.7L379.4 -15.9L373.2 -24.9L366.1 -30.2Z" fill="url(#gb)"/>
<path transform="translate(0 450.5)" d="M365.1 -25.6L372.3 -23.9L366.1 -33.5L359 -33.9Z" fill="url(#gb)"/>
<path transform="translate(0 453.8)" d="M358 -28L365.1 -28.9L359 -37.2L351.8 -34.5Z" fill="url(#gb)"/>
<path transform="translate(0 457.1)" d="M350.9 -23.7L358 -31.3L351.8 -37.8L344.7 -33.3Z" fill="url(#gb)"/>
<path transform="translate(0 460.3)" d="M343.7 -19.4L350.9 -27L344.7 -36.6L337.5 -31.4Z" fill="url(#gb)"/>
<path transform="translate(0 463.6)" d="M336.6 -17.6L343.7 -22.7L337.5 -34.7L330.4 -30.2Z" fill="url(#gb)"/>
<path transform="translate(0 466.9)" d="M329.5 -16.4L336.6 -20.9L330.4 -33.5L323.3 -27.7Z" fill="url(#gb)"/>
<path transform="translate(0 470.1)" d="M322.3 -14.5L329.5 -19.6L323.3 -31L316.1 -21.6Z" fill="url(#gb)"/>
<path transform="translate(0 473.4)" d="M315.2 -22.5L322.3 -17.8L316.1 -24.9L309 -35.1Z" fill="url(#gb)"/>
<path transform="translate(0 476.7)" d="M308 -21.9L315.2 -25.8L309 -38.4L301.9 -34.5Z" fill="url(#gb)"/>
<path transform="translate(0 480)" d="M300.9 -20.7L308 -25.2L301.9 -37.8L294.7 -32.7Z" fill="url(#gb)"/>
<path transform="translate(0 483.2)" d="M293.8 -19.4L300.9 -23.9L294.7 -35.9L287.6 -30.2Z" fill="url(#gb)"/>
<path transform="translate(0 486.5)" d="M286.6 -17.6L293.8 -22.7L287.6 -33.5L280.5 -27.7Z" fill="url(#gb)"/>
<path transform="translate(0 489.8)" d="M279.5 -15.7L286.6 -20.9L280.5 -31L273.3 -24.7Z" fill="url(#gb)"/>
<path transform="translate(0 424.7)" d="M435.5 -8.8L436.2 -8.9L430 -23.4L429.3 -23.4Z" fill="url(#gb)"/>
<path transform="translate(0 426.5)" d="M428.4 -9.3L435.5 -10.6L429.3 -25.2L422.2 -25.3Z" fill="url(#gb)"/>
<path transform="translate(0 429.8)" d="M421.2 -10.2L428.4 -12.5L422.2 -28.6L415.1 -31.4Z" fill="url(#gb)"/>
<path transform="translate(0 433.1)" d="M414.1 -7.7L421.2 -13.5L415.1 -34.7L407.9 -32.7Z" fill="url(#gb)"/>
<path transform="translate(0 436.3)" d="M407 -5.3L414.1 -11L407.9 -35.9L400.8 -20.4Z" fill="url(#gb)"/>
<path transform="translate(0 439.6)" d="M399.8 -3.7L407 -8.6L400.8 -23.6L393.7 -5Z" fill="url(#gb)"/>
<path d="M392.7 438.8L399.8 435.9L393.7 434.6L386.5 434.8Z" fill="#4746e8"/>
<path transform="translate(0 446.1)" d="M385.6 -5.9L392.7 -7.3L386.5 -11.3L379.4 -14.8Z" fill="url(#gb)"/>
<path transform="translate(0 449.4)" d="M378.4 -12L385.6 -9.2L379.4 -18.1L372.3 -22.8Z" fill="url(#gb)"/>
<path transform="translate(0 452.7)" d="M371.3 -18.2L378.4 -15.3L372.3 -26.1L365.1 -27.7Z" fill="url(#gb)"/>
<path transform="translate(0 456)" d="M364.2 -23.1L371.3 -21.5L365.1 -31L358 -30.2Z" fill="url(#gb)"/>
<path transform="translate(0 459.2)" d="M357 -13.9L364.2 -26.4L358 -33.5L350.9 -25.9Z" fill="url(#gb)"/>
<path transform="translate(0 462.5)" d="M349.9 -7.1L357 -17.2L350.9 -29.2L343.7 -21.6Z" fill="url(#gb)"/>
<path transform="translate(0 465.8)" d="M342.8 -4L349.9 -10.4L343.7 -24.9L336.6 -19.7Z" fill="url(#gb)"/>
<path transform="translate(0 469)" d="M335.6 -3L342.8 -7.3L336.6 -23L329.5 -18.5Z" fill="url(#gb)"/>
<path transform="translate(0 472.3)" d="M328.5 -3L335.6 -6.3L329.5 -21.8L322.3 -16.7Z" fill="url(#gb)"/>
<path transform="translate(0 475.6)" d="M321.4 -3L328.5 -6.2L322.3 -19.9L315.2 -24.7Z" fill="url(#gb)"/>
<path transform="translate(0 478.9)" d="M314.2 -2.9L321.4 -6.2L315.2 -27.9L308 -24.1Z" fill="url(#gb)"/>
<path transform="translate(0 482.1)" d="M307.1 -2.9L314.2 -6.2L308 -27.3L300.9 -22.8Z" fill="url(#gb)"/>
<path transform="translate(0 485.4)" d="M300 -2.9L307.1 -6.2L300.9 -26.1L293.8 -21.6Z" fill="url(#gb)"/>
<path transform="translate(0 488.7)" d="M292.8 -2.8L300 -6.1L293.8 -24.9L286.6 -19.7Z" fill="url(#gb)"/>
<path transform="translate(0 491.9)" d="M285.7 -2.8L292.8 -6.1L286.6 -23L279.5 -17.9Z" fill="url(#gb)"/>
<path d="M425.5 400.2L430.5 397.8L442.2 412.6L442.2 417.6L436 412.5Z" fill="#2f86f5"/><path d="M430.5 397.8L436 412.5" fill="none"/>
</g>
<path class="t" d="M91 444L96.5 441.5"/>
<path class="t" d="M152.8 465.7L158.2 463.2"/>
<path class="t" d="M214.5 487.3L220 484.8"/>
<path class="t" d="M263.9 504.6L267 503.2"/>
<path class="t" d="M251.6 500.3L254.7 498.9"/>
<path class="t" d="M239.2 496L242.3 494.6"/>
<path class="t" d="M226.9 491.6L230 490.2"/>
<path class="t" d="M202.2 483L205.3 481.6"/>
<path class="t" d="M189.8 478.6L192.9 477.2"/>
<path class="t" d="M177.5 474.3L180.6 472.9"/>
<path class="t" d="M165.1 470L168.2 468.6"/>
<path class="t" d="M140.4 461.3L143.5 459.9"/>
<path class="t" d="M128.1 457L131.2 455.6"/>
<path class="t" d="M115.7 452.7L118.8 451.2"/>
<path class="t" d="M103.4 448.3L106.5 446.9"/>
<path class="t" d="M78.7 439.7L81.8 438.2"/>
<path class="t" d="M284.7 500.1L279.1 498.1"/>
<path class="t" d="M356.1 467.4L350.4 465.4"/>
<path class="t" d="M427.4 434.7L421.8 432.7"/>
<path class="t" d="M270.5 506.6L267.2 505.5"/>
<path class="t" d="M299 493.6L295.8 492.4"/>
<path class="t" d="M313.3 487L310.1 485.9"/>
<path class="t" d="M327.5 480.5L324.3 479.3"/>
<path class="t" d="M341.8 473.9L338.6 472.8"/>
<path class="t" d="M370.3 460.8L367.1 459.7"/>
<path class="t" d="M384.6 454.3L381.4 453.2"/>
<path class="t" d="M398.9 447.8L395.7 446.6"/>
<path class="t" d="M413.1 441.2L409.9 440.1"/>
<path class="t" d="M441.7 428.1L438.5 427"/>
<path class="t" d="M72.5 437.5L78.5 437.5"/>
<path class="t" d="M72.5 425.2L78.5 425.2"/>
<path class="t" d="M72.5 412.9L78.5 412.9"/>
<path class="t" d="M72.5 400.6L78.5 400.6"/>
<path class="t" d="M72.5 388.3L78.5 388.3"/>
<path class="t" d="M72.5 434.4L75.9 434.4"/>
<path class="t" d="M72.5 431.3L75.9 431.3"/>
<path class="t" d="M72.5 428.3L75.9 428.3"/>
<path class="t" d="M72.5 422.1L75.9 422.1"/>
<path class="t" d="M72.5 419L75.9 419"/>
<path class="t" d="M72.5 416L75.9 416"/>
<path class="t" d="M72.5 409.8L75.9 409.8"/>
<path class="t" d="M72.5 406.7L75.9 406.7"/>
<path class="t" d="M72.5 403.7L75.9 403.7"/>
<path class="t" d="M72.5 397.5L75.9 397.5"/>
<path class="t" d="M72.5 394.4L75.9 394.4"/>
<path class="t" d="M72.5 391.4L75.9 391.4"/>
<path class="t" d="M72.5 385.2L75.9 385.2"/>
<path class="t" d="M72.5 382.1L75.9 382.1"/>
<path class="t" d="M72.5 379.1L75.9 379.1"/>
<text class="k" text-anchor="end" x="65.5" y="74.6">1.1</text>
<text class="k" text-anchor="end" x="65.5" y="112">1.05</text>
<text class="k" text-anchor="end" x="65.5" y="149.9">1</text>
<text class="k" text-anchor="middle" x="109" y="205.5">30</text>
<text class="k" text-anchor="middle" x="163" y="216.2">20</text>
<text class="k" text-anchor="middle" x="218.6" y="225">10</text>
<text class="k" text-anchor="middle" x="275.8" y="234.8">0</text>
<text class="k" text-anchor="middle" x="326" y="225.5">5</text>
<text class="k" text-anchor="middle" x="363.4" y="214">10</text>
<text class="k" text-anchor="middle" x="394.2" y="203">15</text>
<text class="k" text-anchor="middle" x="426.4" y="191.6">20</text>
<text class="l" text-anchor="middle" transform="translate(23.3 121.5) rotate(-90)">V/p.u.</text>
<text class="l" text-anchor="middle" transform="translate(191.5 227.5) rotate(11)">Node</text>
<text class="l" text-anchor="middle" transform="translate(377.5 245.5) rotate(-20)">Time/h</text>

<text class="k" text-anchor="end" x="66.5" y="390.6">80</text>
<text class="k" text-anchor="end" x="66.5" y="403">60</text>
<text class="k" text-anchor="end" x="66.5" y="414.8">40</text>
<text class="k" text-anchor="end" x="66.5" y="427.4">20</text>
<text class="k" text-anchor="end" x="66.5" y="440.3">0</text>
<text class="k" text-anchor="middle" x="76" y="463">30</text>
<text class="k" text-anchor="middle" x="137.5" y="484.5">20</text>
<text class="k" text-anchor="middle" x="200.5" y="506.5">10</text>
<text class="k" text-anchor="middle" x="294.6" y="517.5">0</text>
<text class="k" text-anchor="middle" x="372" y="486">10</text>
<text class="k" text-anchor="middle" x="442" y="453">20</text>
<text class="l" style="letter-spacing:2.5px" text-anchor="middle" transform="translate(37.5 409) rotate(-90)">I/A</text>
<text class="l" text-anchor="middle" transform="translate(177.5 508.5) rotate(17)">Node</text>
<text class="l" text-anchor="middle" transform="translate(363.5 529.5) rotate(-21.5)">Time/h</text>

</svg></body></html>
